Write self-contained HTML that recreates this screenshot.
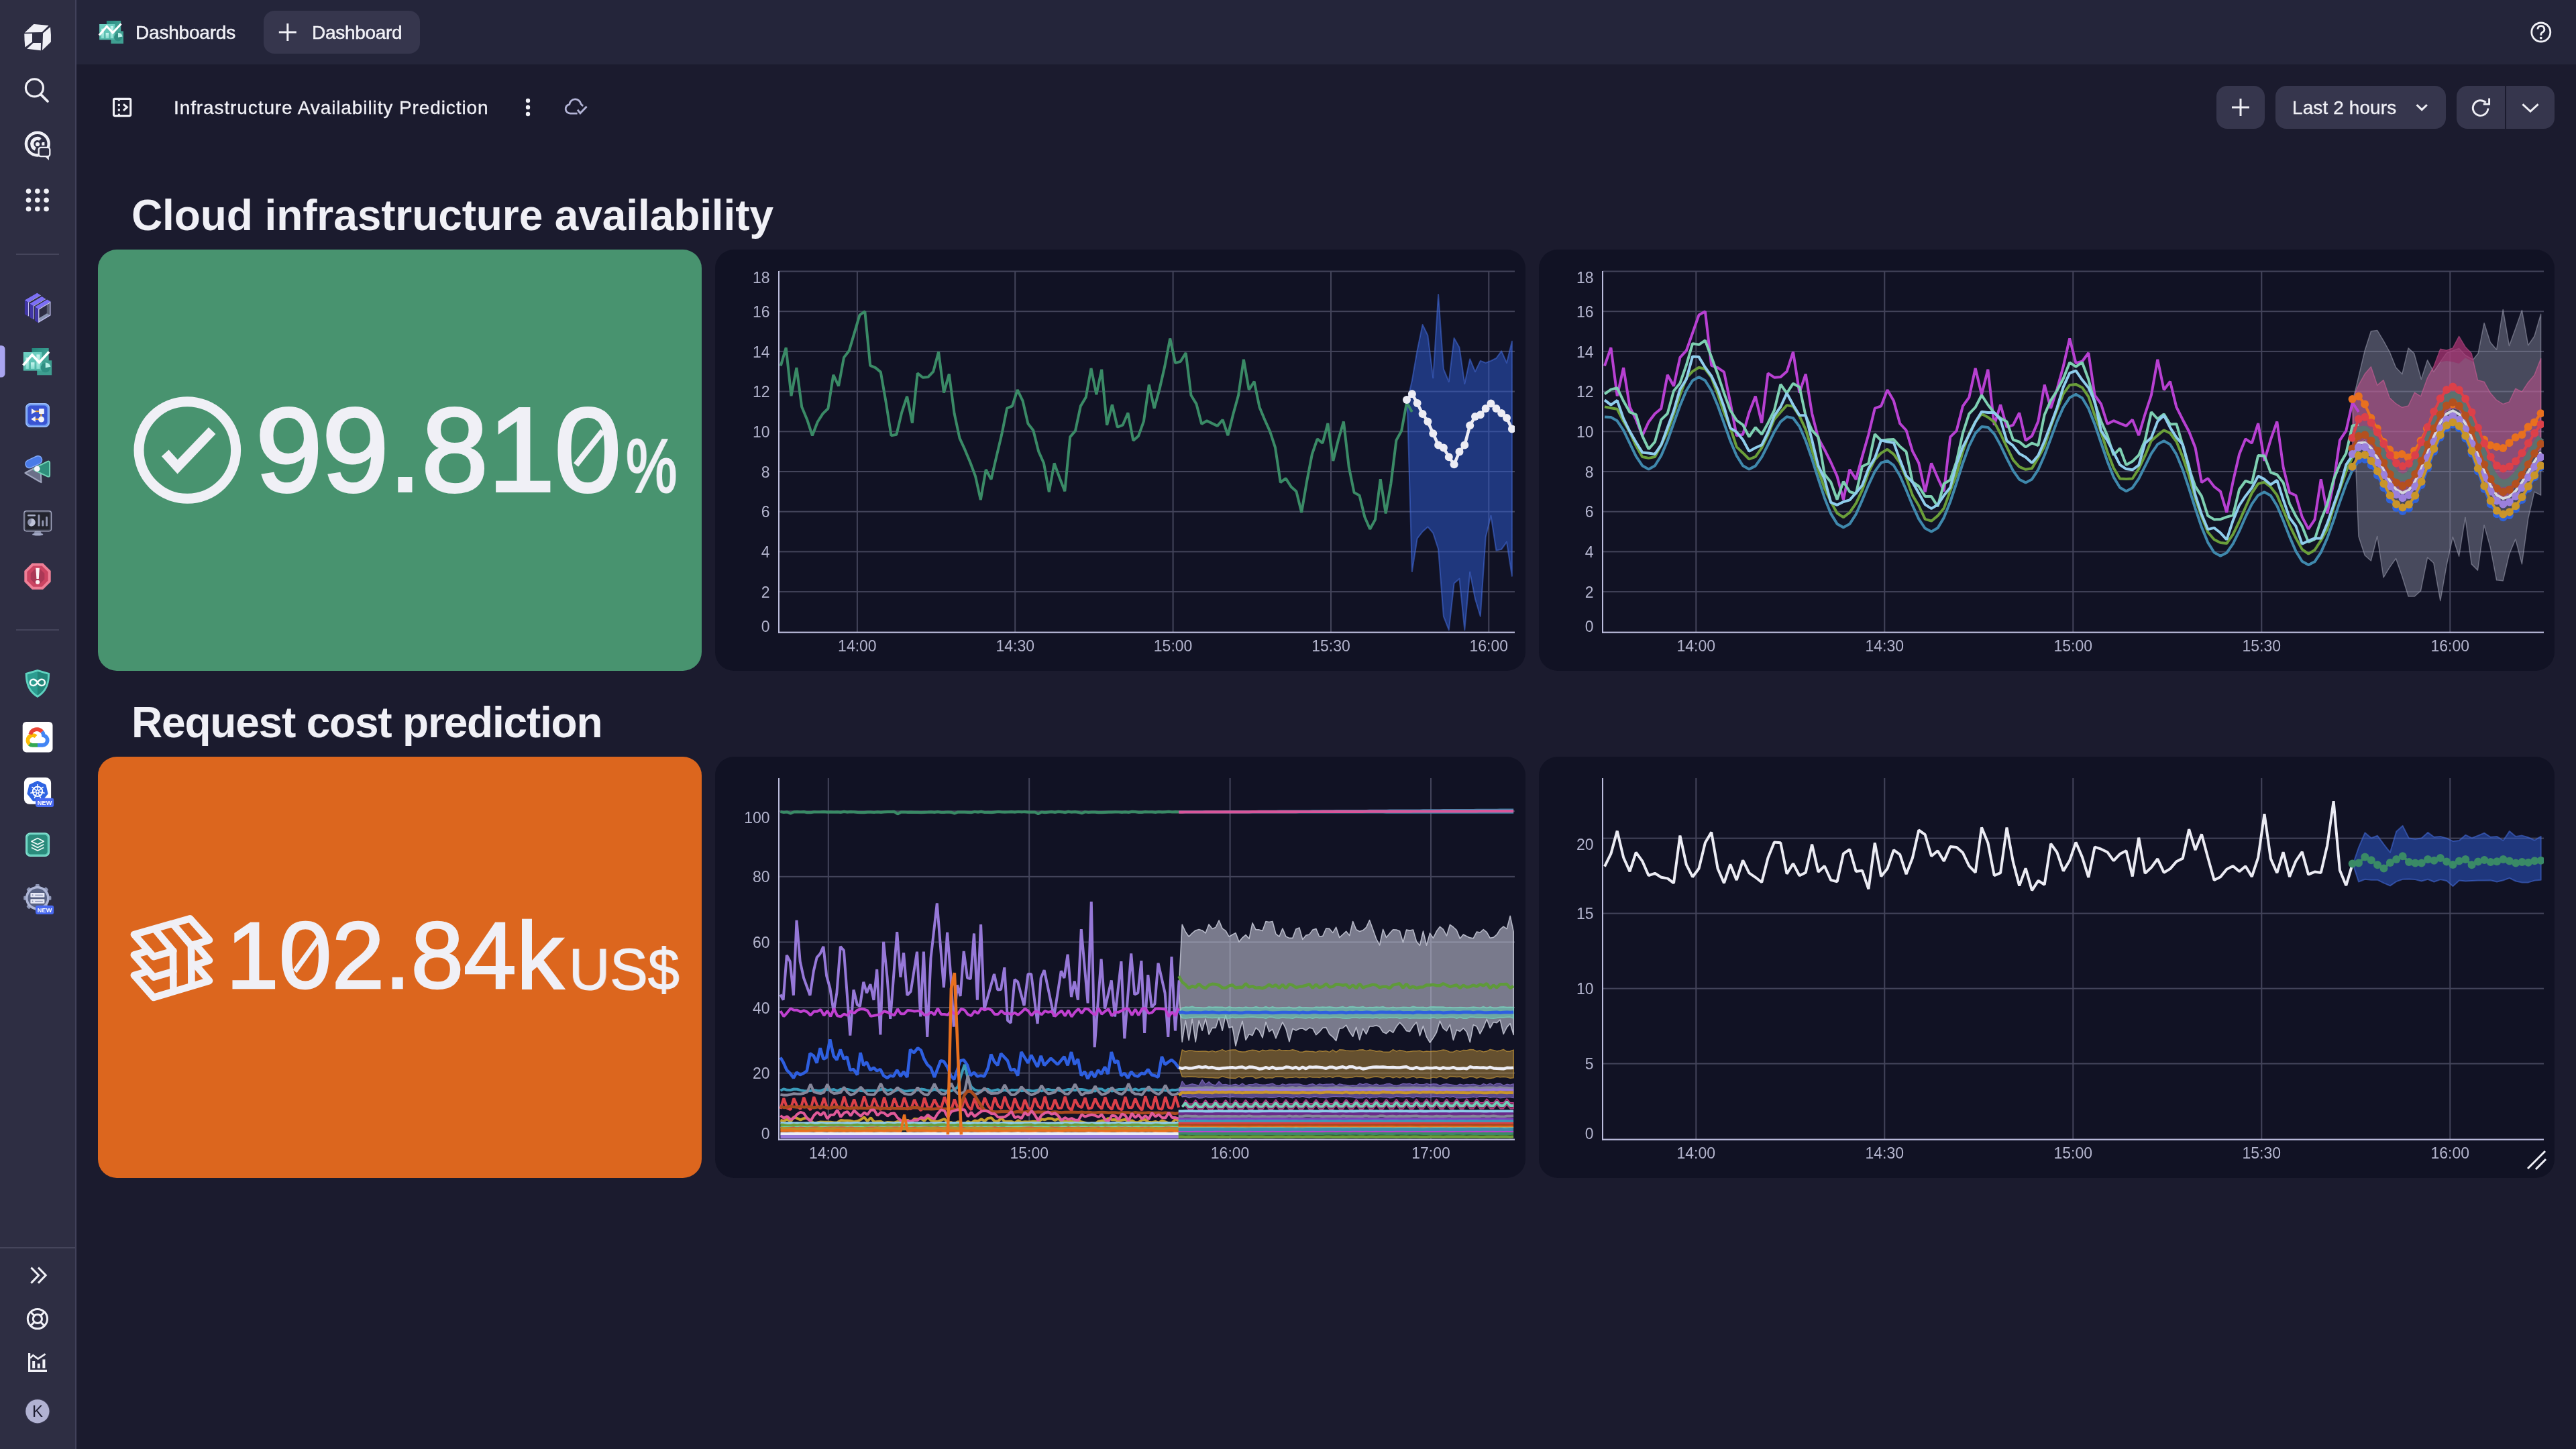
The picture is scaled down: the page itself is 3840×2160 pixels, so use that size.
<!DOCTYPE html><html><head><meta charset="utf-8"><title>Infrastructure Availability Prediction</title><style>
*{box-sizing:border-box;margin:0;padding:0}
html,body{width:3840px;height:2160px;overflow:hidden;background:#1b1b2e;font-family:"Liberation Sans",sans-serif;color:#f0f0f6}
.abs{position:absolute}
#sidebar{position:absolute;left:0;top:0;width:114px;height:2160px;background:#2e2e43;border-right:2px solid #41415a}
#topbar{position:absolute;left:114px;top:0;width:3726px;height:96px;background:#24253a}
#main{position:absolute;left:114px;top:96px;width:3726px;height:2064px;background:#1b1b2e}
.btn{position:absolute;background:#36364d;border-radius:16px}
.t{position:absolute;white-space:nowrap;line-height:1;transform-origin:0 0;will-change:transform}
svg{position:absolute;left:0;top:0;overflow:visible}
</style></head><body>
<div id="main"></div>
<div id="topbar"></div>
<div id="sidebar"></div>
<div class="btn" style="left:393px;top:16px;width:233px;height:64px"></div>
<div class="t" style="left:202px;top:34.70px;font-size:28px;font-weight:normal;color:#f0f0f6;letter-spacing:-0.2px;-webkit-text-stroke:0.5px #f0f0f6;">Dashboards</div>
<div class="t" style="left:465px;top:34.70px;font-size:28px;font-weight:normal;color:#f0f0f6;letter-spacing:-0.3px;-webkit-text-stroke:0.5px #f0f0f6;">Dashboard</div>
<div class="t" style="left:258.5px;top:146.60px;font-size:28px;font-weight:normal;color:#f0f0f6;letter-spacing:0.9px;-webkit-text-stroke:0.35px #f0f0f6;">Infrastructure Availability Prediction</div>
<div class="btn" style="left:3304px;top:128px;width:72px;height:64px"></div>
<div class="btn" style="left:3392px;top:128px;width:254px;height:64px"></div>
<div class="btn" style="left:3662px;top:128px;width:72px;height:64px;border-radius:16px 0 0 16px"></div>
<div class="btn" style="left:3736px;top:128px;width:72px;height:64px;border-radius:0 16px 16px 0"></div>
<div class="t" style="left:3416.5px;top:146.60px;font-size:28px;font-weight:normal;color:#f0f0f6;letter-spacing:0.1px;-webkit-text-stroke:0.35px #f0f0f6;">Last 2 hours</div>
<div class="t" style="left:196px;top:288.62px;font-size:64px;font-weight:bold;color:#f0f0f6;letter-spacing:-0.1px;">Cloud infrastructure availability</div>
<div class="t" style="left:196px;top:1044.62px;font-size:64px;font-weight:bold;color:#f0f0f6;letter-spacing:-1.2px;">Request cost prediction</div>
<div class="abs" style="left:146px;top:372px;width:900px;height:628px;border-radius:28px;background:#48936f"></div>
<div class="abs" style="left:146px;top:1128px;width:900px;height:628px;border-radius:28px;background:#dc661e"></div>
<div class="t" style="left:381px;top:581.28px;font-size:179px;font-weight:normal;color:#f0f0f6;-webkit-text-stroke:4px #f0f0f6;letter-spacing:-0.5px;">99.810</div>
<div class="t" style="left:932.5px;top:637.85px;font-size:113px;font-weight:normal;color:#f0f0f6;-webkit-text-stroke:3px #f0f0f6;transform:scaleX(0.76);">%</div>
<div class="t" style="left:337px;top:1354.22px;font-size:141.5px;font-weight:normal;color:#f0f0f6;-webkit-text-stroke:2.5px #f0f0f6;">102.84k</div>
<div class="t" style="left:848px;top:1401.35px;font-size:87px;font-weight:normal;color:#f0f0f6;-webkit-text-stroke:1.2px #f0f0f6;transform:scaleX(0.975);">US$</div>
<svg width="3840" height="2160" viewBox="0 0 3840 2160">
<rect x="1066" y="372" width="1208" height="628" rx="28" fill="#111224"/><rect x="1161" y="881.1" width="1097" height="2" fill="#43445a"/><rect x="1161" y="821.4" width="1097" height="2" fill="#43445a"/><rect x="1161" y="761.7" width="1097" height="2" fill="#43445a"/><rect x="1161" y="702.0" width="1097" height="2" fill="#43445a"/><rect x="1161" y="642.3" width="1097" height="2" fill="#43445a"/><rect x="1161" y="582.6" width="1097" height="2" fill="#43445a"/><rect x="1161" y="522.9" width="1097" height="2" fill="#43445a"/><rect x="1161" y="463.2" width="1097" height="2" fill="#43445a"/><rect x="1161" y="403.5" width="1097" height="2" fill="#43445a"/><rect x="1276.9" y="404" width="2" height="538" fill="#43445a"/><rect x="1512.2" y="404" width="2" height="538" fill="#43445a"/><rect x="1747.6" y="404" width="2" height="538" fill="#43445a"/><rect x="1983.0" y="404" width="2" height="538" fill="#43445a"/><rect x="2218.3" y="404" width="2" height="538" fill="#43445a"/><clipPath id="c1"><rect x="1161" y="400" width="1097" height="542"/></clipPath><g clip-path="url(#c1)"><path d="M2097.8,598.5 L2104.9,567.2 L2112.7,522.1 L2120.6,483.9 L2128.4,500.0 L2136.3,563.3 L2144.1,439.1 L2151.9,550.2 L2159.8,569.0 L2167.6,503.9 L2175.5,517.9 L2183.3,572.0 L2191.2,535.2 L2199.0,554.0 L2206.8,537.9 L2214.7,540.9 L2222.5,537.9 L2230.4,534.0 L2238.2,523.3 L2246.0,540.9 L2253.9,508.7 L2253.9,858.8 L2246.0,807.8 L2238.2,818.8 L2230.4,820.6 L2222.5,768.7 L2214.7,800.6 L2206.8,918.8 L2199.0,892.8 L2191.2,852.8 L2183.3,939.1 L2175.5,862.7 L2167.6,869.6 L2159.8,939.1 L2151.9,918.8 L2144.1,818.8 L2136.3,794.6 L2128.4,785.4 L2120.6,792.5 L2112.7,802.7 L2104.9,852.0 L2097.8,598.5 Z" fill="rgba(46,92,214,0.50)" stroke="rgba(70,110,220,0.55)" stroke-width="2" stroke-linejoin="round"/><path d="M1163.8,545.4 L1171.7,518.2 L1179.5,590.2 L1187.4,548.1 L1195.2,606.6 L1203.1,625.4 L1210.9,649.3 L1218.7,629.0 L1226.6,616.7 L1234.4,609.0 L1242.3,558.8 L1250.1,575.5 L1258.0,532.9 L1265.8,522.7 L1273.6,496.4 L1281.5,469.6 L1289.3,464.2 L1297.2,544.8 L1305.0,548.1 L1312.8,554.6 L1320.7,599.7 L1328.5,649.3 L1336.4,647.8 L1344.2,614.9 L1352.1,590.8 L1359.9,630.5 L1367.7,556.4 L1375.6,562.7 L1383.4,562.1 L1391.3,553.8 L1399.1,524.5 L1407.0,585.4 L1414.8,557.6 L1422.6,616.4 L1430.5,653.2 L1438.3,670.2 L1446.2,689.0 L1454.0,709.9 L1461.8,745.1 L1469.7,700.0 L1477.5,714.6 L1485.4,680.6 L1493.2,647.8 L1501.1,608.7 L1508.9,605.4 L1516.7,581.2 L1524.6,597.6 L1532.4,631.4 L1540.3,641.5 L1548.1,672.6 L1555.9,690.2 L1563.8,733.4 L1571.6,690.5 L1579.5,712.3 L1587.3,732.3 L1595.2,651.4 L1603.0,642.1 L1610.8,605.4 L1618.7,592.3 L1626.5,549.0 L1634.4,588.1 L1642.2,550.8 L1650.1,633.7 L1657.9,603.3 L1665.7,636.7 L1673.6,633.7 L1681.4,615.5 L1689.3,656.7 L1697.1,649.9 L1704.9,628.1 L1712.8,573.5 L1720.6,608.7 L1728.5,580.0 L1736.3,546.0 L1744.2,504.5 L1752.0,541.2 L1759.8,538.8 L1767.7,526.0 L1775.5,589.3 L1783.4,602.1 L1791.2,632.0 L1799.1,627.2 L1806.9,631.1 L1814.7,634.9 L1822.6,625.7 L1830.4,649.0 L1838.3,617.3 L1846.1,589.0 L1853.9,535.8 L1861.8,581.2 L1869.6,568.7 L1877.5,606.9 L1885.3,625.7 L1893.2,643.3 L1901.0,667.2 L1908.8,719.1 L1916.7,713.1 L1924.5,725.4 L1932.4,732.6 L1940.2,763.9 L1948.0,717.9 L1955.9,677.0 L1963.7,654.3 L1971.6,660.6 L1979.4,631.1 L1987.3,686.9 L1995.1,655.2 L2002.9,628.4 L2010.8,696.4 L2018.6,734.3 L2026.5,738.5 L2034.3,770.5 L2042.2,788.7 L2050.0,774.6 L2057.8,714.3 L2065.7,765.4 L2073.5,720.3 L2081.4,656.4 L2089.2,642.1 L2097.0,600.0 L2104.9,614.0" fill="none" stroke="#3a8a66" stroke-width="4" stroke-linejoin="bevel" stroke-linecap="butt" /><path d="M2097.0,596.1 L2104.9,587.2 L2112.7,600.9 L2120.6,617.0 L2128.4,628.4 L2136.3,646.3 L2144.1,663.6 L2151.9,667.5 L2159.8,681.2 L2167.6,692.3 L2175.5,673.4 L2183.3,663.6 L2191.2,634.3 L2199.0,620.9 L2206.8,618.2 L2214.7,609.0 L2222.5,601.5 L2230.4,609.0 L2238.2,616.1 L2246.0,623.0 L2253.9,639.4" fill="none" stroke="#ececf4" stroke-width="4.6" stroke-linejoin="bevel" stroke-linecap="butt" /><circle cx="2097.0" cy="596.1" r="6.0" fill="#ececf4"/><circle cx="2104.9" cy="587.2" r="6.0" fill="#ececf4"/><circle cx="2112.7" cy="600.9" r="6.0" fill="#ececf4"/><circle cx="2120.6" cy="617.0" r="6.0" fill="#ececf4"/><circle cx="2128.4" cy="628.4" r="6.0" fill="#ececf4"/><circle cx="2136.3" cy="646.3" r="6.0" fill="#ececf4"/><circle cx="2144.1" cy="663.6" r="6.0" fill="#ececf4"/><circle cx="2151.9" cy="667.5" r="6.0" fill="#ececf4"/><circle cx="2159.8" cy="681.2" r="6.0" fill="#ececf4"/><circle cx="2167.6" cy="692.3" r="6.0" fill="#ececf4"/><circle cx="2175.5" cy="673.4" r="6.0" fill="#ececf4"/><circle cx="2183.3" cy="663.6" r="6.0" fill="#ececf4"/><circle cx="2191.2" cy="634.3" r="6.0" fill="#ececf4"/><circle cx="2199.0" cy="620.9" r="6.0" fill="#ececf4"/><circle cx="2206.8" cy="618.2" r="6.0" fill="#ececf4"/><circle cx="2214.7" cy="609.0" r="6.0" fill="#ececf4"/><circle cx="2222.5" cy="601.5" r="6.0" fill="#ececf4"/><circle cx="2230.4" cy="609.0" r="6.0" fill="#ececf4"/><circle cx="2238.2" cy="616.1" r="6.0" fill="#ececf4"/><circle cx="2246.0" cy="623.0" r="6.0" fill="#ececf4"/><circle cx="2253.9" cy="639.4" r="6.0" fill="#ececf4"/></g><rect x="1160" y="404" width="2" height="539.8" fill="#bbbcdc"/><rect x="1160" y="941.6" width="1098" height="2.2" fill="#bbbcdc"/><text x="1147.5" y="890.7" font-size="23" fill="#b4b5ce" text-anchor="end" font-family="Liberation Sans, sans-serif">2</text><text x="1147.5" y="831.0" font-size="23" fill="#b4b5ce" text-anchor="end" font-family="Liberation Sans, sans-serif">4</text><text x="1147.5" y="771.3" font-size="23" fill="#b4b5ce" text-anchor="end" font-family="Liberation Sans, sans-serif">6</text><text x="1147.5" y="711.6" font-size="23" fill="#b4b5ce" text-anchor="end" font-family="Liberation Sans, sans-serif">8</text><text x="1147.5" y="651.9" font-size="23" fill="#b4b5ce" text-anchor="end" font-family="Liberation Sans, sans-serif">10</text><text x="1147.5" y="592.2" font-size="23" fill="#b4b5ce" text-anchor="end" font-family="Liberation Sans, sans-serif">12</text><text x="1147.5" y="532.5" font-size="23" fill="#b4b5ce" text-anchor="end" font-family="Liberation Sans, sans-serif">14</text><text x="1147.5" y="472.8" font-size="23" fill="#b4b5ce" text-anchor="end" font-family="Liberation Sans, sans-serif">16</text><text x="1147.5" y="421.5" font-size="23" fill="#b4b5ce" text-anchor="end" font-family="Liberation Sans, sans-serif">18</text><text x="1147.5" y="942.1" font-size="23" fill="#b4b5ce" text-anchor="end" font-family="Liberation Sans, sans-serif">0</text><text x="1277.9" y="971.2" font-size="23" fill="#b4b5ce" text-anchor="middle" font-family="Liberation Sans, sans-serif">14:00</text><text x="1513.2" y="971.2" font-size="23" fill="#b4b5ce" text-anchor="middle" font-family="Liberation Sans, sans-serif">14:30</text><text x="1748.6" y="971.2" font-size="23" fill="#b4b5ce" text-anchor="middle" font-family="Liberation Sans, sans-serif">15:00</text><text x="1984.0" y="971.2" font-size="23" fill="#b4b5ce" text-anchor="middle" font-family="Liberation Sans, sans-serif">15:30</text><text x="2219.3" y="971.2" font-size="23" fill="#b4b5ce" text-anchor="middle" font-family="Liberation Sans, sans-serif">16:00</text><rect x="2294" y="372" width="1514" height="628" rx="28" fill="#111224"/><rect x="2389" y="881.1" width="1403" height="2" fill="#43445a"/><rect x="2389" y="821.4" width="1403" height="2" fill="#43445a"/><rect x="2389" y="761.7" width="1403" height="2" fill="#43445a"/><rect x="2389" y="702.0" width="1403" height="2" fill="#43445a"/><rect x="2389" y="642.3" width="1403" height="2" fill="#43445a"/><rect x="2389" y="582.6" width="1403" height="2" fill="#43445a"/><rect x="2389" y="522.9" width="1403" height="2" fill="#43445a"/><rect x="2389" y="463.2" width="1403" height="2" fill="#43445a"/><rect x="2389" y="403.5" width="1403" height="2" fill="#43445a"/><rect x="2527.3" y="404" width="2" height="538" fill="#43445a"/><rect x="2808.3" y="404" width="2" height="538" fill="#43445a"/><rect x="3089.3" y="404" width="2" height="538" fill="#43445a"/><rect x="3370.3" y="404" width="2" height="538" fill="#43445a"/><rect x="3651.3" y="404" width="2" height="538" fill="#43445a"/><clipPath id="c2"><rect x="2389" y="400" width="1403" height="542"/></clipPath><g clip-path="url(#c2)"><path d="M3506.6,599.0 L3510.9,582.5 L3525.1,522.8 L3534.4,493.7 L3543.7,492.4 L3553.0,507.9 L3562.2,524.5 L3571.5,547.7 L3580.8,557.6 L3590.1,518.9 L3598.7,526.8 L3609.3,565.2 L3618.6,536.8 L3627.8,554.3 L3637.8,539.4 L3647.1,526.1 L3656.3,522.8 L3665.6,519.5 L3674.9,529.5 L3686.5,536.1 L3694.1,526.8 L3703.1,481.4 L3712.3,510.2 L3721.6,521.2 L3731.2,461.5 L3740.5,515.5 L3749.8,489.7 L3759.4,462.5 L3768.7,514.6 L3777.9,501.3 L3787.6,468.2 L3787.6,738.2 L3777.9,733.2 L3768.7,773.0 L3759.4,840.9 L3749.8,803.8 L3740.5,826.0 L3731.2,865.8 L3721.6,864.8 L3712.3,816.1 L3703.1,782.9 L3693.5,850.2 L3684.2,840.9 L3674.9,771.3 L3665.6,829.3 L3656.3,800.5 L3647.1,842.6 L3637.8,895.6 L3627.8,839.3 L3618.6,831.0 L3608.6,880.7 L3599.4,889.0 L3590.1,889.0 L3580.8,859.2 L3571.5,832.6 L3562.2,845.9 L3553.0,860.8 L3543.7,799.5 L3534.4,836.0 L3525.1,827.7 L3515.9,799.5 L3511.9,698.4 L3506.6,599.0 Z" fill="rgba(150,152,175,0.42)" stroke="rgba(170,172,190,0.5)" stroke-width="1.5" stroke-linejoin="round"/><path d="M3507.2,605.7 L3510.9,585.8 L3515.9,574.2 L3525.1,557.6 L3534.4,546.7 L3543.7,574.2 L3553.0,566.6 L3562.2,593.1 L3571.5,601.7 L3580.8,607.3 L3590.1,605.0 L3599.4,585.1 L3608.6,590.8 L3618.6,563.3 L3627.8,546.7 L3637.8,520.2 L3647.1,522.2 L3656.3,518.9 L3665.6,501.3 L3674.9,516.9 L3684.2,526.8 L3693.5,566.6 L3703.1,569.2 L3712.3,585.8 L3721.6,596.4 L3731.2,602.4 L3740.5,599.0 L3749.8,579.2 L3759.4,584.1 L3768.7,569.9 L3777.9,559.3 L3787.6,534.4 L3787.6,669.6 L3777.9,676.9 L3768.7,689.5 L3759.4,706.7 L3749.8,723.3 L3740.5,736.6 L3731.2,741.5 L3721.6,735.9 L3712.3,721.6 L3703.1,700.1 L3693.5,673.6 L3684.2,647.1 L3674.9,625.6 L3665.6,610.6 L3656.3,608.0 L3646.1,613.3 L3636.8,627.2 L3627.2,647.1 L3617.9,670.3 L3608.6,695.1 L3599.0,716.7 L3589.7,729.9 L3580.5,732.6 L3571.5,726.6 L3562.2,715.0 L3553.0,698.4 L3543.7,680.2 L3534.4,665.3 L3525.1,655.4 L3515.9,660.3 L3506.6,676.9 Z" fill="rgba(215,80,150,0.46)" stroke="rgba(225,100,160,0.5)" stroke-width="1.5" stroke-linejoin="round"/><path d="M3627.8,546.7 L3637.8,520.2 L3647.1,522.2 L3656.3,518.9 L3665.6,501.3 L3674.9,516.9 L3684.2,526.8 L3688.2,539.4 L3688.2,539.4 L3684.2,538.1 L3674.9,533.4 L3665.6,542.1 L3656.3,539.4 L3647.1,538.1 L3637.8,539.4 L3627.8,549.3 Z" fill="rgba(150,40,100,0.55)"/><path d="M2392.0,545.4 L2401.4,518.2 L2410.7,590.2 L2420.1,548.1 L2429.5,606.6 L2438.8,625.4 L2448.2,649.3 L2457.6,629.0 L2466.9,616.7 L2476.3,609.0 L2485.7,558.8 L2495.0,575.5 L2504.4,532.9 L2513.8,522.7 L2523.1,496.4 L2532.5,469.6 L2541.9,464.2 L2551.2,544.8 L2560.6,548.1 L2570.0,554.6 L2579.3,599.7 L2588.7,649.3 L2598.1,647.8 L2607.4,614.9 L2616.8,590.8 L2626.2,630.5 L2635.5,556.4 L2644.9,562.7 L2654.3,562.1 L2663.6,553.8 L2673.0,524.5 L2682.4,585.4 L2691.7,557.6 L2701.1,616.4 L2710.5,653.2 L2719.8,670.2 L2729.2,689.0 L2738.6,709.9 L2747.9,745.1 L2757.3,700.0 L2766.7,714.6 L2776.0,680.6 L2785.4,647.8 L2794.8,608.7 L2804.1,605.4 L2813.5,581.2 L2822.9,597.6 L2832.2,631.4 L2841.6,641.5 L2851.0,672.6 L2860.3,690.2 L2869.7,733.4 L2879.1,690.5 L2888.5,712.3 L2897.8,732.3 L2907.2,651.4 L2916.6,642.1 L2925.9,605.4 L2935.3,592.3 L2944.7,549.0 L2954.0,588.1 L2963.4,550.8 L2972.8,633.7 L2982.1,603.3 L2991.5,636.7 L3000.9,633.7 L3010.2,615.5 L3019.6,656.7 L3029.0,649.9 L3038.3,628.1 L3047.7,573.5 L3057.1,608.7 L3066.4,580.0 L3075.8,546.0 L3085.2,504.5 L3094.5,541.2 L3103.9,538.8 L3113.3,526.0 L3122.6,589.3 L3132.0,602.1 L3141.4,632.0 L3150.7,627.2 L3160.1,631.1 L3169.5,634.9 L3178.8,625.7 L3188.2,649.0 L3197.6,617.3 L3206.9,589.0 L3216.3,535.8 L3225.7,581.2 L3235.0,568.7 L3244.4,606.9 L3253.8,625.7 L3263.1,643.3 L3272.5,667.2 L3281.9,719.1 L3291.2,713.1 L3300.6,725.4 L3310.0,732.6 L3319.3,763.9 L3328.7,717.9 L3338.1,677.0 L3347.4,654.3 L3356.8,660.6 L3366.2,631.1 L3375.5,686.9 L3384.9,655.2 L3394.3,628.4 L3403.6,696.4 L3413.0,734.3 L3422.4,738.5 L3431.7,770.5 L3441.1,788.7 L3450.5,774.6 L3459.8,714.3 L3469.2,765.4 L3478.6,720.3 L3487.9,656.4 L3497.3,642.1 L3506.7,600.0 L3516.0,614.0" fill="none" stroke="#b840d2" stroke-width="4" stroke-linejoin="bevel" stroke-linecap="butt" /><path d="M2392.0,621.5 L2401.4,622.1 L2410.7,627.3 L2420.1,641.4 L2429.5,660.8 L2438.8,680.1 L2448.2,694.2 L2457.6,699.4 L2466.9,694.2 L2476.3,679.3 L2485.7,657.0 L2495.0,630.8 L2504.4,604.5 L2513.8,582.2 L2523.1,567.3 L2532.5,562.1 L2541.9,567.3 L2551.2,582.2 L2560.6,604.5 L2570.0,630.8 L2579.3,657.0 L2588.7,679.3 L2598.1,694.2 L2607.4,699.4 L2616.8,694.6 L2626.2,681.4 L2635.5,663.0 L2644.9,643.8 L2654.3,628.6 L2663.6,621.1 L2673.0,623.2 L2682.4,635.7 L2691.7,657.0 L2701.1,684.2 L2710.5,713.9 L2719.8,742.2 L2729.2,765.6 L2738.6,780.9 L2747.9,786.3 L2757.3,781.1 L2766.7,766.5 L2776.0,745.6 L2785.4,722.8 L2794.8,702.8 L2804.1,689.9 L2813.5,686.8 L2822.9,693.7 L2832.2,709.2 L2841.6,730.4 L2851.0,753.3 L2860.3,773.6 L2869.7,787.6 L2879.1,792.5 L2888.5,787.1 L2897.8,771.6 L2907.2,748.0 L2916.6,719.8 L2925.9,690.7 L2935.3,664.9 L2944.7,645.8 L2954.0,636.1 L2963.4,636.9 L2972.8,646.9 L2982.1,663.6 L2991.5,683.3 L3000.9,701.7 L3010.2,714.7 L3019.6,719.4 L3029.0,714.4 L3038.3,700.1 L3047.7,678.8 L3057.1,653.6 L3066.4,628.4 L3075.8,607.1 L3085.2,592.8 L3094.5,587.8 L3103.9,593.3 L3113.3,608.9 L3122.6,632.4 L3132.0,660.0 L3141.4,687.7 L3150.7,711.1 L3160.1,726.8 L3169.5,732.3 L3178.8,727.2 L3188.2,713.5 L3197.6,694.8 L3206.9,676.1 L3216.3,662.3 L3225.7,657.3 L3235.0,662.5 L3244.4,677.4 L3253.8,700.2 L3263.1,728.1 L3272.5,757.9 L3281.9,785.8 L3291.2,808.6 L3300.6,823.5 L3310.0,828.7 L3319.3,824.0 L3328.7,810.7 L3338.1,791.7 L3347.4,770.5 L3356.8,751.4 L3366.2,738.2 L3375.5,733.4 L3384.9,738.8 L3394.3,753.9 L3403.6,775.7 L3413.0,799.9 L3422.4,821.6 L3431.7,836.7 L3441.1,842.1 L3450.5,837.3 L3459.8,823.4 L3469.2,802.1 L3478.6,776.0 L3487.9,748.2 L3497.3,722.1 L3506.7,700.8 L3516.0,686.9" fill="none" stroke="#3f88ac" stroke-width="4" stroke-linejoin="bevel" stroke-linecap="butt" /><path d="M2392.0,606.4 L2401.4,608.2 L2410.7,609.8 L2420.1,628.1 L2429.5,644.1 L2438.8,664.6 L2448.2,681.0 L2457.6,682.9 L2466.9,681.1 L2476.3,663.4 L2485.7,643.7 L2495.0,617.3 L2504.4,588.6 L2513.8,563.5 L2523.1,553.6 L2532.5,547.7 L2541.9,550.0 L2551.2,562.6 L2560.6,587.5 L2570.0,615.1 L2579.3,637.2 L2588.7,666.1 L2598.1,675.2 L2607.4,684.5 L2616.8,680.8 L2626.2,667.7 L2635.5,647.9 L2644.9,625.1 L2654.3,614.5 L2663.6,604.1 L2673.0,605.8 L2682.4,620.2 L2691.7,640.2 L2701.1,670.9 L2710.5,700.6 L2719.8,727.9 L2729.2,747.9 L2738.6,765.0 L2747.9,771.2 L2757.3,764.0 L2766.7,750.4 L2776.0,730.6 L2785.4,704.3 L2794.8,685.0 L2804.1,675.4 L2813.5,669.8 L2822.9,677.1 L2832.2,690.1 L2841.6,712.3 L2851.0,738.4 L2860.3,753.8 L2869.7,773.9 L2879.1,776.7 L2888.5,768.9 L2897.8,757.6 L2907.2,731.7 L2916.6,706.7 L2925.9,673.1 L2935.3,646.5 L2944.7,628.8 L2954.0,617.0 L2963.4,621.9 L2972.8,629.1 L2982.1,646.5 L2991.5,666.3 L3000.9,685.6 L3010.2,695.9 L3019.6,699.8 L3029.0,698.2 L3038.3,682.5 L3047.7,665.5 L3057.1,635.7 L3066.4,610.9 L3075.8,587.1 L3085.2,574.1 L3094.5,572.9 L3103.9,577.7 L3113.3,591.3 L3122.6,619.4 L3132.0,643.9 L3141.4,673.6 L3150.7,697.4 L3160.1,713.5 L3169.5,713.9 L3178.8,713.5 L3188.2,698.9 L3197.6,679.2 L3206.9,657.0 L3216.3,648.9 L3225.7,641.3 L3235.0,645.7 L3244.4,658.2 L3253.8,681.5 L3263.1,709.1 L3272.5,743.0 L3281.9,770.0 L3291.2,793.2 L3300.6,804.3 L3310.0,809.0 L3319.3,810.0 L3328.7,796.6 L3338.1,777.2 L3347.4,756.0 L3356.8,735.1 L3366.2,721.1 L3375.5,718.7 L3384.9,726.0 L3394.3,738.1 L3403.6,760.2 L3413.0,783.0 L3422.4,802.0 L3431.7,818.9 L3441.1,825.6 L3450.5,820.0 L3459.8,805.7 L3469.2,788.9 L3478.6,756.7 L3487.9,729.8 L3497.3,703.0 L3506.7,682.3 L3516.0,671.3" fill="none" stroke="#6a9e3a" stroke-width="4" stroke-linejoin="bevel" stroke-linecap="butt" /><path d="M2392.0,587.4 L2401.4,580.6 L2410.7,578.3 L2420.1,597.8 L2429.5,614.4 L2438.8,618.1 L2448.2,649.9 L2457.6,669.4 L2466.9,658.7 L2476.3,625.6 L2485.7,616.5 L2495.0,582.7 L2504.4,571.2 L2513.8,544.2 L2523.1,512.1 L2532.5,513.8 L2541.9,507.5 L2551.2,532.3 L2560.6,557.8 L2570.0,586.1 L2579.3,611.5 L2588.7,626.5 L2598.1,633.4 L2607.4,651.2 L2616.8,637.2 L2626.2,647.5 L2635.5,630.7 L2644.9,611.6 L2654.3,573.0 L2663.6,586.1 L2673.0,571.7 L2682.4,576.9 L2691.7,619.9 L2701.1,641.3 L2710.5,651.5 L2719.8,707.1 L2729.2,718.8 L2738.6,744.7 L2747.9,717.8 L2757.3,733.0 L2766.7,736.0 L2776.0,695.3 L2785.4,690.8 L2794.8,647.1 L2804.1,656.7 L2813.5,655.6 L2822.9,655.0 L2832.2,665.5 L2841.6,673.6 L2851.0,718.5 L2860.3,725.0 L2869.7,739.9 L2879.1,740.1 L2888.5,754.9 L2897.8,720.9 L2907.2,715.4 L2916.6,687.7 L2925.9,646.0 L2935.3,616.8 L2944.7,607.1 L2954.0,589.0 L2963.4,603.5 L2972.8,615.4 L2982.1,623.5 L2991.5,628.5 L3000.9,655.5 L3010.2,658.6 L3019.6,666.4 L3029.0,660.5 L3038.3,664.1 L3047.7,618.2 L3057.1,596.9 L3066.4,582.3 L3075.8,564.3 L3085.2,540.4 L3094.5,546.7 L3103.9,540.2 L3113.3,565.8 L3122.6,600.7 L3132.0,627.8 L3141.4,649.4 L3150.7,678.5 L3160.1,668.3 L3169.5,693.1 L3178.8,687.8 L3188.2,678.5 L3197.6,656.3 L3206.9,614.3 L3216.3,624.5 L3225.7,617.3 L3235.0,632.6 L3244.4,631.9 L3253.8,663.7 L3263.1,698.1 L3272.5,725.1 L3281.9,739.7 L3291.2,768.8 L3300.6,774.4 L3310.0,774.2 L3319.3,770.6 L3328.7,768.1 L3338.1,729.5 L3347.4,716.8 L3356.8,720.1 L3366.2,679.0 L3375.5,679.5 L3384.9,704.4 L3394.3,707.5 L3403.6,719.4 L3413.0,750.8 L3422.4,769.4 L3431.7,784.4 L3441.1,807.9 L3450.5,804.0 L3459.8,775.2 L3469.2,751.7 L3478.6,715.2 L3487.9,692.2 L3497.3,675.7 L3506.7,634.4 L3516.0,632.9" fill="none" stroke="#7ed0b2" stroke-width="4" stroke-linejoin="bevel" stroke-linecap="butt" /><path d="M2392.0,596.3 L2401.4,603.6 L2410.7,596.8 L2420.1,623.9 L2429.5,643.1 L2438.8,659.2 L2448.2,674.4 L2457.6,675.6 L2466.9,676.9 L2476.3,663.2 L2485.7,637.5 L2495.0,612.3 L2504.4,580.1 L2513.8,565.5 L2523.1,531.4 L2532.5,532.1 L2541.9,547.8 L2551.2,560.4 L2560.6,580.5 L2570.0,606.4 L2579.3,638.1 L2588.7,643.9 L2598.1,655.5 L2607.4,672.7 L2616.8,667.5 L2626.2,663.3 L2635.5,644.5 L2644.9,619.9 L2654.3,606.5 L2663.6,586.1 L2673.0,603.5 L2682.4,619.1 L2691.7,619.3 L2701.1,656.1 L2710.5,694.4 L2719.8,713.8 L2729.2,748.9 L2738.6,752.8 L2747.9,748.0 L2757.3,745.4 L2766.7,734.6 L2776.0,723.5 L2785.4,698.4 L2794.8,682.9 L2804.1,656.3 L2813.5,658.6 L2822.9,659.9 L2832.2,685.6 L2841.6,709.2 L2851.0,718.8 L2860.3,735.2 L2869.7,752.1 L2879.1,758.1 L2888.5,752.4 L2897.8,738.6 L2907.2,726.8 L2916.6,691.9 L2925.9,666.5 L2935.3,648.1 L2944.7,629.0 L2954.0,613.7 L2963.4,614.9 L2972.8,615.0 L2982.1,625.7 L2991.5,657.1 L3000.9,664.4 L3010.2,676.2 L3019.6,681.6 L3029.0,690.0 L3038.3,679.0 L3047.7,657.5 L3057.1,633.0 L3066.4,607.7 L3075.8,576.8 L3085.2,556.2 L3094.5,552.6 L3103.9,566.3 L3113.3,578.0 L3122.6,598.1 L3132.0,642.0 L3141.4,656.6 L3150.7,674.3 L3160.1,692.9 L3169.5,699.1 L3178.8,700.3 L3188.2,693.4 L3197.6,660.8 L3206.9,652.4 L3216.3,628.1 L3225.7,619.2 L3235.0,637.4 L3244.4,652.1 L3253.8,662.6 L3263.1,695.6 L3272.5,737.9 L3281.9,766.8 L3291.2,789.1 L3300.6,786.9 L3310.0,794.3 L3319.3,804.5 L3328.7,775.9 L3338.1,753.3 L3347.4,739.4 L3356.8,727.3 L3366.2,709.6 L3375.5,714.4 L3384.9,722.4 L3394.3,715.8 L3403.6,744.8 L3413.0,771.8 L3422.4,784.3 L3431.7,810.8 L3441.1,806.2 L3450.5,802.4 L3459.8,802.5 L3469.2,780.3 L3478.6,753.2 L3487.9,726.6 L3497.3,692.7 L3506.7,678.8 L3516.0,661.3" fill="none" stroke="#8fcdec" stroke-width="4" stroke-linejoin="bevel" stroke-linecap="butt" /><path d="M3506.6,696.8 L3515.9,685.2 L3525.3,684.7 L3534.7,693.4 L3544.0,708.6 L3553.4,727.0 L3562.8,744.5 L3572.1,757.1 L3581.5,762.0 L3590.9,757.7 L3600.2,744.0 L3609.6,723.0 L3619.0,698.1 L3628.3,673.1 L3637.7,651.9 L3647.1,637.7 L3656.4,632.8 L3665.8,638.2 L3675.2,653.4 L3684.5,675.9 L3693.9,702.5 L3703.3,729.0 L3712.7,751.4 L3722.0,766.2 L3731.4,771.3 L3740.8,768.0 L3750.1,758.8 L3759.5,745.0 L3768.9,728.4 L3778.2,711.3 L3787.6,696.2" fill="none" stroke="#2f62d8" stroke-width="4" stroke-linejoin="bevel" stroke-linecap="butt" /><circle cx="3506.6" cy="696.8" r="6.0" fill="#2f62d8"/><circle cx="3515.9" cy="685.2" r="6.0" fill="#2f62d8"/><circle cx="3525.3" cy="684.7" r="6.0" fill="#2f62d8"/><circle cx="3534.7" cy="693.4" r="6.0" fill="#2f62d8"/><circle cx="3544.0" cy="708.6" r="6.0" fill="#2f62d8"/><circle cx="3553.4" cy="727.0" r="6.0" fill="#2f62d8"/><circle cx="3562.8" cy="744.5" r="6.0" fill="#2f62d8"/><circle cx="3572.1" cy="757.1" r="6.0" fill="#2f62d8"/><circle cx="3581.5" cy="762.0" r="6.0" fill="#2f62d8"/><circle cx="3590.9" cy="757.7" r="6.0" fill="#2f62d8"/><circle cx="3600.2" cy="744.0" r="6.0" fill="#2f62d8"/><circle cx="3609.6" cy="723.0" r="6.0" fill="#2f62d8"/><circle cx="3619.0" cy="698.1" r="6.0" fill="#2f62d8"/><circle cx="3628.3" cy="673.1" r="6.0" fill="#2f62d8"/><circle cx="3637.7" cy="651.9" r="6.0" fill="#2f62d8"/><circle cx="3647.1" cy="637.7" r="6.0" fill="#2f62d8"/><circle cx="3656.4" cy="632.8" r="6.0" fill="#2f62d8"/><circle cx="3665.8" cy="638.2" r="6.0" fill="#2f62d8"/><circle cx="3675.2" cy="653.4" r="6.0" fill="#2f62d8"/><circle cx="3684.5" cy="675.9" r="6.0" fill="#2f62d8"/><circle cx="3693.9" cy="702.5" r="6.0" fill="#2f62d8"/><circle cx="3703.3" cy="729.0" r="6.0" fill="#2f62d8"/><circle cx="3712.7" cy="751.4" r="6.0" fill="#2f62d8"/><circle cx="3722.0" cy="766.2" r="6.0" fill="#2f62d8"/><circle cx="3731.4" cy="771.3" r="6.0" fill="#2f62d8"/><circle cx="3740.8" cy="768.0" r="6.0" fill="#2f62d8"/><circle cx="3750.1" cy="758.8" r="6.0" fill="#2f62d8"/><circle cx="3759.5" cy="745.0" r="6.0" fill="#2f62d8"/><circle cx="3768.9" cy="728.4" r="6.0" fill="#2f62d8"/><circle cx="3778.2" cy="711.3" r="6.0" fill="#2f62d8"/><circle cx="3787.6" cy="696.2" r="6.0" fill="#2f62d8"/><path d="M3506.6,595.1 L3515.9,590.8 L3525.1,602.4 L3534.4,622.9 L3543.7,638.8 L3553.0,658.7 L3562.2,670.3 L3571.5,678.6 L3580.5,676.9 L3589.7,681.9 L3599.0,671.9 L3608.6,657.0 L3617.9,638.8 L3627.2,625.6 L3636.8,612.3 L3646.1,604.0 L3656.3,602.4 L3665.6,600.7 L3674.9,618.9 L3684.2,633.8 L3693.5,645.4 L3703.1,655.4 L3712.3,663.7 L3721.6,666.0 L3731.2,668.0 L3740.5,660.3 L3749.8,652.1 L3759.4,648.1 L3768.7,636.2 L3777.9,629.5 L3787.6,616.3" fill="none" stroke="#e8701e" stroke-width="4" stroke-linejoin="bevel" stroke-linecap="butt" /><circle cx="3506.6" cy="595.1" r="6.0" fill="#e8701e"/><circle cx="3515.9" cy="590.8" r="6.0" fill="#e8701e"/><circle cx="3525.1" cy="602.4" r="6.0" fill="#e8701e"/><circle cx="3534.4" cy="622.9" r="6.0" fill="#e8701e"/><circle cx="3543.7" cy="638.8" r="6.0" fill="#e8701e"/><circle cx="3553.0" cy="658.7" r="6.0" fill="#e8701e"/><circle cx="3562.2" cy="670.3" r="6.0" fill="#e8701e"/><circle cx="3571.5" cy="678.6" r="6.0" fill="#e8701e"/><circle cx="3580.5" cy="676.9" r="6.0" fill="#e8701e"/><circle cx="3589.7" cy="681.9" r="6.0" fill="#e8701e"/><circle cx="3599.0" cy="671.9" r="6.0" fill="#e8701e"/><circle cx="3608.6" cy="657.0" r="6.0" fill="#e8701e"/><circle cx="3617.9" cy="638.8" r="6.0" fill="#e8701e"/><circle cx="3627.2" cy="625.6" r="6.0" fill="#e8701e"/><circle cx="3636.8" cy="612.3" r="6.0" fill="#e8701e"/><circle cx="3646.1" cy="604.0" r="6.0" fill="#e8701e"/><circle cx="3656.3" cy="602.4" r="6.0" fill="#e8701e"/><circle cx="3665.6" cy="600.7" r="6.0" fill="#e8701e"/><circle cx="3674.9" cy="618.9" r="6.0" fill="#e8701e"/><circle cx="3684.2" cy="633.8" r="6.0" fill="#e8701e"/><circle cx="3693.5" cy="645.4" r="6.0" fill="#e8701e"/><circle cx="3703.1" cy="655.4" r="6.0" fill="#e8701e"/><circle cx="3712.3" cy="663.7" r="6.0" fill="#e8701e"/><circle cx="3721.6" cy="666.0" r="6.0" fill="#e8701e"/><circle cx="3731.2" cy="668.0" r="6.0" fill="#e8701e"/><circle cx="3740.5" cy="660.3" r="6.0" fill="#e8701e"/><circle cx="3749.8" cy="652.1" r="6.0" fill="#e8701e"/><circle cx="3759.4" cy="648.1" r="6.0" fill="#e8701e"/><circle cx="3768.7" cy="636.2" r="6.0" fill="#e8701e"/><circle cx="3777.9" cy="629.5" r="6.0" fill="#e8701e"/><circle cx="3787.6" cy="616.3" r="6.0" fill="#e8701e"/><path d="M3506.6,658.7 L3515.9,641.4 L3525.3,639.9 L3534.7,648.0 L3544.0,662.3 L3553.4,679.5 L3562.8,695.9 L3572.1,707.7 L3581.5,712.3 L3590.9,708.2 L3600.2,695.0 L3609.6,674.9 L3619.0,651.1 L3628.3,627.1 L3637.7,606.7 L3647.1,593.1 L3656.4,588.4 L3665.8,593.6 L3675.2,608.1 L3684.5,629.7 L3693.9,655.1 L3703.3,680.4 L3712.7,701.9 L3722.0,716.1 L3731.4,721.0 L3740.8,718.0 L3750.1,709.6 L3759.5,696.9 L3768.9,681.8 L3778.2,666.2 L3787.6,652.4" fill="none" stroke="#5c716f" stroke-width="11" stroke-linejoin="bevel" stroke-linecap="butt" /><path d="M3506.6,652.7 L3515.9,624.7 L3525.3,621.7 L3534.7,629.9 L3544.0,644.4 L3553.4,661.8 L3562.8,678.4 L3572.1,690.4 L3581.5,695.1 L3590.9,691.1 L3600.2,678.5 L3609.6,659.3 L3619.0,636.5 L3628.3,613.5 L3637.7,594.0 L3647.1,581.0 L3656.4,576.5 L3665.8,581.3 L3675.2,594.6 L3684.5,614.4 L3693.9,637.8 L3703.3,661.1 L3712.7,680.9 L3722.0,694.0 L3731.4,698.4 L3740.8,695.6 L3750.1,687.5 L3759.5,675.3 L3768.9,660.8 L3778.2,645.8 L3787.6,632.6" fill="none" stroke="#dc4049" stroke-width="4" stroke-linejoin="bevel" stroke-linecap="butt" /><circle cx="3506.6" cy="652.7" r="6.0" fill="#dc4049"/><circle cx="3515.9" cy="624.7" r="6.0" fill="#dc4049"/><circle cx="3525.3" cy="621.7" r="6.0" fill="#dc4049"/><circle cx="3534.7" cy="629.9" r="6.0" fill="#dc4049"/><circle cx="3544.0" cy="644.4" r="6.0" fill="#dc4049"/><circle cx="3553.4" cy="661.8" r="6.0" fill="#dc4049"/><circle cx="3562.8" cy="678.4" r="6.0" fill="#dc4049"/><circle cx="3572.1" cy="690.4" r="6.0" fill="#dc4049"/><circle cx="3581.5" cy="695.1" r="6.0" fill="#dc4049"/><circle cx="3590.9" cy="691.1" r="6.0" fill="#dc4049"/><circle cx="3600.2" cy="678.5" r="6.0" fill="#dc4049"/><circle cx="3609.6" cy="659.3" r="6.0" fill="#dc4049"/><circle cx="3619.0" cy="636.5" r="6.0" fill="#dc4049"/><circle cx="3628.3" cy="613.5" r="6.0" fill="#dc4049"/><circle cx="3637.7" cy="594.0" r="6.0" fill="#dc4049"/><circle cx="3647.1" cy="581.0" r="6.0" fill="#dc4049"/><circle cx="3656.4" cy="576.5" r="6.0" fill="#dc4049"/><circle cx="3665.8" cy="581.3" r="6.0" fill="#dc4049"/><circle cx="3675.2" cy="594.6" r="6.0" fill="#dc4049"/><circle cx="3684.5" cy="614.4" r="6.0" fill="#dc4049"/><circle cx="3693.9" cy="637.8" r="6.0" fill="#dc4049"/><circle cx="3703.3" cy="661.1" r="6.0" fill="#dc4049"/><circle cx="3712.7" cy="680.9" r="6.0" fill="#dc4049"/><circle cx="3722.0" cy="694.0" r="6.0" fill="#dc4049"/><circle cx="3731.4" cy="698.4" r="6.0" fill="#dc4049"/><circle cx="3740.8" cy="695.6" r="6.0" fill="#dc4049"/><circle cx="3750.1" cy="687.5" r="6.0" fill="#dc4049"/><circle cx="3759.5" cy="675.3" r="6.0" fill="#dc4049"/><circle cx="3768.9" cy="660.8" r="6.0" fill="#dc4049"/><circle cx="3778.2" cy="645.8" r="6.0" fill="#dc4049"/><circle cx="3787.6" cy="632.6" r="6.0" fill="#dc4049"/><path d="M3506.6,671.9 L3515.9,660.4 L3525.3,659.8 L3534.7,668.2 L3544.0,683.0 L3553.4,700.9 L3562.8,717.8 L3572.1,730.1 L3581.5,734.9 L3590.9,730.7 L3600.2,717.7 L3609.6,697.9 L3619.0,674.3 L3628.3,650.5 L3637.7,630.4 L3647.1,616.9 L3656.4,612.3 L3665.8,617.4 L3675.2,631.7 L3684.5,653.0 L3693.9,678.1 L3703.3,703.1 L3712.7,724.3 L3722.0,738.4 L3731.4,743.2 L3740.8,740.1 L3750.1,731.7 L3759.5,718.9 L3768.9,703.6 L3778.2,687.9 L3787.6,674.0" fill="none" stroke="#d5d6de" stroke-width="4" stroke-linejoin="bevel" stroke-linecap="butt" /><path d="M3506.6,668.6 L3515.9,649.9 L3525.3,648.2 L3534.7,656.7 L3544.0,671.7 L3553.4,689.8 L3562.8,707.0 L3572.1,719.4 L3581.5,724.3 L3590.9,720.1 L3600.2,706.8 L3609.6,686.7 L3619.0,662.7 L3628.3,638.6 L3637.7,618.1 L3647.1,604.4 L3656.4,599.7 L3665.8,604.9 L3675.2,619.5 L3684.5,641.3 L3693.9,666.8 L3703.3,692.4 L3712.7,714.0 L3722.0,728.3 L3731.4,733.2 L3740.8,730.1 L3750.1,721.3 L3759.5,708.1 L3768.9,692.3 L3778.2,676.1 L3787.6,661.7" fill="none" stroke="#b4501f" stroke-width="4" stroke-linejoin="bevel" stroke-linecap="butt" /><circle cx="3506.6" cy="668.6" r="6.0" fill="#b4501f"/><circle cx="3515.9" cy="649.9" r="6.0" fill="#b4501f"/><circle cx="3525.3" cy="648.2" r="6.0" fill="#b4501f"/><circle cx="3534.7" cy="656.7" r="6.0" fill="#b4501f"/><circle cx="3544.0" cy="671.7" r="6.0" fill="#b4501f"/><circle cx="3553.4" cy="689.8" r="6.0" fill="#b4501f"/><circle cx="3562.8" cy="707.0" r="6.0" fill="#b4501f"/><circle cx="3572.1" cy="719.4" r="6.0" fill="#b4501f"/><circle cx="3581.5" cy="724.3" r="6.0" fill="#b4501f"/><circle cx="3590.9" cy="720.1" r="6.0" fill="#b4501f"/><circle cx="3600.2" cy="706.8" r="6.0" fill="#b4501f"/><circle cx="3609.6" cy="686.7" r="6.0" fill="#b4501f"/><circle cx="3619.0" cy="662.7" r="6.0" fill="#b4501f"/><circle cx="3628.3" cy="638.6" r="6.0" fill="#b4501f"/><circle cx="3637.7" cy="618.1" r="6.0" fill="#b4501f"/><circle cx="3647.1" cy="604.4" r="6.0" fill="#b4501f"/><circle cx="3656.4" cy="599.7" r="6.0" fill="#b4501f"/><circle cx="3665.8" cy="604.9" r="6.0" fill="#b4501f"/><circle cx="3675.2" cy="619.5" r="6.0" fill="#b4501f"/><circle cx="3684.5" cy="641.3" r="6.0" fill="#b4501f"/><circle cx="3693.9" cy="666.8" r="6.0" fill="#b4501f"/><circle cx="3703.3" cy="692.4" r="6.0" fill="#b4501f"/><circle cx="3712.7" cy="714.0" r="6.0" fill="#b4501f"/><circle cx="3722.0" cy="728.3" r="6.0" fill="#b4501f"/><circle cx="3731.4" cy="733.2" r="6.0" fill="#b4501f"/><circle cx="3740.8" cy="730.1" r="6.0" fill="#b4501f"/><circle cx="3750.1" cy="721.3" r="6.0" fill="#b4501f"/><circle cx="3759.5" cy="708.1" r="6.0" fill="#b4501f"/><circle cx="3768.9" cy="692.3" r="6.0" fill="#b4501f"/><circle cx="3778.2" cy="676.1" r="6.0" fill="#b4501f"/><circle cx="3787.6" cy="661.7" r="6.0" fill="#b4501f"/><path d="M3506.6,676.9 L3515.9,666.8 L3525.3,666.5 L3534.7,674.9 L3544.0,689.8 L3553.4,707.9 L3562.8,725.0 L3572.1,737.3 L3581.5,742.2 L3590.9,738.1 L3600.2,725.2 L3609.6,705.5 L3619.0,682.0 L3628.3,658.5 L3637.7,638.5 L3647.1,625.2 L3656.4,620.6 L3665.8,625.7 L3675.2,640.0 L3684.5,661.3 L3693.9,686.4 L3703.3,711.4 L3712.7,732.6 L3722.0,746.6 L3731.4,751.5 L3740.8,748.4 L3750.1,739.8 L3759.5,726.9 L3768.9,711.5 L3778.2,695.7 L3787.6,681.6" fill="none" stroke="#9b80dc" stroke-width="4" stroke-linejoin="bevel" stroke-linecap="butt" /><circle cx="3506.6" cy="676.9" r="6.0" fill="#9b80dc"/><circle cx="3515.9" cy="666.8" r="6.0" fill="#9b80dc"/><circle cx="3525.3" cy="666.5" r="6.0" fill="#9b80dc"/><circle cx="3534.7" cy="674.9" r="6.0" fill="#9b80dc"/><circle cx="3544.0" cy="689.8" r="6.0" fill="#9b80dc"/><circle cx="3553.4" cy="707.9" r="6.0" fill="#9b80dc"/><circle cx="3562.8" cy="725.0" r="6.0" fill="#9b80dc"/><circle cx="3572.1" cy="737.3" r="6.0" fill="#9b80dc"/><circle cx="3581.5" cy="742.2" r="6.0" fill="#9b80dc"/><circle cx="3590.9" cy="738.1" r="6.0" fill="#9b80dc"/><circle cx="3600.2" cy="725.2" r="6.0" fill="#9b80dc"/><circle cx="3609.6" cy="705.5" r="6.0" fill="#9b80dc"/><circle cx="3619.0" cy="682.0" r="6.0" fill="#9b80dc"/><circle cx="3628.3" cy="658.5" r="6.0" fill="#9b80dc"/><circle cx="3637.7" cy="638.5" r="6.0" fill="#9b80dc"/><circle cx="3647.1" cy="625.2" r="6.0" fill="#9b80dc"/><circle cx="3656.4" cy="620.6" r="6.0" fill="#9b80dc"/><circle cx="3665.8" cy="625.7" r="6.0" fill="#9b80dc"/><circle cx="3675.2" cy="640.0" r="6.0" fill="#9b80dc"/><circle cx="3684.5" cy="661.3" r="6.0" fill="#9b80dc"/><circle cx="3693.9" cy="686.4" r="6.0" fill="#9b80dc"/><circle cx="3703.3" cy="711.4" r="6.0" fill="#9b80dc"/><circle cx="3712.7" cy="732.6" r="6.0" fill="#9b80dc"/><circle cx="3722.0" cy="746.6" r="6.0" fill="#9b80dc"/><circle cx="3731.4" cy="751.5" r="6.0" fill="#9b80dc"/><circle cx="3740.8" cy="748.4" r="6.0" fill="#9b80dc"/><circle cx="3750.1" cy="739.8" r="6.0" fill="#9b80dc"/><circle cx="3759.5" cy="726.9" r="6.0" fill="#9b80dc"/><circle cx="3768.9" cy="711.5" r="6.0" fill="#9b80dc"/><circle cx="3778.2" cy="695.7" r="6.0" fill="#9b80dc"/><circle cx="3787.6" cy="681.6" r="6.0" fill="#9b80dc"/><path d="M3506.6,695.8 L3515.9,679.3 L3525.3,678.1 L3534.7,686.9 L3544.0,702.3 L3553.4,720.9 L3562.8,738.6 L3572.1,751.4 L3581.5,756.4 L3590.9,752.1 L3600.2,738.7 L3609.6,718.1 L3619.0,693.7 L3628.3,669.1 L3637.7,648.3 L3647.1,634.3 L3656.4,629.5 L3665.8,634.9 L3675.2,649.8 L3684.5,672.1 L3693.9,698.3 L3703.3,724.5 L3712.7,746.6 L3722.0,761.3 L3731.4,766.4 L3740.8,763.2 L3750.1,754.3 L3759.5,740.9 L3768.9,724.9 L3778.2,708.5 L3787.6,693.9" fill="none" stroke="#c9952a" stroke-width="4" stroke-linejoin="bevel" stroke-linecap="butt" /><circle cx="3506.6" cy="695.8" r="6.0" fill="#c9952a"/><circle cx="3515.9" cy="679.3" r="6.0" fill="#c9952a"/><circle cx="3525.3" cy="678.1" r="6.0" fill="#c9952a"/><circle cx="3534.7" cy="686.9" r="6.0" fill="#c9952a"/><circle cx="3544.0" cy="702.3" r="6.0" fill="#c9952a"/><circle cx="3553.4" cy="720.9" r="6.0" fill="#c9952a"/><circle cx="3562.8" cy="738.6" r="6.0" fill="#c9952a"/><circle cx="3572.1" cy="751.4" r="6.0" fill="#c9952a"/><circle cx="3581.5" cy="756.4" r="6.0" fill="#c9952a"/><circle cx="3590.9" cy="752.1" r="6.0" fill="#c9952a"/><circle cx="3600.2" cy="738.7" r="6.0" fill="#c9952a"/><circle cx="3609.6" cy="718.1" r="6.0" fill="#c9952a"/><circle cx="3619.0" cy="693.7" r="6.0" fill="#c9952a"/><circle cx="3628.3" cy="669.1" r="6.0" fill="#c9952a"/><circle cx="3637.7" cy="648.3" r="6.0" fill="#c9952a"/><circle cx="3647.1" cy="634.3" r="6.0" fill="#c9952a"/><circle cx="3656.4" cy="629.5" r="6.0" fill="#c9952a"/><circle cx="3665.8" cy="634.9" r="6.0" fill="#c9952a"/><circle cx="3675.2" cy="649.8" r="6.0" fill="#c9952a"/><circle cx="3684.5" cy="672.1" r="6.0" fill="#c9952a"/><circle cx="3693.9" cy="698.3" r="6.0" fill="#c9952a"/><circle cx="3703.3" cy="724.5" r="6.0" fill="#c9952a"/><circle cx="3712.7" cy="746.6" r="6.0" fill="#c9952a"/><circle cx="3722.0" cy="761.3" r="6.0" fill="#c9952a"/><circle cx="3731.4" cy="766.4" r="6.0" fill="#c9952a"/><circle cx="3740.8" cy="763.2" r="6.0" fill="#c9952a"/><circle cx="3750.1" cy="754.3" r="6.0" fill="#c9952a"/><circle cx="3759.5" cy="740.9" r="6.0" fill="#c9952a"/><circle cx="3768.9" cy="724.9" r="6.0" fill="#c9952a"/><circle cx="3778.2" cy="708.5" r="6.0" fill="#c9952a"/><circle cx="3787.6" cy="693.9" r="6.0" fill="#c9952a"/></g><rect x="2388" y="404" width="2" height="539.8" fill="#bbbcdc"/><rect x="2388" y="941.6" width="1404" height="2.2" fill="#bbbcdc"/><text x="2375.5" y="890.7" font-size="23" fill="#b4b5ce" text-anchor="end" font-family="Liberation Sans, sans-serif">2</text><text x="2375.5" y="831.0" font-size="23" fill="#b4b5ce" text-anchor="end" font-family="Liberation Sans, sans-serif">4</text><text x="2375.5" y="771.3" font-size="23" fill="#b4b5ce" text-anchor="end" font-family="Liberation Sans, sans-serif">6</text><text x="2375.5" y="711.6" font-size="23" fill="#b4b5ce" text-anchor="end" font-family="Liberation Sans, sans-serif">8</text><text x="2375.5" y="651.9" font-size="23" fill="#b4b5ce" text-anchor="end" font-family="Liberation Sans, sans-serif">10</text><text x="2375.5" y="592.2" font-size="23" fill="#b4b5ce" text-anchor="end" font-family="Liberation Sans, sans-serif">12</text><text x="2375.5" y="532.5" font-size="23" fill="#b4b5ce" text-anchor="end" font-family="Liberation Sans, sans-serif">14</text><text x="2375.5" y="472.8" font-size="23" fill="#b4b5ce" text-anchor="end" font-family="Liberation Sans, sans-serif">16</text><text x="2375.5" y="421.5" font-size="23" fill="#b4b5ce" text-anchor="end" font-family="Liberation Sans, sans-serif">18</text><text x="2375.5" y="942.1" font-size="23" fill="#b4b5ce" text-anchor="end" font-family="Liberation Sans, sans-serif">0</text><text x="2528.3" y="971.2" font-size="23" fill="#b4b5ce" text-anchor="middle" font-family="Liberation Sans, sans-serif">14:00</text><text x="2809.3" y="971.2" font-size="23" fill="#b4b5ce" text-anchor="middle" font-family="Liberation Sans, sans-serif">14:30</text><text x="3090.3" y="971.2" font-size="23" fill="#b4b5ce" text-anchor="middle" font-family="Liberation Sans, sans-serif">15:00</text><text x="3371.3" y="971.2" font-size="23" fill="#b4b5ce" text-anchor="middle" font-family="Liberation Sans, sans-serif">15:30</text><text x="3652.3" y="971.2" font-size="23" fill="#b4b5ce" text-anchor="middle" font-family="Liberation Sans, sans-serif">16:00</text><rect x="1066" y="1128" width="1208" height="628" rx="28" fill="#111224"/><rect x="1161" y="1598.6" width="1097" height="2" fill="#43445a"/><rect x="1161" y="1501.0" width="1097" height="2" fill="#43445a"/><rect x="1161" y="1403.4" width="1097" height="2" fill="#43445a"/><rect x="1161" y="1305.8" width="1097" height="2" fill="#43445a"/><rect x="1161" y="1208.2" width="1097" height="2" fill="#43445a"/><rect x="1233.8" y="1160" width="2" height="538" fill="#43445a"/><rect x="1533.2" y="1160" width="2" height="538" fill="#43445a"/><rect x="1832.6" y="1160" width="2" height="538" fill="#43445a"/><rect x="2132.0" y="1160" width="2" height="538" fill="#43445a"/><clipPath id="c3"><rect x="1161" y="1156" width="1097" height="541"/></clipPath><g clip-path="url(#c3)"><path d="M1757.2,1472.7 L1762.2,1378.2 L1767.2,1389.0 L1772.2,1396.1 L1777.2,1391.0 L1782.2,1386.9 L1787.2,1385.5 L1792.1,1386.9 L1797.1,1390.9 L1802.1,1377.9 L1807.1,1384.5 L1812.1,1382.5 L1817.1,1372.0 L1822.1,1384.1 L1827.1,1387.4 L1832.1,1396.2 L1837.1,1393.3 L1842.0,1390.8 L1847.0,1404.0 L1852.0,1397.8 L1857.0,1393.6 L1862.0,1399.3 L1867.0,1375.8 L1872.0,1385.8 L1877.0,1385.9 L1882.0,1387.6 L1887.0,1373.5 L1891.9,1374.5 L1896.9,1373.5 L1901.9,1392.1 L1906.9,1396.2 L1911.9,1384.0 L1916.9,1396.0 L1921.9,1398.4 L1926.9,1398.4 L1931.9,1384.9 L1936.9,1382.9 L1941.8,1400.4 L1946.8,1394.2 L1951.8,1392.9 L1956.8,1386.1 L1961.8,1384.4 L1966.8,1396.2 L1971.8,1395.4 L1976.8,1384.0 L1981.8,1384.4 L1986.8,1390.4 L1991.7,1382.2 L1996.7,1397.6 L2001.7,1393.0 L2006.7,1388.3 L2011.7,1394.6 L2016.7,1373.5 L2021.7,1385.8 L2026.7,1388.5 L2031.7,1386.8 L2036.7,1382.3 L2041.6,1371.7 L2046.6,1385.4 L2051.6,1399.5 L2056.6,1409.0 L2061.6,1385.4 L2066.6,1397.5 L2071.6,1391.3 L2076.6,1385.7 L2081.6,1386.0 L2086.6,1388.0 L2091.5,1404.8 L2096.5,1386.1 L2101.5,1387.1 L2106.5,1386.0 L2111.5,1403.4 L2116.5,1409.4 L2121.5,1388.1 L2126.5,1409.1 L2131.5,1391.1 L2136.5,1398.4 L2141.4,1388.3 L2146.4,1381.4 L2151.4,1385.4 L2156.4,1395.0 L2161.4,1378.4 L2166.4,1382.0 L2171.4,1386.7 L2176.4,1399.1 L2181.4,1393.0 L2186.4,1395.7 L2191.3,1397.9 L2196.3,1398.7 L2201.3,1389.1 L2206.3,1390.0 L2211.3,1385.5 L2216.3,1389.6 L2221.3,1398.3 L2226.3,1397.4 L2231.3,1393.2 L2236.2,1385.4 L2241.2,1381.1 L2246.2,1384.6 L2251.2,1365.4 L2256.2,1388.9 L2256.2,1542.5 L2251.2,1525.7 L2246.2,1531.4 L2241.2,1541.5 L2236.2,1520.2 L2231.3,1524.6 L2226.3,1523.7 L2221.3,1532.5 L2216.3,1519.2 L2211.3,1531.7 L2206.3,1541.2 L2201.3,1530.1 L2196.3,1527.8 L2191.3,1553.6 L2186.4,1538.2 L2181.4,1532.7 L2176.4,1537.5 L2171.4,1535.2 L2166.4,1550.4 L2161.4,1527.5 L2156.4,1537.0 L2151.4,1533.0 L2146.4,1522.1 L2141.4,1539.0 L2136.5,1547.4 L2131.5,1554.2 L2126.5,1545.7 L2121.5,1529.4 L2116.5,1544.0 L2111.5,1523.7 L2106.5,1529.6 L2101.5,1537.7 L2096.5,1536.6 L2091.5,1529.3 L2086.6,1524.2 L2081.6,1530.3 L2076.6,1539.3 L2071.6,1535.9 L2066.6,1540.7 L2061.6,1538.6 L2056.6,1530.7 L2051.6,1528.6 L2046.6,1530.0 L2041.6,1530.0 L2036.7,1541.5 L2031.7,1533.5 L2026.7,1550.1 L2021.7,1531.2 L2016.7,1545.3 L2011.7,1537.9 L2006.7,1528.2 L2001.7,1532.5 L1996.7,1533.1 L1991.7,1551.5 L1986.8,1545.8 L1981.8,1541.6 L1976.8,1531.6 L1971.8,1532.2 L1966.8,1538.2 L1961.8,1542.6 L1956.8,1533.2 L1951.8,1532.0 L1946.8,1536.0 L1941.8,1533.0 L1936.9,1533.5 L1931.9,1536.1 L1926.9,1533.5 L1921.9,1552.7 L1916.9,1533.7 L1911.9,1523.8 L1906.9,1535.3 L1901.9,1547.8 L1896.9,1534.4 L1891.9,1537.9 L1887.0,1523.6 L1882.0,1547.0 L1877.0,1536.3 L1872.0,1532.2 L1867.0,1543.5 L1862.0,1541.7 L1857.0,1550.4 L1852.0,1522.2 L1847.0,1539.2 L1842.0,1559.0 L1837.1,1530.4 L1832.1,1531.9 L1827.1,1513.5 L1822.1,1536.3 L1817.1,1516.7 L1812.1,1532.2 L1807.1,1532.4 L1802.1,1542.1 L1797.1,1518.7 L1792.1,1536.2 L1787.2,1521.5 L1782.2,1553.2 L1777.2,1519.1 L1772.2,1550.8 L1767.2,1521.5 L1762.2,1553.2 L1757.2,1472.7 Z" fill="rgba(200,202,220,0.57)" stroke="rgba(200,202,216,0.85)" stroke-width="1.6" stroke-linejoin="round"/><path d="M1757.2,1509.3 L1762.2,1502.5 L1767.2,1501.1 L1772.2,1501.4 L1777.2,1500.3 L1782.2,1501.9 L1787.2,1501.8 L1792.1,1502.3 L1797.1,1502.4 L1802.1,1500.7 L1807.1,1501.6 L1812.1,1501.1 L1817.1,1501.2 L1822.1,1501.3 L1827.1,1502.7 L1832.1,1500.8 L1837.1,1502.1 L1842.0,1502.4 L1847.0,1501.4 L1852.0,1502.6 L1857.0,1500.9 L1862.0,1502.2 L1867.0,1502.2 L1872.0,1500.6 L1877.0,1501.9 L1882.0,1502.4 L1887.0,1500.5 L1891.9,1502.7 L1896.9,1500.6 L1901.9,1502.4 L1906.9,1502.4 L1911.9,1502.1 L1916.9,1502.3 L1921.9,1501.1 L1926.9,1502.7 L1931.9,1502.7 L1936.9,1500.8 L1941.8,1502.2 L1946.8,1501.9 L1951.8,1502.3 L1956.8,1502.6 L1961.8,1500.9 L1966.8,1501.4 L1971.8,1500.9 L1976.8,1501.6 L1981.8,1500.8 L1986.8,1501.5 L1991.7,1502.5 L1996.7,1501.5 L2001.7,1500.4 L2006.7,1502.6 L2011.7,1500.8 L2016.7,1500.6 L2021.7,1501.5 L2026.7,1501.6 L2031.7,1500.4 L2036.7,1502.6 L2041.6,1501.6 L2046.6,1501.8 L2051.6,1501.1 L2056.6,1501.5 L2061.6,1500.5 L2066.6,1502.6 L2071.6,1502.5 L2076.6,1501.2 L2081.6,1502.6 L2086.6,1502.1 L2091.5,1501.2 L2096.5,1501.4 L2101.5,1501.9 L2106.5,1500.3 L2111.5,1501.4 L2116.5,1501.6 L2121.5,1501.3 L2126.5,1502.5 L2131.5,1501.0 L2136.5,1500.7 L2141.4,1501.1 L2146.4,1500.9 L2151.4,1501.0 L2156.4,1502.2 L2161.4,1501.6 L2166.4,1502.2 L2171.4,1501.9 L2176.4,1501.6 L2181.4,1501.7 L2186.4,1502.5 L2191.3,1501.7 L2196.3,1501.1 L2201.3,1501.8 L2206.3,1502.4 L2211.3,1500.5 L2216.3,1502.6 L2221.3,1500.7 L2226.3,1502.5 L2231.3,1502.5 L2236.2,1500.9 L2241.2,1500.8 L2246.2,1501.4 L2251.2,1501.3 L2256.2,1501.4 L2256.2,1518.1 L2251.2,1516.1 L2246.2,1516.3 L2241.2,1516.8 L2236.2,1516.4 L2231.3,1517.6 L2226.3,1518.3 L2221.3,1518.1 L2216.3,1517.3 L2211.3,1516.6 L2206.3,1516.9 L2201.3,1516.9 L2196.3,1516.2 L2191.3,1516.1 L2186.4,1518.3 L2181.4,1518.2 L2176.4,1516.2 L2171.4,1518.2 L2166.4,1516.4 L2161.4,1516.3 L2156.4,1517.1 L2151.4,1516.6 L2146.4,1517.4 L2141.4,1517.9 L2136.5,1516.5 L2131.5,1518.3 L2126.5,1517.5 L2121.5,1517.7 L2116.5,1518.0 L2111.5,1517.8 L2106.5,1517.6 L2101.5,1518.3 L2096.5,1516.9 L2091.5,1517.4 L2086.6,1518.2 L2081.6,1516.7 L2076.6,1517.2 L2071.6,1516.7 L2066.6,1517.7 L2061.6,1517.3 L2056.6,1518.1 L2051.6,1516.5 L2046.6,1517.7 L2041.6,1517.3 L2036.7,1517.2 L2031.7,1516.7 L2026.7,1517.7 L2021.7,1516.7 L2016.7,1516.8 L2011.7,1518.0 L2006.7,1518.2 L2001.7,1518.1 L1996.7,1517.0 L1991.7,1516.5 L1986.8,1516.6 L1981.8,1517.4 L1976.8,1517.5 L1971.8,1517.3 L1966.8,1517.8 L1961.8,1516.5 L1956.8,1518.3 L1951.8,1516.8 L1946.8,1518.0 L1941.8,1517.4 L1936.9,1517.0 L1931.9,1516.2 L1926.9,1518.3 L1921.9,1517.5 L1916.9,1517.6 L1911.9,1516.6 L1906.9,1517.9 L1901.9,1517.7 L1896.9,1516.3 L1891.9,1516.1 L1887.0,1518.3 L1882.0,1516.8 L1877.0,1516.9 L1872.0,1516.4 L1867.0,1516.0 L1862.0,1516.3 L1857.0,1516.4 L1852.0,1516.9 L1847.0,1516.5 L1842.0,1517.5 L1837.1,1516.3 L1832.1,1518.1 L1827.1,1517.8 L1822.1,1516.7 L1817.1,1517.8 L1812.1,1516.9 L1807.1,1517.5 L1802.1,1516.9 L1797.1,1516.0 L1792.1,1516.6 L1787.2,1516.2 L1782.2,1516.5 L1777.2,1516.7 L1772.2,1517.5 L1767.2,1518.0 L1762.2,1517.5 L1757.2,1509.3 Z" fill="rgba(100,205,180,0.55)" stroke="rgba(120,215,190,0.7)" stroke-width="1.5" stroke-linejoin="round"/><path d="M1757.2,1589.8 L1762.2,1564.9 L1767.2,1567.5 L1772.2,1566.0 L1777.2,1566.3 L1782.2,1566.9 L1787.2,1567.2 L1792.1,1567.1 L1797.1,1567.1 L1802.1,1567.9 L1807.1,1566.4 L1812.1,1568.1 L1817.1,1566.4 L1822.1,1564.6 L1827.1,1567.1 L1832.1,1565.4 L1837.1,1565.0 L1842.0,1565.0 L1847.0,1567.6 L1852.0,1568.0 L1857.0,1567.7 L1862.0,1566.0 L1867.0,1565.3 L1872.0,1565.7 L1877.0,1567.8 L1882.0,1565.2 L1887.0,1566.4 L1891.9,1565.3 L1896.9,1565.3 L1901.9,1566.6 L1906.9,1564.6 L1911.9,1566.1 L1916.9,1565.8 L1921.9,1565.9 L1926.9,1564.8 L1931.9,1565.9 L1936.9,1567.9 L1941.8,1568.3 L1946.8,1566.7 L1951.8,1567.3 L1956.8,1567.4 L1961.8,1568.4 L1966.8,1566.4 L1971.8,1567.2 L1976.8,1566.6 L1981.8,1568.4 L1986.8,1565.0 L1991.7,1568.3 L1996.7,1564.8 L2001.7,1564.9 L2006.7,1565.9 L2011.7,1566.4 L2016.7,1566.6 L2021.7,1566.2 L2026.7,1565.1 L2031.7,1564.7 L2036.7,1566.6 L2041.6,1565.1 L2046.6,1565.7 L2051.6,1567.2 L2056.6,1566.5 L2061.6,1567.9 L2066.6,1568.3 L2071.6,1568.2 L2076.6,1564.7 L2081.6,1567.1 L2086.6,1565.5 L2091.5,1566.4 L2096.5,1567.9 L2101.5,1567.5 L2106.5,1566.7 L2111.5,1566.7 L2116.5,1566.3 L2121.5,1567.9 L2126.5,1567.0 L2131.5,1567.4 L2136.5,1566.8 L2141.4,1567.1 L2146.4,1566.0 L2151.4,1565.1 L2156.4,1565.8 L2161.4,1568.3 L2166.4,1568.2 L2171.4,1565.6 L2176.4,1567.4 L2181.4,1565.4 L2186.4,1565.7 L2191.3,1564.6 L2196.3,1564.8 L2201.3,1567.1 L2206.3,1566.1 L2211.3,1568.0 L2216.3,1567.1 L2221.3,1564.4 L2226.3,1565.5 L2231.3,1566.9 L2236.2,1566.0 L2241.2,1564.5 L2246.2,1567.3 L2251.2,1567.0 L2256.2,1565.1 L2256.2,1606.7 L2251.2,1607.3 L2246.2,1605.8 L2241.2,1605.2 L2236.2,1605.8 L2231.3,1604.8 L2226.3,1606.8 L2221.3,1607.4 L2216.3,1607.6 L2211.3,1606.1 L2206.3,1605.2 L2201.3,1607.2 L2196.3,1605.3 L2191.3,1604.8 L2186.4,1606.7 L2181.4,1607.2 L2176.4,1604.9 L2171.4,1605.4 L2166.4,1604.8 L2161.4,1604.5 L2156.4,1607.6 L2151.4,1606.4 L2146.4,1604.3 L2141.4,1606.8 L2136.5,1605.9 L2131.5,1607.5 L2126.5,1607.6 L2121.5,1606.5 L2116.5,1606.1 L2111.5,1606.9 L2106.5,1604.4 L2101.5,1606.2 L2096.5,1607.1 L2091.5,1604.6 L2086.6,1606.7 L2081.6,1605.0 L2076.6,1606.7 L2071.6,1604.7 L2066.6,1604.8 L2061.6,1607.3 L2056.6,1605.8 L2051.6,1604.7 L2046.6,1605.5 L2041.6,1606.8 L2036.7,1607.2 L2031.7,1604.9 L2026.7,1604.9 L2021.7,1604.4 L2016.7,1605.9 L2011.7,1606.3 L2006.7,1606.7 L2001.7,1606.1 L1996.7,1604.3 L1991.7,1604.4 L1986.8,1606.4 L1981.8,1604.8 L1976.8,1606.0 L1971.8,1604.9 L1966.8,1606.6 L1961.8,1605.8 L1956.8,1606.1 L1951.8,1605.1 L1946.8,1606.7 L1941.8,1606.1 L1936.9,1606.8 L1931.9,1605.3 L1926.9,1606.2 L1921.9,1606.2 L1916.9,1607.1 L1911.9,1604.9 L1906.9,1605.0 L1901.9,1604.8 L1896.9,1607.1 L1891.9,1606.4 L1887.0,1607.2 L1882.0,1605.0 L1877.0,1606.5 L1872.0,1607.5 L1867.0,1604.6 L1862.0,1604.8 L1857.0,1605.0 L1852.0,1607.3 L1847.0,1604.8 L1842.0,1607.4 L1837.1,1607.2 L1832.1,1606.9 L1827.1,1606.0 L1822.1,1604.4 L1817.1,1606.9 L1812.1,1607.0 L1807.1,1606.4 L1802.1,1606.4 L1797.1,1606.2 L1792.1,1605.4 L1787.2,1605.9 L1782.2,1605.3 L1777.2,1605.1 L1772.2,1604.8 L1767.2,1605.4 L1762.2,1604.9 L1757.2,1589.8 Z" fill="rgba(205,158,62,0.45)" stroke="rgba(190,145,55,0.75)" stroke-width="1.5" stroke-linejoin="round"/><path d="M1757.2,1626.4 L1762.2,1611.5 L1767.2,1618.2 L1772.2,1617.0 L1777.2,1615.7 L1782.2,1616.8 L1787.2,1618.0 L1792.1,1609.4 L1797.1,1616.3 L1802.1,1612.5 L1807.1,1616.6 L1812.1,1617.6 L1817.1,1612.0 L1822.1,1616.9 L1827.1,1616.3 L1832.1,1617.6 L1837.1,1617.0 L1842.0,1616.1 L1847.0,1618.1 L1852.0,1615.1 L1857.0,1618.2 L1862.0,1616.6 L1867.0,1616.7 L1872.0,1615.0 L1877.0,1616.5 L1882.0,1617.1 L1887.0,1616.8 L1891.9,1616.2 L1896.9,1615.0 L1901.9,1617.5 L1906.9,1618.3 L1911.9,1615.7 L1916.9,1617.2 L1921.9,1615.9 L1926.9,1616.2 L1931.9,1615.8 L1936.9,1615.9 L1941.8,1617.3 L1946.8,1618.2 L1951.8,1616.5 L1956.8,1615.6 L1961.8,1617.8 L1966.8,1615.7 L1971.8,1616.8 L1976.8,1616.0 L1981.8,1616.2 L1986.8,1615.6 L1991.7,1618.2 L1996.7,1615.7 L2001.7,1616.8 L2006.7,1617.4 L2011.7,1618.2 L2016.7,1617.7 L2021.7,1618.2 L2026.7,1615.2 L2031.7,1616.6 L2036.7,1615.0 L2041.6,1616.5 L2046.6,1617.5 L2051.6,1615.8 L2056.6,1617.7 L2061.6,1617.2 L2066.6,1615.7 L2071.6,1615.4 L2076.6,1617.3 L2081.6,1618.0 L2086.6,1617.1 L2091.5,1615.3 L2096.5,1615.8 L2101.5,1615.3 L2106.5,1617.1 L2111.5,1615.1 L2116.5,1616.7 L2121.5,1616.7 L2126.5,1615.2 L2131.5,1616.6 L2136.5,1615.7 L2141.4,1615.9 L2146.4,1618.1 L2151.4,1616.3 L2156.4,1615.6 L2161.4,1616.5 L2166.4,1617.3 L2171.4,1618.1 L2176.4,1616.1 L2181.4,1617.3 L2186.4,1616.3 L2191.3,1616.9 L2196.3,1616.0 L2201.3,1617.2 L2206.3,1618.2 L2211.3,1615.4 L2216.3,1617.2 L2221.3,1615.0 L2226.3,1617.5 L2231.3,1615.0 L2236.2,1615.1 L2241.2,1618.1 L2246.2,1616.2 L2251.2,1617.1 L2256.2,1615.7 L2256.2,1636.7 L2251.2,1635.7 L2246.2,1635.6 L2241.2,1636.3 L2236.2,1636.8 L2231.3,1635.6 L2226.3,1635.3 L2221.3,1636.4 L2216.3,1634.7 L2211.3,1634.6 L2206.3,1634.4 L2201.3,1636.2 L2196.3,1635.1 L2191.3,1636.2 L2186.4,1636.7 L2181.4,1636.7 L2176.4,1636.8 L2171.4,1637.0 L2166.4,1634.5 L2161.4,1635.9 L2156.4,1634.3 L2151.4,1636.6 L2146.4,1635.3 L2141.4,1634.9 L2136.5,1634.6 L2131.5,1636.2 L2126.5,1635.2 L2121.5,1635.9 L2116.5,1635.3 L2111.5,1634.3 L2106.5,1637.0 L2101.5,1634.8 L2096.5,1634.9 L2091.5,1635.6 L2086.6,1635.1 L2081.6,1634.2 L2076.6,1636.3 L2071.6,1636.9 L2066.6,1635.4 L2061.6,1635.6 L2056.6,1634.8 L2051.6,1636.1 L2046.6,1635.6 L2041.6,1637.1 L2036.7,1634.9 L2031.7,1636.8 L2026.7,1636.6 L2021.7,1636.8 L2016.7,1635.7 L2011.7,1634.9 L2006.7,1635.3 L2001.7,1634.5 L1996.7,1635.1 L1991.7,1634.7 L1986.8,1634.6 L1981.8,1635.6 L1976.8,1637.0 L1971.8,1636.2 L1966.8,1636.2 L1961.8,1634.7 L1956.8,1635.2 L1951.8,1636.9 L1946.8,1635.9 L1941.8,1634.5 L1936.9,1635.9 L1931.9,1634.7 L1926.9,1636.8 L1921.9,1635.7 L1916.9,1634.5 L1911.9,1636.3 L1906.9,1634.3 L1901.9,1635.9 L1896.9,1636.4 L1891.9,1636.4 L1887.0,1635.5 L1882.0,1636.0 L1877.0,1635.7 L1872.0,1635.0 L1867.0,1636.8 L1862.0,1636.4 L1857.0,1635.3 L1852.0,1636.0 L1847.0,1635.6 L1842.0,1635.5 L1837.1,1634.9 L1832.1,1636.1 L1827.1,1634.4 L1822.1,1635.2 L1817.1,1635.4 L1812.1,1635.5 L1807.1,1636.1 L1802.1,1636.1 L1797.1,1634.9 L1792.1,1637.0 L1787.2,1637.1 L1782.2,1634.9 L1777.2,1635.4 L1772.2,1636.8 L1767.2,1634.4 L1762.2,1635.2 L1757.2,1626.4 Z" fill="rgba(135,110,205,0.6)" stroke="rgba(140,115,210,0.7)" stroke-width="1.2" stroke-linejoin="round"/><path d="M1762.2,1648.4 L1767.2,1639.6 L1772.2,1645.4 L1777.2,1645.4 L1782.2,1639.5 L1787.2,1645.4 L1792.1,1645.3 L1797.1,1639.5 L1802.1,1645.3 L1807.1,1645.3 L1812.1,1639.4 L1817.1,1645.2 L1822.1,1645.2 L1827.1,1639.3 L1832.1,1645.2 L1837.1,1645.2 L1842.0,1639.3 L1847.0,1645.1 L1852.0,1645.1 L1857.0,1639.2 L1862.0,1645.1 L1867.0,1645.0 L1872.0,1639.2 L1877.0,1645.0 L1882.0,1645.0 L1887.0,1639.1 L1891.9,1644.9 L1896.9,1644.9 L1901.9,1639.0 L1906.9,1644.9 L1911.9,1644.9 L1916.9,1639.0 L1921.9,1644.8 L1926.9,1644.8 L1931.9,1638.9 L1936.9,1644.8 L1941.8,1644.7 L1946.8,1638.9 L1951.8,1644.7 L1956.8,1644.7 L1961.8,1638.8 L1966.8,1644.7 L1971.8,1644.6 L1976.8,1638.8 L1981.8,1644.6 L1986.8,1644.6 L1991.7,1638.7 L1996.7,1644.5 L2001.7,1644.5 L2006.7,1638.6 L2011.7,1644.5 L2016.7,1644.5 L2021.7,1638.6 L2026.7,1644.4 L2031.7,1644.4 L2036.7,1638.5 L2041.6,1644.4 L2046.6,1644.3 L2051.6,1638.5 L2056.6,1644.3 L2061.6,1644.3 L2066.6,1638.4 L2071.6,1644.2 L2076.6,1644.2 L2081.6,1638.3 L2086.6,1644.2 L2091.5,1644.2 L2096.5,1638.3 L2101.5,1644.1 L2106.5,1644.1 L2111.5,1638.2 L2116.5,1644.1 L2121.5,1644.0 L2126.5,1638.2 L2131.5,1644.0 L2136.5,1644.0 L2141.4,1638.1 L2146.4,1643.9 L2151.4,1643.9 L2156.4,1638.1 L2161.4,1643.9 L2166.4,1643.9 L2171.4,1638.0 L2176.4,1643.8 L2181.4,1643.8 L2186.4,1637.9 L2191.3,1643.8 L2196.3,1643.8 L2201.3,1637.9 L2206.3,1643.7 L2211.3,1643.7 L2216.3,1637.8 L2221.3,1643.7 L2226.3,1643.6 L2231.3,1637.8 L2236.2,1643.6 L2241.2,1643.6 L2246.2,1637.7 L2251.2,1643.5 L2256.2,1643.5 L2256.2,1652.8 L2251.2,1652.8 L2246.2,1647.0 L2241.2,1652.9 L2236.2,1652.9 L2231.3,1647.0 L2226.3,1652.9 L2221.3,1652.9 L2216.3,1647.1 L2211.3,1653.0 L2206.3,1653.0 L2201.3,1647.2 L2196.3,1653.0 L2191.3,1653.0 L2186.4,1647.2 L2181.4,1653.1 L2176.4,1653.1 L2171.4,1647.3 L2166.4,1653.1 L2161.4,1653.2 L2156.4,1647.3 L2151.4,1653.2 L2146.4,1653.2 L2141.4,1647.4 L2136.5,1653.3 L2131.5,1653.3 L2126.5,1647.4 L2121.5,1653.3 L2116.5,1653.3 L2111.5,1647.5 L2106.5,1653.4 L2101.5,1653.4 L2096.5,1647.6 L2091.5,1653.4 L2086.6,1653.5 L2081.6,1647.6 L2076.6,1653.5 L2071.6,1653.5 L2066.6,1647.7 L2061.6,1653.6 L2056.6,1653.6 L2051.6,1647.7 L2046.6,1653.6 L2041.6,1653.6 L2036.7,1647.8 L2031.7,1653.7 L2026.7,1653.7 L2021.7,1647.9 L2016.7,1653.7 L2011.7,1653.7 L2006.7,1647.9 L2001.7,1653.8 L1996.7,1653.8 L1991.7,1648.0 L1986.8,1653.8 L1981.8,1653.9 L1976.8,1648.0 L1971.8,1653.9 L1966.8,1653.9 L1961.8,1648.1 L1956.8,1654.0 L1951.8,1654.0 L1946.8,1648.1 L1941.8,1654.0 L1936.9,1654.0 L1931.9,1648.2 L1926.9,1654.1 L1921.9,1654.1 L1916.9,1648.3 L1911.9,1654.1 L1906.9,1654.2 L1901.9,1648.3 L1896.9,1654.2 L1891.9,1654.2 L1887.0,1648.4 L1882.0,1654.3 L1877.0,1654.3 L1872.0,1648.4 L1867.0,1654.3 L1862.0,1654.3 L1857.0,1648.5 L1852.0,1654.4 L1847.0,1654.4 L1842.0,1648.6 L1837.1,1654.4 L1832.1,1654.5 L1827.1,1648.6 L1822.1,1654.5 L1817.1,1654.5 L1812.1,1648.7 L1807.1,1654.5 L1802.1,1654.6 L1797.1,1648.7 L1792.1,1654.6 L1787.2,1654.6 L1782.2,1648.8 L1777.2,1654.7 L1772.2,1654.7 L1767.2,1648.8 L1762.2,1648.4 Z" fill="rgba(205,60,140,0.6)" stroke="rgba(215,70,150,0.8)" stroke-width="1.2" stroke-linejoin="round"/><path d="M1163.4,1210.0 L1168.4,1211.0 L1173.4,1210.3 L1178.4,1212.5 L1183.4,1210.4 L1188.4,1210.1 L1193.3,1210.5 L1198.3,1210.1 L1203.3,1211.2 L1208.3,1211.2 L1213.3,1210.4 L1218.3,1210.5 L1223.3,1210.4 L1228.3,1210.2 L1233.3,1210.7 L1238.2,1210.4 L1243.2,1210.6 L1248.2,1210.4 L1253.2,1210.9 L1258.2,1209.9 L1263.2,1210.6 L1268.2,1210.2 L1273.2,1210.3 L1278.2,1210.8 L1283.2,1211.1 L1288.2,1211.2 L1293.1,1210.6 L1298.1,1210.6 L1303.1,1211.0 L1308.1,1210.4 L1313.1,1210.8 L1318.1,1210.3 L1323.1,1210.2 L1328.1,1210.1 L1333.1,1209.9 L1338.1,1213.3 L1343.0,1210.7 L1348.0,1210.5 L1353.0,1210.8 L1358.0,1210.6 L1363.0,1210.9 L1368.0,1210.9 L1373.0,1211.1 L1378.0,1210.9 L1383.0,1210.7 L1388.0,1210.4 L1392.9,1210.9 L1397.9,1210.1 L1402.9,1211.0 L1407.9,1210.8 L1412.9,1210.5 L1417.9,1210.8 L1422.9,1212.4 L1427.9,1210.6 L1432.9,1210.5 L1437.9,1210.6 L1442.8,1210.8 L1447.8,1211.2 L1452.8,1210.0 L1457.8,1210.6 L1462.8,1209.9 L1467.8,1211.0 L1472.8,1210.8 L1477.8,1211.2 L1482.8,1210.6 L1487.8,1210.0 L1492.7,1210.4 L1497.7,1210.6 L1502.7,1210.5 L1507.7,1210.1 L1512.7,1210.7 L1517.7,1210.0 L1522.7,1210.3 L1527.7,1210.2 L1532.7,1210.7 L1537.7,1210.7 L1542.6,1210.5 L1547.6,1213.2 L1552.6,1210.5 L1557.6,1211.1 L1562.6,1210.6 L1567.6,1210.2 L1572.6,1210.9 L1577.6,1209.9 L1582.6,1210.3 L1587.6,1211.1 L1592.5,1209.9 L1597.5,1210.7 L1602.5,1210.2 L1607.5,1210.8 L1612.5,1212.2 L1617.5,1210.2 L1622.5,1211.0 L1627.5,1210.6 L1632.5,1210.6 L1637.5,1211.2 L1642.4,1211.1 L1647.4,1210.8 L1652.4,1210.6 L1657.4,1210.6 L1662.4,1210.4 L1667.4,1210.5 L1672.4,1210.8 L1677.4,1210.4 L1682.4,1211.0 L1687.4,1209.9 L1692.3,1210.2 L1697.3,1210.8 L1702.3,1210.8 L1707.3,1210.1 L1712.3,1210.5 L1717.3,1210.3 L1722.3,1210.8 L1727.3,1210.1 L1732.3,1210.7 L1737.2,1210.3 L1742.2,1209.9 L1747.2,1210.5 L1752.2,1210.2 L1757.2,1210.3" fill="none" stroke="#3a8a66" stroke-width="4.2" stroke-linejoin="bevel" stroke-linecap="butt" /><path d="M1163.4,1482.5 L1167.6,1490.7 L1172.8,1423.9 L1177.7,1433.2 L1182.9,1483.7 L1187.5,1371.8 L1192.7,1433.2 L1198.1,1457.9 L1207.5,1483.7 L1212.9,1447.3 L1217.6,1427.4 L1222.7,1421.5 L1227.4,1411.0 L1232.1,1454.4 L1237.3,1473.1 L1242.7,1508.3 L1247.4,1480.2 L1252.8,1411.0 L1257.9,1416.8 L1262.6,1480.2 L1267.3,1543.5 L1272.5,1475.5 L1277.9,1497.8 L1281.9,1500.1 L1287.3,1463.7 L1292.0,1480.2 L1297.4,1467.3 L1302.5,1490.7 L1307.2,1445.0 L1312.4,1542.4 L1317.1,1403.9 L1322.5,1456.7 L1327.2,1518.9 L1337.2,1389.1 L1342.4,1456.7 L1347.1,1420.3 L1352.3,1483.7 L1357.7,1477.8 L1367.0,1418.7 L1372.2,1515.4 L1376.9,1418.7 L1382.3,1545.9 L1387.5,1428.6 L1396.8,1346.4 L1406.9,1472.0 L1412.1,1389.8 L1417.5,1456.7 L1421.7,1530.6 L1426.9,1468.4 L1431.6,1484.9 L1436.7,1418.0 L1442.1,1457.9 L1446.8,1459.1 L1452.0,1391.5 L1456.9,1490.7 L1462.1,1378.1 L1467.2,1504.8 L1482.0,1452.0 L1487.2,1475.5 L1492.1,1475.0 L1497.3,1442.2 L1502.0,1521.2 L1506.7,1524.8 L1512.5,1460.2 L1517.2,1463.7 L1526.6,1498.9 L1532.5,1452.0 L1537.2,1452.0 L1546.6,1525.9 L1551.7,1457.9 L1556.6,1446.2 L1571.2,1515.4 L1581.8,1447.3 L1586.4,1457.9 L1591.6,1422.7 L1597.0,1486.0 L1601.7,1462.6 L1606.9,1490.7 L1611.8,1385.1 L1621.6,1495.4 L1626.8,1344.1 L1631.7,1561.1 L1641.6,1429.7 L1647.0,1503.6 L1656.8,1461.4 L1662.0,1515.4 L1671.4,1433.2 L1676.3,1548.2 L1686.2,1421.5 L1691.3,1482.5 L1696.3,1480.2 L1701.4,1432.1 L1706.1,1540.0 L1711.3,1453.2 L1716.7,1501.3 L1721.4,1496.6 L1726.5,1435.6 L1736.6,1480.2 L1741.3,1545.9 L1746.5,1426.2 L1751.9,1536.5 L1757.7,1461.4" fill="none" stroke="#9678d8" stroke-width="4" stroke-linejoin="bevel" stroke-linecap="butt" /><path d="M1163.4,1506.9 L1168.4,1515.3 L1173.4,1509.6 L1178.4,1503.4 L1183.4,1505.7 L1188.4,1505.8 L1193.3,1508.3 L1198.3,1506.5 L1203.3,1508.3 L1208.3,1513.5 L1213.3,1507.7 L1218.3,1507.8 L1223.3,1505.0 L1228.3,1513.8 L1233.3,1507.0 L1238.2,1515.3 L1243.2,1503.6 L1248.2,1514.3 L1253.2,1515.4 L1258.2,1511.7 L1263.2,1513.7 L1268.2,1506.9 L1273.2,1510.5 L1278.2,1505.8 L1283.2,1504.0 L1288.2,1504.6 L1293.1,1506.3 L1298.1,1514.9 L1303.1,1513.9 L1308.1,1513.0 L1313.1,1511.5 L1318.1,1507.3 L1323.1,1509.0 L1328.1,1511.7 L1333.1,1513.5 L1338.1,1504.1 L1343.0,1511.3 L1348.0,1511.2 L1353.0,1505.9 L1358.0,1506.5 L1363.0,1507.5 L1368.0,1506.9 L1373.0,1507.9 L1378.0,1513.2 L1383.0,1512.5 L1388.0,1508.6 L1392.9,1512.8 L1397.9,1503.3 L1402.9,1511.9 L1407.9,1512.0 L1412.9,1513.0 L1417.9,1506.7 L1422.9,1511.6 L1427.9,1511.2 L1432.9,1503.8 L1437.9,1505.6 L1442.8,1512.2 L1447.8,1514.1 L1452.8,1507.1 L1457.8,1510.8 L1462.8,1503.2 L1467.8,1505.3 L1472.8,1503.6 L1477.8,1505.5 L1482.8,1512.0 L1487.8,1512.0 L1492.7,1506.6 L1497.7,1511.3 L1502.7,1510.1 L1507.7,1512.4 L1512.7,1509.6 L1517.7,1513.1 L1522.7,1508.8 L1527.7,1503.8 L1532.7,1506.8 L1537.7,1513.9 L1542.6,1507.9 L1547.6,1508.2 L1552.6,1512.6 L1557.6,1507.2 L1562.6,1508.9 L1567.6,1507.6 L1572.6,1515.0 L1577.6,1510.4 L1582.6,1506.6 L1587.6,1514.4 L1592.5,1505.9 L1597.5,1515.6 L1602.5,1508.7 L1607.5,1503.9 L1612.5,1510.5 L1617.5,1503.8 L1622.5,1504.5 L1627.5,1509.6 L1632.5,1513.1 L1637.5,1503.4 L1642.4,1511.6 L1647.4,1507.5 L1652.4,1504.1 L1657.4,1514.5 L1662.4,1508.4 L1667.4,1508.9 L1672.4,1506.5 L1677.4,1503.8 L1682.4,1504.1 L1687.4,1513.4 L1692.3,1504.5 L1697.3,1513.4 L1702.3,1504.0 L1707.3,1503.0 L1712.3,1510.6 L1717.3,1509.4 L1722.3,1503.8 L1727.3,1503.5 L1732.3,1503.9 L1737.2,1504.5 L1742.2,1515.5 L1747.2,1508.5 L1752.2,1514.3 L1757.2,1503.2" fill="none" stroke="#c040d0" stroke-width="4" stroke-linejoin="bevel" stroke-linecap="butt" /><path d="M1163.4,1576.4 L1167.6,1583.4 L1172.8,1595.2 L1177.7,1599.8 L1182.9,1606.9 L1187.5,1598.7 L1192.7,1602.2 L1198.1,1599.8 L1202.8,1596.3 L1207.5,1570.5 L1212.9,1574.0 L1217.6,1584.6 L1222.7,1562.3 L1227.4,1578.7 L1232.1,1576.4 L1237.3,1549.4 L1242.7,1574.0 L1247.4,1579.9 L1252.8,1564.6 L1257.9,1578.7 L1262.6,1575.2 L1267.3,1595.2 L1272.5,1594.0 L1277.9,1602.2 L1282.6,1569.3 L1287.3,1588.1 L1292.0,1583.4 L1297.4,1595.2 L1302.5,1591.6 L1307.2,1596.3 L1312.4,1594.0 L1317.1,1603.4 L1322.5,1606.9 L1327.2,1603.4 L1331.9,1604.5 L1337.2,1595.2 L1342.4,1604.5 L1347.1,1597.5 L1352.3,1605.7 L1357.0,1564.6 L1362.4,1569.3 L1368.2,1562.3 L1372.9,1565.8 L1377.6,1578.7 L1382.3,1586.9 L1387.5,1591.6 L1392.9,1605.7 L1402.2,1581.1 L1406.9,1582.2 L1412.1,1590.5 L1417.5,1603.4 L1422.2,1609.2 L1426.9,1595.2 L1431.6,1581.1 L1436.7,1579.9 L1442.1,1588.1 L1446.8,1603.4 L1452.0,1598.7 L1456.9,1604.5 L1462.1,1603.4 L1467.2,1604.5 L1472.6,1592.8 L1477.3,1571.7 L1482.0,1582.2 L1487.2,1588.1 L1492.1,1570.5 L1502.0,1581.1 L1506.7,1595.2 L1512.5,1594.0 L1517.2,1603.4 L1522.4,1568.2 L1532.5,1584.6 L1537.2,1572.9 L1546.6,1590.5 L1551.7,1574.0 L1556.6,1588.1 L1566.5,1577.6 L1576.6,1586.9 L1586.4,1575.2 L1591.6,1588.1 L1597.0,1568.2 L1601.7,1586.9 L1606.9,1578.7 L1611.8,1603.4 L1616.9,1597.5 L1621.6,1608.1 L1626.8,1597.5 L1631.7,1605.7 L1636.9,1595.2 L1641.6,1601.0 L1647.0,1590.5 L1651.7,1601.0 L1656.8,1568.2 L1662.0,1584.6 L1666.2,1581.1 L1671.4,1603.4 L1676.3,1599.8 L1681.5,1606.9 L1686.2,1597.5 L1691.3,1603.4 L1696.3,1604.5 L1701.4,1599.8 L1706.1,1601.0 L1711.3,1594.0 L1716.7,1602.2 L1721.4,1603.4 L1726.5,1605.7 L1731.9,1575.2 L1736.6,1586.9 L1741.3,1583.4 L1746.5,1579.9 L1751.9,1584.6 L1757.7,1592.8" fill="none" stroke="#2e5fe0" stroke-width="4.5" stroke-linejoin="bevel" stroke-linecap="butt" /><path d="M1163.4,1625.7 L1168.4,1623.3 L1173.4,1624.8 L1178.4,1625.0 L1183.4,1623.5 L1188.4,1623.8 L1193.3,1625.1 L1198.3,1626.0 L1203.3,1626.3 L1208.3,1626.1 L1213.3,1625.1 L1218.3,1625.8 L1223.3,1626.0 L1228.3,1624.2 L1233.3,1624.0 L1238.2,1624.7 L1243.2,1624.1 L1248.2,1626.1 L1253.2,1623.8 L1258.2,1623.6 L1263.2,1623.9 L1268.2,1624.9 L1273.2,1626.4 L1278.2,1624.4 L1283.2,1626.1 L1288.2,1626.2 L1293.1,1625.6 L1298.1,1625.8 L1303.1,1625.8 L1308.1,1625.9 L1313.1,1624.1 L1318.1,1623.4 L1323.1,1625.7 L1328.1,1624.2 L1333.1,1626.6 L1338.1,1624.5 L1343.0,1624.3 L1348.0,1626.5 L1353.0,1626.3 L1358.0,1625.6 L1363.0,1625.3 L1368.0,1625.0 L1373.0,1623.6 L1378.0,1624.3 L1383.0,1625.6 L1388.0,1626.3 L1392.9,1623.6 L1397.9,1625.7 L1402.9,1624.6 L1407.9,1625.9 L1412.9,1626.2 L1417.9,1626.2 L1422.9,1624.1 L1427.9,1620.1 L1432.9,1602.0 L1437.9,1586.9 L1442.8,1606.9 L1447.8,1620.1 L1452.8,1624.4 L1457.8,1625.9 L1462.8,1625.8 L1467.8,1624.1 L1472.8,1623.7 L1477.8,1626.4 L1482.8,1625.2 L1487.8,1624.3 L1492.7,1626.4 L1497.7,1624.8 L1502.7,1626.5 L1507.7,1624.8 L1512.7,1625.0 L1517.7,1624.7 L1522.7,1626.2 L1527.7,1625.6 L1532.7,1624.9 L1537.7,1626.3 L1542.6,1626.0 L1547.6,1624.7 L1552.6,1626.4 L1557.6,1624.9 L1562.6,1623.9 L1567.6,1625.1 L1572.6,1624.9 L1577.6,1625.1 L1582.6,1626.5 L1587.6,1625.1 L1592.5,1623.9 L1597.5,1624.2 L1602.5,1625.3 L1607.5,1623.9 L1612.5,1624.1 L1617.5,1624.7 L1622.5,1626.5 L1627.5,1625.5 L1632.5,1626.5 L1637.5,1623.3 L1642.4,1623.5 L1647.4,1626.4 L1652.4,1623.5 L1657.4,1626.6 L1662.4,1625.3 L1667.4,1624.1 L1672.4,1624.1 L1677.4,1623.3 L1682.4,1624.5 L1687.4,1625.2 L1692.3,1623.3 L1697.3,1625.4 L1702.3,1623.7 L1707.3,1623.6 L1712.3,1625.4 L1717.3,1624.4 L1722.3,1624.4 L1727.3,1624.8 L1732.3,1624.5 L1737.2,1625.5 L1742.2,1626.1 L1747.2,1624.8 L1752.2,1624.9 L1757.2,1624.2" fill="none" stroke="#3a9ab8" stroke-width="4" stroke-linejoin="bevel" stroke-linecap="butt" /><path d="M1163.4,1631.8 L1168.4,1632.5 L1173.4,1632.5 L1178.4,1631.5 L1183.4,1630.2 L1188.4,1630.7 L1193.3,1630.7 L1198.3,1629.7 L1203.3,1627.8 L1208.3,1616.2 L1213.3,1627.7 L1218.3,1629.3 L1223.3,1630.1 L1228.3,1628.3 L1233.3,1616.2 L1238.2,1627.2 L1243.2,1629.9 L1248.2,1629.5 L1253.2,1628.6 L1258.2,1620.6 L1263.2,1628.3 L1268.2,1632.4 L1273.2,1630.5 L1278.2,1626.2 L1283.2,1620.6 L1288.2,1626.1 L1293.1,1631.2 L1298.1,1631.7 L1303.1,1631.8 L1308.1,1625.7 L1313.1,1615.2 L1318.1,1626.9 L1323.1,1631.6 L1328.1,1629.8 L1333.1,1626.1 L1338.1,1621.1 L1343.0,1626.6 L1348.0,1630.2 L1353.0,1631.4 L1358.0,1631.5 L1363.0,1628.1 L1368.0,1621.1 L1373.0,1627.9 L1378.0,1631.5 L1383.0,1632.3 L1388.0,1625.4 L1392.9,1615.7 L1397.9,1625.5 L1402.9,1630.4 L1407.9,1631.1 L1412.9,1626.9 L1417.9,1614.7 L1422.9,1625.4 L1427.9,1630.2 L1432.9,1629.9 L1437.9,1627.5 L1442.8,1603.5 L1447.8,1628.1 L1452.8,1631.3 L1457.8,1630.0 L1462.8,1627.0 L1467.8,1622.0 L1472.8,1627.6 L1477.8,1630.1 L1482.8,1629.8 L1487.8,1629.4 L1492.7,1626.7 L1497.7,1617.2 L1502.7,1626.7 L1507.7,1632.1 L1512.7,1631.7 L1517.7,1627.9 L1522.7,1620.1 L1527.7,1625.5 L1532.7,1629.6 L1537.7,1632.2 L1542.6,1630.1 L1547.6,1628.0 L1552.6,1618.1 L1557.6,1626.3 L1562.6,1630.5 L1567.6,1629.6 L1572.6,1628.0 L1577.6,1621.1 L1582.6,1626.2 L1587.6,1630.6 L1592.5,1630.9 L1597.5,1625.7 L1602.5,1616.2 L1607.5,1625.4 L1612.5,1632.5 L1617.5,1629.3 L1622.5,1629.3 L1627.5,1628.2 L1632.5,1619.1 L1637.5,1627.0 L1642.4,1631.7 L1647.4,1630.5 L1652.4,1627.9 L1657.4,1621.1 L1662.4,1626.8 L1667.4,1629.9 L1672.4,1631.2 L1677.4,1626.8 L1682.4,1615.2 L1687.4,1627.7 L1692.3,1630.8 L1697.3,1630.8 L1702.3,1632.2 L1707.3,1625.3 L1712.3,1620.1 L1717.3,1625.8 L1722.3,1629.4 L1727.3,1631.3 L1732.3,1627.2 L1737.2,1617.7 L1742.2,1627.9 L1747.2,1632.0 L1752.2,1631.6 L1757.2,1629.3" fill="none" stroke="#85869a" stroke-width="4" stroke-linejoin="bevel" stroke-linecap="butt" /><path d="M1163.4,1652.9 L1168.4,1637.1 L1173.4,1652.0 L1178.4,1654.1 L1183.4,1637.3 L1188.4,1648.7 L1193.3,1653.3 L1198.3,1635.9 L1203.3,1649.4 L1208.3,1654.5 L1213.3,1635.1 L1218.3,1648.1 L1223.3,1652.6 L1228.3,1636.7 L1233.3,1652.0 L1238.2,1651.8 L1243.2,1638.3 L1248.2,1649.3 L1253.2,1653.3 L1258.2,1634.7 L1263.2,1650.1 L1268.2,1652.6 L1273.2,1638.8 L1278.2,1652.6 L1283.2,1651.6 L1288.2,1634.5 L1293.1,1649.5 L1298.1,1652.0 L1303.1,1637.1 L1308.1,1648.7 L1313.1,1654.6 L1318.1,1635.7 L1323.1,1652.7 L1328.1,1653.3 L1333.1,1637.3 L1338.1,1649.8 L1343.0,1652.5 L1348.0,1636.1 L1353.0,1650.4 L1358.0,1653.3 L1363.0,1639.1 L1368.0,1650.1 L1373.0,1655.7 L1378.0,1636.5 L1383.0,1651.5 L1388.0,1650.9 L1392.9,1639.0 L1397.9,1648.8 L1402.9,1652.4 L1407.9,1635.2 L1412.9,1648.4 L1417.9,1655.2 L1422.9,1638.7 L1427.9,1652.1 L1432.9,1654.8 L1437.9,1636.6 L1442.8,1648.8 L1447.8,1654.4 L1452.8,1637.2 L1457.8,1651.0 L1462.8,1653.7 L1467.8,1636.4 L1472.8,1648.0 L1477.8,1654.6 L1482.8,1635.8 L1487.8,1648.7 L1492.7,1652.5 L1497.7,1634.9 L1502.7,1649.1 L1507.7,1655.3 L1512.7,1637.3 L1517.7,1650.1 L1522.7,1655.4 L1527.7,1639.1 L1532.7,1652.0 L1537.7,1653.3 L1542.6,1637.0 L1547.6,1649.0 L1552.6,1653.0 L1557.6,1634.9 L1562.6,1652.3 L1567.6,1653.1 L1572.6,1638.9 L1577.6,1651.8 L1582.6,1651.5 L1587.6,1634.8 L1592.5,1650.5 L1597.5,1655.5 L1602.5,1638.8 L1607.5,1648.3 L1612.5,1651.3 L1617.5,1636.4 L1622.5,1652.6 L1627.5,1651.2 L1632.5,1637.6 L1637.5,1648.1 L1642.4,1652.9 L1647.4,1635.5 L1652.4,1649.3 L1657.4,1653.8 L1662.4,1638.8 L1667.4,1652.0 L1672.4,1654.5 L1677.4,1635.1 L1682.4,1650.9 L1687.4,1651.3 L1692.3,1637.5 L1697.3,1649.1 L1702.3,1655.0 L1707.3,1634.3 L1712.3,1649.3 L1717.3,1653.3 L1722.3,1634.4 L1727.3,1652.5 L1732.3,1653.6 L1737.2,1635.0 L1742.2,1651.1 L1747.2,1652.0 L1752.2,1634.5 L1757.2,1650.9" fill="none" stroke="#dc4049" stroke-width="4" stroke-linejoin="bevel" stroke-linecap="butt" /><path d="M1163.4,1649.3 L1168.4,1650.9 L1173.4,1650.5 L1178.4,1649.0 L1183.4,1650.1 L1188.4,1650.5 L1193.3,1649.3 L1198.3,1650.4 L1203.3,1649.9 L1208.3,1650.0 L1213.3,1651.3 L1218.3,1650.3 L1223.3,1649.9 L1228.3,1650.2 L1233.3,1651.6 L1238.2,1651.5 L1243.2,1650.3 L1248.2,1650.6 L1253.2,1650.4 L1258.2,1651.4 L1263.2,1651.9 L1268.2,1652.2 L1273.2,1651.6 L1278.2,1651.5 L1283.2,1651.8 L1288.2,1652.1 L1293.1,1652.1 L1298.1,1651.6 L1303.1,1651.4 L1308.1,1651.8 L1313.1,1652.6 L1318.1,1652.0 L1323.1,1652.6 L1328.1,1651.6 L1333.1,1652.2 L1338.1,1652.2 L1343.0,1652.4 L1348.0,1652.3 L1353.0,1653.0 L1358.0,1651.3 L1363.0,1651.3 L1368.0,1651.2 L1373.0,1652.2 L1378.0,1653.1 L1383.0,1652.7 L1388.0,1653.3 L1392.9,1653.0 L1397.9,1652.6 L1402.9,1653.6 L1407.9,1652.9 L1412.9,1653.0 L1417.9,1652.9 L1422.9,1653.8 L1427.9,1653.5 L1432.9,1646.0 L1437.9,1631.8 L1442.8,1626.0 L1447.8,1627.4 L1452.8,1632.8 L1457.8,1640.6 L1462.8,1648.9 L1467.8,1654.7 L1472.8,1656.7 L1477.8,1656.9 L1482.8,1657.5 L1487.8,1657.5 L1492.7,1657.0 L1497.7,1657.0 L1502.7,1656.9 L1507.7,1657.9 L1512.7,1657.7 L1517.7,1657.0 L1522.7,1657.9 L1527.7,1657.8 L1532.7,1657.1 L1537.7,1657.1 L1542.6,1658.0 L1547.6,1657.5 L1552.6,1657.8 L1557.6,1657.8 L1562.6,1658.2 L1567.6,1658.1 L1572.6,1657.6 L1577.6,1658.1 L1582.6,1658.5 L1587.6,1658.0 L1592.5,1658.0 L1597.5,1658.1 L1602.5,1658.0 L1607.5,1658.2 L1612.5,1657.7 L1617.5,1658.4 L1622.5,1658.1 L1627.5,1658.5 L1632.5,1658.7 L1637.5,1658.2 L1642.4,1658.1 L1647.4,1658.2 L1652.4,1658.7 L1657.4,1658.6 L1662.4,1658.5 L1667.4,1659.0 L1672.4,1658.6 L1677.4,1658.5 L1682.4,1658.5 L1687.4,1659.4 L1692.3,1658.3 L1697.3,1659.0 L1702.3,1659.1 L1707.3,1659.0 L1712.3,1658.6 L1717.3,1658.9 L1722.3,1659.1 L1727.3,1658.8 L1732.3,1659.4 L1737.2,1658.8 L1742.2,1659.2 L1747.2,1659.2 L1752.2,1659.9 L1757.2,1659.1" fill="none" stroke="#a84a1e" stroke-width="4.5" stroke-linejoin="bevel" stroke-linecap="butt" /><path d="M1163.4,1669.8 L1168.4,1671.1 L1173.4,1668.4 L1178.4,1672.0 L1183.4,1665.2 L1188.4,1667.2 L1193.3,1669.3 L1198.3,1667.2 L1203.3,1666.4 L1208.3,1670.7 L1213.3,1674.4 L1218.3,1673.5 L1223.3,1672.4 L1228.3,1672.8 L1233.3,1672.7 L1238.2,1672.8 L1243.2,1673.4 L1248.2,1673.3 L1253.2,1670.1 L1258.2,1670.6 L1263.2,1670.4 L1268.2,1670.8 L1273.2,1672.3 L1278.2,1671.3 L1283.2,1669.0 L1288.2,1665.3 L1293.1,1671.4 L1298.1,1666.2 L1303.1,1672.4 L1308.1,1672.0 L1313.1,1671.8 L1318.1,1674.2 L1323.1,1672.9 L1328.1,1673.3 L1333.1,1673.7 L1338.1,1671.8 L1343.0,1674.1 L1348.0,1673.7 L1353.0,1669.5 L1358.0,1673.4 L1363.0,1667.7 L1368.0,1668.3 L1373.0,1667.6 L1378.0,1670.8 L1383.0,1665.1 L1388.0,1670.3 L1392.9,1671.2 L1397.9,1671.9 L1402.9,1669.9 L1407.9,1668.0 L1412.9,1673.7 L1417.9,1673.1 L1422.9,1675.1 L1427.9,1672.3 L1432.9,1673.7 L1437.9,1676.2 L1442.8,1671.8 L1447.8,1674.0 L1452.8,1670.6 L1457.8,1671.2 L1462.8,1668.3 L1467.8,1671.1 L1472.8,1666.9 L1477.8,1666.3 L1482.8,1671.5 L1487.8,1671.5 L1492.7,1666.7 L1497.7,1672.1 L1502.7,1671.9 L1507.7,1671.8 L1512.7,1673.8 L1517.7,1670.3 L1522.7,1673.0 L1527.7,1672.3 L1532.7,1672.5 L1537.7,1672.1 L1542.6,1671.7 L1547.6,1672.6 L1552.6,1668.4 L1557.6,1669.2 L1562.6,1667.2 L1567.6,1667.4 L1572.6,1669.9 L1577.6,1667.6 L1582.6,1671.4 L1587.6,1671.5 L1592.5,1672.2 L1597.5,1671.7 L1602.5,1673.3 L1607.5,1670.6 L1612.5,1672.5 L1617.5,1673.6 L1622.5,1675.7 L1627.5,1674.1 L1632.5,1675.2 L1637.5,1671.6 L1642.4,1670.6 L1647.4,1670.2 L1652.4,1667.0 L1657.4,1669.3 L1662.4,1669.1 L1667.4,1671.1 L1672.4,1669.7 L1677.4,1668.8 L1682.4,1671.8 L1687.4,1670.3 L1692.3,1673.3 L1697.3,1673.2 L1702.3,1669.4 L1707.3,1669.1 L1712.3,1672.8 L1717.3,1673.2 L1722.3,1672.0 L1727.3,1673.7 L1732.3,1670.5 L1737.2,1672.3 L1742.2,1674.4 L1747.2,1673.9 L1752.2,1668.2 L1757.2,1670.7" fill="none" stroke="#c8a02a" stroke-width="4" stroke-linejoin="bevel" stroke-linecap="butt" /><path d="M1163.4,1663.0 L1168.4,1666.6 L1173.4,1664.2 L1178.4,1668.8 L1183.4,1666.6 L1188.4,1661.0 L1193.3,1657.9 L1198.3,1659.7 L1203.3,1667.4 L1208.3,1671.2 L1213.3,1662.8 L1218.3,1657.9 L1223.3,1662.5 L1228.3,1657.8 L1233.3,1667.6 L1238.2,1661.9 L1243.2,1661.7 L1248.2,1654.7 L1253.2,1665.1 L1258.2,1658.9 L1263.2,1657.1 L1268.2,1663.2 L1273.2,1655.3 L1278.2,1660.0 L1283.2,1663.9 L1288.2,1658.5 L1293.1,1661.7 L1298.1,1654.7 L1303.1,1654.6 L1308.1,1662.9 L1313.1,1658.1 L1318.1,1659.2 L1323.1,1663.5 L1328.1,1660.0 L1333.1,1659.4 L1338.1,1666.4 L1343.0,1670.4 L1348.0,1671.3 L1353.0,1671.3 L1358.0,1671.3 L1363.0,1669.5 L1368.0,1669.7 L1373.0,1665.8 L1378.0,1667.2 L1383.0,1661.9 L1388.0,1665.8 L1392.9,1668.0 L1397.9,1659.9 L1402.9,1654.3 L1407.9,1655.8 L1412.9,1665.8 L1417.9,1657.2 L1422.9,1655.6 L1427.9,1654.3 L1432.9,1654.3 L1437.9,1654.3 L1442.8,1664.5 L1447.8,1658.0 L1452.8,1664.4 L1457.8,1660.4 L1462.8,1656.6 L1467.8,1655.7 L1472.8,1656.6 L1477.8,1660.0 L1482.8,1660.3 L1487.8,1665.3 L1492.7,1665.5 L1497.7,1665.0 L1502.7,1661.9 L1507.7,1656.6 L1512.7,1666.2 L1517.7,1664.4 L1522.7,1667.2 L1527.7,1658.3 L1532.7,1662.7 L1537.7,1655.8 L1542.6,1662.1 L1547.6,1670.4 L1552.6,1662.4 L1557.6,1659.1 L1562.6,1657.5 L1567.6,1660.9 L1572.6,1659.4 L1577.6,1663.4 L1582.6,1670.1 L1587.6,1666.0 L1592.5,1668.9 L1597.5,1667.1 L1602.5,1669.6 L1607.5,1669.9 L1612.5,1661.4 L1617.5,1664.7 L1622.5,1662.7 L1627.5,1661.8 L1632.5,1662.7 L1637.5,1665.3 L1642.4,1661.3 L1647.4,1669.2 L1652.4,1671.3 L1657.4,1662.8 L1662.4,1663.5 L1667.4,1669.2 L1672.4,1660.5 L1677.4,1662.7 L1682.4,1670.7 L1687.4,1659.7 L1692.3,1666.0 L1697.3,1661.6 L1702.3,1668.1 L1707.3,1663.2 L1712.3,1668.4 L1717.3,1659.0 L1722.3,1664.5 L1727.3,1661.4 L1732.3,1666.1 L1737.2,1666.6 L1742.2,1658.5 L1747.2,1666.0 L1752.2,1666.1 L1757.2,1667.6" fill="none" stroke="#e05a9a" stroke-width="4" stroke-linejoin="bevel" stroke-linecap="butt" /><path d="M1163.4,1674.1 L1168.4,1674.4 L1173.4,1674.2 L1178.4,1674.1 L1183.4,1674.6 L1188.4,1674.3 L1193.3,1674.5 L1198.3,1674.4 L1203.3,1674.2 L1208.3,1674.6 L1213.3,1674.1 L1218.3,1674.1 L1223.3,1674.0 L1228.3,1674.3 L1233.3,1674.5 L1238.2,1674.5 L1243.2,1674.3 L1248.2,1674.1 L1253.2,1674.5 L1258.2,1674.4 L1263.2,1674.0 L1268.2,1674.5 L1273.2,1674.1 L1278.2,1674.1 L1283.2,1674.5 L1288.2,1674.0 L1293.1,1674.5 L1298.1,1674.2 L1303.1,1674.6 L1308.1,1674.2 L1313.1,1674.3 L1318.1,1674.1 L1323.1,1674.2 L1328.1,1674.5 L1333.1,1674.3 L1338.1,1674.2 L1343.0,1674.1 L1348.0,1674.5 L1353.0,1674.5 L1358.0,1674.1 L1363.0,1674.2 L1368.0,1674.3 L1373.0,1674.0 L1378.0,1674.4 L1383.0,1674.5 L1388.0,1674.4 L1392.9,1674.5 L1397.9,1674.2 L1402.9,1674.2 L1407.9,1674.2 L1412.9,1674.1 L1417.9,1674.2 L1422.9,1674.1 L1427.9,1674.2 L1432.9,1674.4 L1437.9,1674.3 L1442.8,1674.3 L1447.8,1674.1 L1452.8,1674.4 L1457.8,1674.5 L1462.8,1674.0 L1467.8,1674.0 L1472.8,1674.3 L1477.8,1674.5 L1482.8,1674.3 L1487.8,1674.2 L1492.7,1674.2 L1497.7,1674.0 L1502.7,1674.0 L1507.7,1674.0 L1512.7,1674.5 L1517.7,1674.1 L1522.7,1674.2 L1527.7,1674.3 L1532.7,1674.2 L1537.7,1674.1 L1542.6,1674.0 L1547.6,1674.1 L1552.6,1674.5 L1557.6,1674.5 L1562.6,1674.4 L1567.6,1674.5 L1572.6,1674.5 L1577.6,1674.1 L1582.6,1674.3 L1587.6,1674.2 L1592.5,1674.3 L1597.5,1674.3 L1602.5,1674.1 L1607.5,1674.5 L1612.5,1674.2 L1617.5,1674.2 L1622.5,1674.4 L1627.5,1674.4 L1632.5,1674.3 L1637.5,1674.4 L1642.4,1674.1 L1647.4,1674.2 L1652.4,1674.3 L1657.4,1674.2 L1662.4,1674.1 L1667.4,1674.2 L1672.4,1674.5 L1677.4,1674.1 L1682.4,1674.1 L1687.4,1674.1 L1692.3,1674.5 L1697.3,1674.5 L1702.3,1674.3 L1707.3,1674.3 L1712.3,1674.2 L1717.3,1674.4 L1722.3,1674.1 L1727.3,1674.1 L1732.3,1674.5 L1737.2,1674.1 L1742.2,1674.1 L1747.2,1674.5 L1752.2,1674.0 L1757.2,1674.3" fill="none" stroke="#8ecbea" stroke-width="4" stroke-linejoin="bevel" stroke-linecap="butt" /><path d="M1163.4,1677.0 L1168.4,1677.1 L1173.4,1677.9 L1178.4,1678.0 L1183.4,1677.0 L1188.4,1677.8 L1193.3,1676.9 L1198.3,1677.0 L1203.3,1678.1 L1208.3,1677.0 L1213.3,1677.8 L1218.3,1678.1 L1223.3,1677.1 L1228.3,1677.3 L1233.3,1678.1 L1238.2,1677.5 L1243.2,1677.6 L1248.2,1677.4 L1253.2,1677.3 L1258.2,1677.6 L1263.2,1677.8 L1268.2,1678.0 L1273.2,1677.3 L1278.2,1677.1 L1283.2,1677.8 L1288.2,1677.4 L1293.1,1678.1 L1298.1,1676.9 L1303.1,1677.8 L1308.1,1677.5 L1313.1,1677.6 L1318.1,1677.9 L1323.1,1676.8 L1328.1,1676.9 L1333.1,1677.4 L1338.1,1676.8 L1343.0,1677.1 L1348.0,1677.6 L1353.0,1677.7 L1358.0,1677.6 L1363.0,1677.1 L1368.0,1677.8 L1373.0,1678.1 L1378.0,1677.6 L1383.0,1677.4 L1388.0,1676.8 L1392.9,1677.9 L1397.9,1677.0 L1402.9,1676.7 L1407.9,1676.8 L1412.9,1678.1 L1417.9,1677.5 L1422.9,1677.8 L1427.9,1676.9 L1432.9,1677.7 L1437.9,1677.4 L1442.8,1678.2 L1447.8,1677.9 L1452.8,1677.3 L1457.8,1677.7 L1462.8,1677.3 L1467.8,1677.5 L1472.8,1677.3 L1477.8,1677.4 L1482.8,1677.0 L1487.8,1677.9 L1492.7,1676.8 L1497.7,1677.1 L1502.7,1677.8 L1507.7,1678.2 L1512.7,1677.6 L1517.7,1677.8 L1522.7,1677.7 L1527.7,1676.9 L1532.7,1676.9 L1537.7,1676.8 L1542.6,1678.2 L1547.6,1677.2 L1552.6,1676.9 L1557.6,1677.1 L1562.6,1678.0 L1567.6,1677.4 L1572.6,1677.8 L1577.6,1677.4 L1582.6,1678.1 L1587.6,1676.7 L1592.5,1677.1 L1597.5,1678.0 L1602.5,1676.8 L1607.5,1676.9 L1612.5,1677.4 L1617.5,1677.1 L1622.5,1677.6 L1627.5,1676.7 L1632.5,1678.0 L1637.5,1678.0 L1642.4,1678.0 L1647.4,1677.0 L1652.4,1678.1 L1657.4,1677.3 L1662.4,1677.5 L1667.4,1676.8 L1672.4,1677.8 L1677.4,1677.8 L1682.4,1677.7 L1687.4,1677.0 L1692.3,1677.1 L1697.3,1677.1 L1702.3,1677.7 L1707.3,1677.8 L1712.3,1678.1 L1717.3,1677.9 L1722.3,1677.0 L1727.3,1677.3 L1732.3,1677.9 L1737.2,1677.9 L1742.2,1677.5 L1747.2,1677.6 L1752.2,1677.4 L1757.2,1676.8" fill="none" stroke="#6a9e3a" stroke-width="4.5" stroke-linejoin="bevel" stroke-linecap="butt" /><path d="M1163.4,1680.2 L1168.4,1680.1 L1173.4,1680.1 L1178.4,1680.2 L1183.4,1680.2 L1188.4,1679.7 L1193.3,1679.6 L1198.3,1679.7 L1203.3,1680.3 L1208.3,1679.5 L1213.3,1680.0 L1218.3,1680.3 L1223.3,1680.1 L1228.3,1680.0 L1233.3,1679.9 L1238.2,1679.7 L1243.2,1680.1 L1248.2,1679.4 L1253.2,1680.3 L1258.2,1680.0 L1263.2,1679.9 L1268.2,1679.6 L1273.2,1680.1 L1278.2,1679.9 L1283.2,1679.6 L1288.2,1680.2 L1293.1,1680.4 L1298.1,1679.6 L1303.1,1679.4 L1308.1,1680.2 L1313.1,1679.6 L1318.1,1680.0 L1323.1,1679.7 L1328.1,1679.7 L1333.1,1679.8 L1338.1,1680.1 L1343.0,1679.6 L1348.0,1680.3 L1353.0,1680.3 L1358.0,1679.5 L1363.0,1679.9 L1368.0,1680.2 L1373.0,1679.5 L1378.0,1679.6 L1383.0,1680.0 L1388.0,1680.3 L1392.9,1679.9 L1397.9,1680.2 L1402.9,1679.8 L1407.9,1679.6 L1412.9,1680.0 L1417.9,1680.3 L1422.9,1679.7 L1427.9,1680.2 L1432.9,1680.2 L1437.9,1680.2 L1442.8,1680.1 L1447.8,1679.5 L1452.8,1680.3 L1457.8,1679.8 L1462.8,1680.1 L1467.8,1680.1 L1472.8,1680.0 L1477.8,1679.8 L1482.8,1680.3 L1487.8,1680.1 L1492.7,1680.2 L1497.7,1680.2 L1502.7,1679.5 L1507.7,1679.9 L1512.7,1679.7 L1517.7,1679.6 L1522.7,1679.6 L1527.7,1679.4 L1532.7,1679.6 L1537.7,1680.0 L1542.6,1679.8 L1547.6,1679.9 L1552.6,1679.5 L1557.6,1679.9 L1562.6,1680.0 L1567.6,1680.2 L1572.6,1680.1 L1577.6,1680.2 L1582.6,1679.5 L1587.6,1679.6 L1592.5,1680.3 L1597.5,1679.4 L1602.5,1679.8 L1607.5,1679.6 L1612.5,1679.4 L1617.5,1679.4 L1622.5,1680.3 L1627.5,1679.7 L1632.5,1680.1 L1637.5,1679.6 L1642.4,1679.5 L1647.4,1680.3 L1652.4,1679.4 L1657.4,1680.1 L1662.4,1679.5 L1667.4,1679.6 L1672.4,1680.0 L1677.4,1679.5 L1682.4,1679.5 L1687.4,1680.2 L1692.3,1679.8 L1697.3,1679.6 L1702.3,1679.7 L1707.3,1679.5 L1712.3,1680.3 L1717.3,1679.7 L1722.3,1679.4 L1727.3,1679.8 L1732.3,1679.8 L1737.2,1680.2 L1742.2,1679.4 L1747.2,1679.5 L1752.2,1679.9 L1757.2,1680.1" fill="none" stroke="#6fd0b8" stroke-width="2" stroke-linejoin="bevel" stroke-linecap="butt" /><path d="M1163.4,1680.9 L1168.4,1681.2 L1173.4,1681.1 L1178.4,1681.1 L1183.4,1680.8 L1188.4,1681.2 L1193.3,1680.5 L1198.3,1681.1 L1203.3,1681.1 L1208.3,1680.7 L1213.3,1680.5 L1218.3,1680.6 L1223.3,1681.0 L1228.3,1681.2 L1233.3,1680.8 L1238.2,1680.5 L1243.2,1680.6 L1248.2,1680.6 L1253.2,1680.6 L1258.2,1680.5 L1263.2,1681.0 L1268.2,1680.5 L1273.2,1680.9 L1278.2,1681.2 L1283.2,1681.0 L1288.2,1681.1 L1293.1,1681.1 L1298.1,1680.5 L1303.1,1680.6 L1308.1,1680.5 L1313.1,1680.7 L1318.1,1681.1 L1323.1,1680.5 L1328.1,1680.7 L1333.1,1680.5 L1338.1,1680.6 L1343.0,1681.1 L1348.0,1680.8 L1353.0,1681.1 L1358.0,1681.0 L1363.0,1680.7 L1368.0,1681.1 L1373.0,1680.7 L1378.0,1680.5 L1383.0,1680.5 L1388.0,1680.9 L1392.9,1680.5 L1397.9,1680.5 L1402.9,1681.2 L1407.9,1680.8 L1412.9,1680.5 L1417.9,1680.5 L1422.9,1681.1 L1427.9,1680.8 L1432.9,1680.5 L1437.9,1681.1 L1442.8,1680.7 L1447.8,1681.1 L1452.8,1680.5 L1457.8,1681.1 L1462.8,1680.6 L1467.8,1681.2 L1472.8,1680.7 L1477.8,1680.7 L1482.8,1680.6 L1487.8,1680.9 L1492.7,1681.0 L1497.7,1681.0 L1502.7,1681.2 L1507.7,1681.0 L1512.7,1681.2 L1517.7,1681.2 L1522.7,1680.9 L1527.7,1680.7 L1532.7,1680.5 L1537.7,1680.6 L1542.6,1680.9 L1547.6,1680.9 L1552.6,1680.8 L1557.6,1681.2 L1562.6,1680.9 L1567.6,1680.6 L1572.6,1680.7 L1577.6,1680.7 L1582.6,1681.1 L1587.6,1681.2 L1592.5,1680.6 L1597.5,1681.0 L1602.5,1681.0 L1607.5,1680.5 L1612.5,1681.2 L1617.5,1681.1 L1622.5,1680.9 L1627.5,1680.7 L1632.5,1680.8 L1637.5,1680.5 L1642.4,1681.2 L1647.4,1680.8 L1652.4,1680.8 L1657.4,1680.9 L1662.4,1681.2 L1667.4,1680.5 L1672.4,1681.1 L1677.4,1680.5 L1682.4,1681.1 L1687.4,1681.2 L1692.3,1681.1 L1697.3,1681.1 L1702.3,1680.7 L1707.3,1680.7 L1712.3,1680.7 L1717.3,1681.0 L1722.3,1681.0 L1727.3,1681.1 L1732.3,1681.2 L1737.2,1680.8 L1742.2,1680.6 L1747.2,1681.1 L1752.2,1681.0 L1757.2,1680.9" fill="none" stroke="#dc4049" stroke-width="2" stroke-linejoin="bevel" stroke-linecap="butt" /><path d="M1163.4,1683.0 L1168.4,1682.6 L1173.4,1682.7 L1178.4,1683.1 L1183.4,1683.3 L1188.4,1683.1 L1193.3,1683.0 L1198.3,1683.2 L1203.3,1682.5 L1208.3,1683.0 L1213.3,1682.9 L1218.3,1682.8 L1223.3,1682.6 L1228.3,1683.2 L1233.3,1682.8 L1238.2,1683.1 L1243.2,1682.4 L1248.2,1682.9 L1253.2,1682.9 L1258.2,1683.0 L1263.2,1682.8 L1268.2,1683.1 L1273.2,1683.0 L1278.2,1683.2 L1283.2,1682.6 L1288.2,1682.6 L1293.1,1683.2 L1298.1,1683.0 L1303.1,1682.8 L1308.1,1682.3 L1313.1,1682.7 L1318.1,1682.8 L1323.1,1682.5 L1328.1,1682.5 L1333.1,1682.9 L1338.1,1682.8 L1343.0,1682.4 L1348.0,1682.8 L1353.0,1682.4 L1358.0,1682.8 L1363.0,1683.2 L1368.0,1682.4 L1373.0,1682.6 L1378.0,1682.8 L1383.0,1682.4 L1388.0,1682.5 L1392.9,1682.6 L1397.9,1682.7 L1402.9,1683.2 L1407.9,1682.6 L1412.9,1683.1 L1417.9,1682.3 L1422.9,1682.3 L1427.9,1682.5 L1432.9,1683.2 L1437.9,1682.9 L1442.8,1682.3 L1447.8,1682.9 L1452.8,1682.3 L1457.8,1682.7 L1462.8,1682.5 L1467.8,1683.0 L1472.8,1682.4 L1477.8,1682.4 L1482.8,1683.2 L1487.8,1682.9 L1492.7,1682.9 L1497.7,1683.0 L1502.7,1683.0 L1507.7,1682.8 L1512.7,1682.4 L1517.7,1682.5 L1522.7,1682.7 L1527.7,1682.8 L1532.7,1682.9 L1537.7,1682.9 L1542.6,1683.1 L1547.6,1682.7 L1552.6,1682.6 L1557.6,1682.4 L1562.6,1682.4 L1567.6,1682.7 L1572.6,1683.2 L1577.6,1683.0 L1582.6,1682.8 L1587.6,1683.0 L1592.5,1682.9 L1597.5,1682.9 L1602.5,1682.8 L1607.5,1682.7 L1612.5,1683.3 L1617.5,1683.0 L1622.5,1683.2 L1627.5,1682.7 L1632.5,1682.6 L1637.5,1683.3 L1642.4,1682.4 L1647.4,1683.0 L1652.4,1683.1 L1657.4,1682.6 L1662.4,1682.4 L1667.4,1682.4 L1672.4,1683.3 L1677.4,1682.5 L1682.4,1683.0 L1687.4,1683.0 L1692.3,1682.8 L1697.3,1682.6 L1702.3,1683.2 L1707.3,1682.4 L1712.3,1683.2 L1717.3,1682.3 L1722.3,1682.9 L1727.3,1682.5 L1732.3,1683.0 L1737.2,1682.9 L1742.2,1682.7 L1747.2,1683.1 L1752.2,1683.1 L1757.2,1682.5" fill="none" stroke="#b8902a" stroke-width="5" stroke-linejoin="bevel" stroke-linecap="butt" /><path d="M1163.4,1685.4 L1168.4,1685.4 L1173.4,1685.2 L1178.4,1685.3 L1183.4,1685.7 L1188.4,1686.2 L1193.3,1686.0 L1198.3,1685.7 L1203.3,1686.3 L1208.3,1685.2 L1213.3,1685.2 L1218.3,1686.4 L1223.3,1686.2 L1228.3,1685.2 L1233.3,1685.2 L1238.2,1686.1 L1243.2,1685.8 L1248.2,1685.1 L1253.2,1685.4 L1258.2,1686.1 L1263.2,1685.3 L1268.2,1685.7 L1273.2,1685.5 L1278.2,1686.3 L1283.2,1686.4 L1288.2,1685.9 L1293.1,1685.6 L1298.1,1686.2 L1303.1,1685.2 L1308.1,1685.6 L1313.1,1686.0 L1318.1,1686.2 L1323.1,1685.2 L1328.1,1685.4 L1333.1,1685.5 L1338.1,1686.0 L1343.0,1685.9 L1348.0,1661.6 L1353.0,1686.2 L1358.0,1685.6 L1363.0,1685.1 L1368.0,1685.2 L1373.0,1685.5 L1378.0,1685.5 L1383.0,1686.1 L1388.0,1685.9 L1392.9,1686.4 L1397.9,1685.3 L1402.9,1685.3 L1407.9,1686.5 L1412.9,1685.1 L1417.9,1685.5 L1422.9,1685.6 L1427.9,1686.5 L1432.9,1686.1 L1437.9,1685.3 L1442.8,1686.0 L1447.8,1685.0 L1452.8,1685.5 L1457.8,1685.8 L1462.8,1685.9 L1467.8,1686.0 L1472.8,1686.1 L1477.8,1685.8 L1482.8,1685.5 L1487.8,1685.3 L1492.7,1685.9 L1497.7,1686.3 L1502.7,1685.7 L1507.7,1685.5 L1512.7,1685.2 L1517.7,1685.9 L1522.7,1685.5 L1527.7,1685.6 L1532.7,1686.0 L1537.7,1686.3 L1542.6,1686.4 L1547.6,1685.0 L1552.6,1685.5 L1557.6,1685.2 L1562.6,1686.1 L1567.6,1685.4 L1572.6,1685.2 L1577.6,1686.0 L1582.6,1686.2 L1587.6,1685.3 L1592.5,1685.1 L1597.5,1685.3 L1602.5,1685.3 L1607.5,1685.6 L1612.5,1685.5 L1617.5,1685.5 L1622.5,1685.4 L1627.5,1685.5 L1632.5,1685.0 L1637.5,1686.1 L1642.4,1685.9 L1647.4,1685.9 L1652.4,1686.4 L1657.4,1685.4 L1662.4,1685.6 L1667.4,1686.2 L1672.4,1685.4 L1677.4,1686.1 L1682.4,1685.7 L1687.4,1685.3 L1692.3,1685.1 L1697.3,1685.5 L1702.3,1685.7 L1707.3,1685.2 L1712.3,1685.2 L1717.3,1685.2 L1722.3,1686.2 L1727.3,1686.3 L1732.3,1686.3 L1737.2,1686.1 L1742.2,1685.3 L1747.2,1685.3 L1752.2,1686.2 L1757.2,1685.5" fill="none" stroke="#e8701e" stroke-width="4" stroke-linejoin="bevel" stroke-linecap="butt" /><path d="M1163.4,1690.0 L1168.4,1690.1 L1173.4,1690.0 L1178.4,1689.8 L1183.4,1690.0 L1188.4,1689.7 L1193.3,1690.0 L1198.3,1690.0 L1203.3,1690.0 L1208.3,1689.7 L1213.3,1689.9 L1218.3,1689.7 L1223.3,1689.8 L1228.3,1689.7 L1233.3,1690.1 L1238.2,1689.7 L1243.2,1689.9 L1248.2,1689.7 L1253.2,1689.9 L1258.2,1690.0 L1263.2,1690.1 L1268.2,1689.7 L1273.2,1690.1 L1278.2,1690.0 L1283.2,1689.9 L1288.2,1689.8 L1293.1,1689.7 L1298.1,1689.9 L1303.1,1690.0 L1308.1,1689.8 L1313.1,1689.7 L1318.1,1689.9 L1323.1,1689.8 L1328.1,1690.0 L1333.1,1689.8 L1338.1,1690.1 L1343.0,1690.0 L1348.0,1689.8 L1353.0,1690.0 L1358.0,1689.8 L1363.0,1689.9 L1368.0,1689.8 L1373.0,1690.1 L1378.0,1689.8 L1383.0,1689.8 L1388.0,1689.9 L1392.9,1689.7 L1397.9,1689.9 L1402.9,1690.1 L1407.9,1690.0 L1412.9,1689.9 L1417.9,1690.1 L1422.9,1690.0 L1427.9,1689.7 L1432.9,1690.0 L1437.9,1689.8 L1442.8,1689.8 L1447.8,1690.0 L1452.8,1689.8 L1457.8,1690.0 L1462.8,1690.1 L1467.8,1689.9 L1472.8,1689.8 L1477.8,1690.0 L1482.8,1689.7 L1487.8,1690.0 L1492.7,1690.0 L1497.7,1689.8 L1502.7,1689.8 L1507.7,1690.0 L1512.7,1689.7 L1517.7,1689.6 L1522.7,1690.0 L1527.7,1689.7 L1532.7,1689.9 L1537.7,1690.0 L1542.6,1689.7 L1547.6,1689.7 L1552.6,1689.9 L1557.6,1690.0 L1562.6,1689.8 L1567.6,1690.1 L1572.6,1689.8 L1577.6,1689.8 L1582.6,1690.0 L1587.6,1689.9 L1592.5,1689.8 L1597.5,1690.1 L1602.5,1689.7 L1607.5,1690.0 L1612.5,1689.9 L1617.5,1690.1 L1622.5,1689.6 L1627.5,1689.8 L1632.5,1689.8 L1637.5,1690.1 L1642.4,1689.8 L1647.4,1689.9 L1652.4,1689.9 L1657.4,1689.9 L1662.4,1689.9 L1667.4,1690.0 L1672.4,1689.8 L1677.4,1689.8 L1682.4,1690.0 L1687.4,1689.8 L1692.3,1689.8 L1697.3,1690.0 L1702.3,1689.8 L1707.3,1690.1 L1712.3,1689.7 L1717.3,1690.1 L1722.3,1689.8 L1727.3,1690.1 L1732.3,1690.1 L1737.2,1690.1 L1742.2,1690.0 L1747.2,1690.0 L1752.2,1690.0 L1757.2,1689.9" fill="none" stroke="#ececf4" stroke-width="4.5" stroke-linejoin="bevel" stroke-linecap="butt" /><path d="M1163.4,1694.5 L1168.4,1694.5 L1173.4,1694.5 L1178.4,1694.5 L1183.4,1694.5 L1188.4,1694.5 L1193.3,1694.5 L1198.3,1694.5 L1203.3,1694.5 L1208.3,1694.5 L1213.3,1694.5 L1218.3,1694.5 L1223.3,1694.5 L1228.3,1694.5 L1233.3,1694.5 L1238.2,1694.5 L1243.2,1694.5 L1248.2,1694.5 L1253.2,1694.5 L1258.2,1694.5 L1263.2,1694.5 L1268.2,1694.5 L1273.2,1694.5 L1278.2,1694.5 L1283.2,1694.5 L1288.2,1694.5 L1293.1,1694.5 L1298.1,1694.5 L1303.1,1694.5 L1308.1,1694.5 L1313.1,1694.5 L1318.1,1694.5 L1323.1,1694.5 L1328.1,1694.5 L1333.1,1694.5 L1338.1,1694.5 L1343.0,1694.5 L1348.0,1694.5 L1353.0,1694.5 L1358.0,1694.5 L1363.0,1694.5 L1368.0,1694.5 L1373.0,1694.5 L1378.0,1694.5 L1383.0,1694.5 L1388.0,1694.5 L1392.9,1694.5 L1397.9,1694.5 L1402.9,1694.5 L1407.9,1694.5 L1412.9,1694.5 L1417.9,1694.5 L1422.9,1694.5 L1427.9,1694.5 L1432.9,1694.5 L1437.9,1694.5 L1442.8,1694.5 L1447.8,1694.5 L1452.8,1694.5 L1457.8,1694.5 L1462.8,1694.5 L1467.8,1694.5 L1472.8,1694.5 L1477.8,1694.5 L1482.8,1694.5 L1487.8,1694.5 L1492.7,1694.5 L1497.7,1694.5 L1502.7,1694.5 L1507.7,1694.5 L1512.7,1694.5 L1517.7,1694.5 L1522.7,1694.5 L1527.7,1694.5 L1532.7,1694.5 L1537.7,1694.5 L1542.6,1694.5 L1547.6,1694.5 L1552.6,1694.5 L1557.6,1694.5 L1562.6,1694.5 L1567.6,1694.5 L1572.6,1694.5 L1577.6,1694.5 L1582.6,1694.5 L1587.6,1694.5 L1592.5,1694.5 L1597.5,1694.5 L1602.5,1694.5 L1607.5,1694.5 L1612.5,1694.5 L1617.5,1694.5 L1622.5,1694.5 L1627.5,1694.5 L1632.5,1694.5 L1637.5,1694.5 L1642.4,1694.5 L1647.4,1694.5 L1652.4,1694.5 L1657.4,1694.5 L1662.4,1694.5 L1667.4,1694.5 L1672.4,1694.5 L1677.4,1694.5 L1682.4,1694.5 L1687.4,1694.5 L1692.3,1694.5 L1697.3,1694.5 L1702.3,1694.5 L1707.3,1694.5 L1712.3,1694.5 L1717.3,1694.5 L1722.3,1694.5 L1727.3,1694.5 L1732.3,1694.5 L1737.2,1694.5 L1742.2,1694.5 L1747.2,1694.5 L1752.2,1694.5 L1757.2,1694.5" fill="none" stroke="#9678d8" stroke-width="5" stroke-linejoin="bevel" stroke-linecap="butt" /><path d="M1412.9,1691.3 L1417.9,1473.7 L1422.9,1450.3 L1427.9,1570.3 L1432.9,1691.3" fill="none" stroke="#e8701e" stroke-width="4.5" stroke-linejoin="bevel" stroke-linecap="butt" /><path d="M1757.2,1208.6 L1762.2,1208.5 L1767.2,1208.5 L1772.2,1208.5 L1777.2,1208.4 L1782.2,1208.4 L1787.2,1208.4 L1792.1,1208.4 L1797.1,1208.3 L1802.1,1208.3 L1807.1,1208.3 L1812.1,1208.2 L1817.1,1208.2 L1822.1,1208.2 L1827.1,1208.1 L1832.1,1208.1 L1837.1,1208.1 L1842.0,1208.0 L1847.0,1208.0 L1852.0,1208.0 L1857.0,1208.0 L1862.0,1207.9 L1867.0,1207.9 L1872.0,1207.9 L1877.0,1207.8 L1882.0,1207.8 L1887.0,1207.8 L1891.9,1207.7 L1896.9,1207.7 L1901.9,1207.7 L1906.9,1207.6 L1911.9,1207.6 L1916.9,1207.6 L1921.9,1207.6 L1926.9,1207.5 L1931.9,1207.5 L1936.9,1207.5 L1941.8,1207.4 L1946.8,1207.4 L1951.8,1207.4 L1956.8,1207.3 L1961.8,1207.3 L1966.8,1207.3 L1971.8,1207.2 L1976.8,1207.2 L1981.8,1207.2 L1986.8,1207.2 L1991.7,1207.1 L1996.7,1207.1 L2001.7,1207.1 L2006.7,1207.0 L2011.7,1207.0 L2016.7,1207.0 L2021.7,1206.9 L2026.7,1206.9 L2031.7,1206.9 L2036.7,1206.9 L2041.6,1206.8 L2046.6,1206.8 L2051.6,1206.8 L2056.6,1206.7 L2061.6,1206.7 L2066.6,1206.7 L2071.6,1206.6 L2076.6,1206.6 L2081.6,1206.6 L2086.6,1206.5 L2091.5,1206.5 L2096.5,1206.5 L2101.5,1206.5 L2106.5,1206.4 L2111.5,1206.4 L2116.5,1206.4 L2121.5,1206.3 L2126.5,1206.3 L2131.5,1206.3 L2136.5,1206.2 L2141.4,1206.2 L2146.4,1206.2 L2151.4,1206.1 L2156.4,1206.1 L2161.4,1206.1 L2166.4,1206.1 L2171.4,1206.0 L2176.4,1206.0 L2181.4,1206.0 L2186.4,1205.9 L2191.3,1205.9 L2196.3,1205.9 L2201.3,1205.8 L2206.3,1205.8 L2211.3,1205.8 L2216.3,1205.7 L2221.3,1205.7 L2226.3,1205.7 L2231.3,1205.7 L2236.2,1205.6 L2241.2,1205.6 L2246.2,1205.6 L2251.2,1205.5 L2256.2,1205.5 L2256.2,1212.7 L2251.2,1212.7 L2246.2,1212.7 L2241.2,1212.7 L2236.2,1212.7 L2231.3,1212.7 L2226.3,1212.7 L2221.3,1212.7 L2216.3,1212.7 L2211.3,1212.7 L2206.3,1212.7 L2201.3,1212.7 L2196.3,1212.7 L2191.3,1212.7 L2186.4,1212.7 L2181.4,1212.7 L2176.4,1212.7 L2171.4,1212.7 L2166.4,1212.7 L2161.4,1212.7 L2156.4,1212.7 L2151.4,1212.7 L2146.4,1212.7 L2141.4,1212.7 L2136.5,1212.7 L2131.5,1212.7 L2126.5,1212.7 L2121.5,1212.7 L2116.5,1212.7 L2111.5,1212.7 L2106.5,1212.7 L2101.5,1212.7 L2096.5,1212.7 L2091.5,1212.7 L2086.6,1212.7 L2081.6,1212.7 L2076.6,1212.7 L2071.6,1212.7 L2066.6,1212.7 L2061.6,1212.6 L2056.6,1212.6 L2051.6,1212.6 L2046.6,1212.6 L2041.6,1212.6 L2036.7,1212.6 L2031.7,1212.6 L2026.7,1212.6 L2021.7,1212.6 L2016.7,1212.6 L2011.7,1212.6 L2006.7,1212.6 L2001.7,1212.6 L1996.7,1212.6 L1991.7,1212.6 L1986.8,1212.6 L1981.8,1212.6 L1976.8,1212.6 L1971.8,1212.6 L1966.8,1212.6 L1961.8,1212.6 L1956.8,1212.6 L1951.8,1212.6 L1946.8,1212.6 L1941.8,1212.6 L1936.9,1212.6 L1931.9,1212.6 L1926.9,1212.6 L1921.9,1212.6 L1916.9,1212.6 L1911.9,1212.6 L1906.9,1212.6 L1901.9,1212.6 L1896.9,1212.6 L1891.9,1212.6 L1887.0,1212.6 L1882.0,1212.6 L1877.0,1212.6 L1872.0,1212.6 L1867.0,1212.6 L1862.0,1212.6 L1857.0,1212.6 L1852.0,1212.6 L1847.0,1212.6 L1842.0,1212.6 L1837.1,1212.6 L1832.1,1212.6 L1827.1,1212.6 L1822.1,1212.6 L1817.1,1212.6 L1812.1,1212.6 L1807.1,1212.6 L1802.1,1212.6 L1797.1,1212.6 L1792.1,1212.6 L1787.2,1212.6 L1782.2,1212.6 L1777.2,1212.6 L1772.2,1212.6 L1767.2,1212.6 L1762.2,1212.6 L1757.2,1212.6 Z" fill="#3f88aa"/><path d="M1757.2,1210.6 L1762.2,1210.6 L1767.2,1210.5 L1772.2,1210.5 L1777.2,1210.5 L1782.2,1210.5 L1787.2,1210.5 L1792.1,1210.5 L1797.1,1210.4 L1802.1,1210.4 L1807.1,1210.4 L1812.1,1210.4 L1817.1,1210.4 L1822.1,1210.4 L1827.1,1210.4 L1832.1,1210.3 L1837.1,1210.3 L1842.0,1210.3 L1847.0,1210.3 L1852.0,1210.3 L1857.0,1210.3 L1862.0,1210.3 L1867.0,1210.2 L1872.0,1210.2 L1877.0,1210.2 L1882.0,1210.2 L1887.0,1210.2 L1891.9,1210.2 L1896.9,1210.2 L1901.9,1210.1 L1906.9,1210.1 L1911.9,1210.1 L1916.9,1210.1 L1921.9,1210.1 L1926.9,1210.1 L1931.9,1210.1 L1936.9,1210.0 L1941.8,1210.0 L1946.8,1210.0 L1951.8,1210.0 L1956.8,1210.0 L1961.8,1210.0 L1966.8,1210.0 L1971.8,1209.9 L1976.8,1209.9 L1981.8,1209.9 L1986.8,1209.9 L1991.7,1209.9 L1996.7,1209.9 L2001.7,1209.8 L2006.7,1209.8 L2011.7,1209.8 L2016.7,1209.8 L2021.7,1209.8 L2026.7,1209.8 L2031.7,1209.8 L2036.7,1209.7 L2041.6,1209.7 L2046.6,1209.7 L2051.6,1209.7 L2056.6,1209.7 L2061.6,1209.7 L2066.6,1209.7 L2071.6,1209.6 L2076.6,1209.6 L2081.6,1209.6 L2086.6,1209.6 L2091.5,1209.6 L2096.5,1209.6 L2101.5,1209.6 L2106.5,1209.5 L2111.5,1209.5 L2116.5,1209.5 L2121.5,1209.5 L2126.5,1209.5 L2131.5,1209.5 L2136.5,1209.5 L2141.4,1209.4 L2146.4,1209.4 L2151.4,1209.4 L2156.4,1209.4 L2161.4,1209.4 L2166.4,1209.4 L2171.4,1209.4 L2176.4,1209.3 L2181.4,1209.3 L2186.4,1209.3 L2191.3,1209.3 L2196.3,1209.3 L2201.3,1209.3 L2206.3,1209.2 L2211.3,1209.2 L2216.3,1209.2 L2221.3,1209.2 L2226.3,1209.2 L2231.3,1209.2 L2236.2,1209.2 L2241.2,1209.1 L2246.2,1209.1 L2251.2,1209.1 L2256.2,1209.1" fill="none" stroke="#d9569b" stroke-width="4.2" stroke-linejoin="bevel" stroke-linecap="butt" /><path d="M1757.2,1455.2 L1762.2,1463.9 L1767.2,1467.8 L1772.2,1473.2 L1777.2,1469.8 L1782.2,1471.9 L1787.2,1466.6 L1792.1,1471.0 L1797.1,1473.4 L1802.1,1468.5 L1807.1,1466.8 L1812.1,1467.3 L1817.1,1468.6 L1822.1,1472.4 L1827.1,1472.8 L1832.1,1469.7 L1837.1,1468.2 L1842.0,1472.7 L1847.0,1471.6 L1852.0,1471.8 L1857.0,1466.2 L1862.0,1471.3 L1867.0,1470.1 L1872.0,1472.7 L1877.0,1472.2 L1882.0,1473.2 L1887.0,1471.3 L1891.9,1467.6 L1896.9,1471.2 L1901.9,1468.0 L1906.9,1472.8 L1911.9,1467.9 L1916.9,1473.1 L1921.9,1467.2 L1926.9,1468.6 L1931.9,1472.2 L1936.9,1470.8 L1941.8,1470.2 L1946.8,1468.9 L1951.8,1467.0 L1956.8,1472.8 L1961.8,1467.5 L1966.8,1472.1 L1971.8,1470.5 L1976.8,1466.4 L1981.8,1471.5 L1986.8,1470.6 L1991.7,1467.2 L1996.7,1467.6 L2001.7,1468.7 L2006.7,1467.6 L2011.7,1472.6 L2016.7,1468.4 L2021.7,1473.0 L2026.7,1466.6 L2031.7,1472.3 L2036.7,1470.4 L2041.6,1469.1 L2046.6,1467.6 L2051.6,1468.5 L2056.6,1472.1 L2061.6,1470.7 L2066.6,1470.8 L2071.6,1473.2 L2076.6,1468.4 L2081.6,1467.3 L2086.6,1466.3 L2091.5,1472.5 L2096.5,1466.7 L2101.5,1472.6 L2106.5,1470.4 L2111.5,1473.1 L2116.5,1471.5 L2121.5,1471.2 L2126.5,1468.3 L2131.5,1468.5 L2136.5,1467.8 L2141.4,1469.2 L2146.4,1469.3 L2151.4,1466.3 L2156.4,1468.5 L2161.4,1471.0 L2166.4,1469.6 L2171.4,1468.3 L2176.4,1472.8 L2181.4,1468.6 L2186.4,1471.6 L2191.3,1470.9 L2196.3,1468.5 L2201.3,1470.6 L2206.3,1467.3 L2211.3,1469.4 L2216.3,1466.2 L2221.3,1473.1 L2226.3,1468.7 L2231.3,1472.3 L2236.2,1467.2 L2241.2,1467.2 L2246.2,1467.1 L2251.2,1472.9 L2256.2,1469.9" fill="none" stroke="#5f9a3a" stroke-width="4.5" stroke-linejoin="bevel" stroke-linecap="butt" /><path d="M1757.2,1509.6 L1762.2,1508.8 L1767.2,1509.8 L1772.2,1509.6 L1777.2,1509.2 L1782.2,1509.4 L1787.2,1509.6 L1792.1,1509.4 L1797.1,1509.0 L1802.1,1509.4 L1807.1,1508.9 L1812.1,1509.4 L1817.1,1509.8 L1822.1,1509.3 L1827.1,1509.1 L1832.1,1509.8 L1837.1,1509.4 L1842.0,1509.3 L1847.0,1509.9 L1852.0,1509.8 L1857.0,1509.2 L1862.0,1509.2 L1867.0,1509.5 L1872.0,1509.3 L1877.0,1509.7 L1882.0,1509.1 L1887.0,1508.8 L1891.9,1509.5 L1896.9,1509.8 L1901.9,1509.6 L1906.9,1509.4 L1911.9,1509.2 L1916.9,1509.2 L1921.9,1509.4 L1926.9,1509.1 L1931.9,1509.1 L1936.9,1509.8 L1941.8,1509.0 L1946.8,1509.6 L1951.8,1509.5 L1956.8,1508.9 L1961.8,1508.8 L1966.8,1509.6 L1971.8,1509.3 L1976.8,1509.1 L1981.8,1509.9 L1986.8,1509.7 L1991.7,1509.7 L1996.7,1509.1 L2001.7,1509.1 L2006.7,1509.8 L2011.7,1509.2 L2016.7,1509.7 L2021.7,1508.8 L2026.7,1509.4 L2031.7,1509.4 L2036.7,1509.0 L2041.6,1509.1 L2046.6,1509.8 L2051.6,1509.4 L2056.6,1508.8 L2061.6,1508.9 L2066.6,1509.2 L2071.6,1509.0 L2076.6,1509.4 L2081.6,1509.1 L2086.6,1508.8 L2091.5,1509.7 L2096.5,1509.3 L2101.5,1509.3 L2106.5,1509.8 L2111.5,1508.8 L2116.5,1508.9 L2121.5,1509.3 L2126.5,1509.3 L2131.5,1508.8 L2136.5,1509.7 L2141.4,1509.2 L2146.4,1509.1 L2151.4,1509.8 L2156.4,1509.5 L2161.4,1509.2 L2166.4,1508.9 L2171.4,1509.3 L2176.4,1509.5 L2181.4,1508.8 L2186.4,1508.8 L2191.3,1509.0 L2196.3,1509.6 L2201.3,1508.8 L2206.3,1508.8 L2211.3,1509.4 L2216.3,1509.7 L2221.3,1509.4 L2226.3,1509.1 L2231.3,1509.0 L2236.2,1509.6 L2241.2,1509.1 L2246.2,1508.9 L2251.2,1509.1 L2256.2,1508.8" fill="none" stroke="#2e5fe0" stroke-width="4.8" stroke-linejoin="bevel" stroke-linecap="butt" /><path d="M1757.2,1591.3 L1762.2,1592.8 L1767.2,1591.4 L1772.2,1592.5 L1777.2,1592.3 L1782.2,1591.2 L1787.2,1590.1 L1792.1,1591.3 L1797.1,1590.2 L1802.1,1591.8 L1807.1,1591.1 L1812.1,1592.4 L1817.1,1593.1 L1822.1,1592.3 L1827.1,1591.9 L1832.1,1591.6 L1837.1,1591.2 L1842.0,1592.1 L1847.0,1590.9 L1852.0,1590.6 L1857.0,1592.5 L1862.0,1590.6 L1867.0,1590.7 L1872.0,1591.7 L1877.0,1593.4 L1882.0,1593.0 L1887.0,1591.2 L1891.9,1592.8 L1896.9,1590.9 L1901.9,1593.0 L1906.9,1592.5 L1911.9,1592.6 L1916.9,1590.6 L1921.9,1591.1 L1926.9,1592.5 L1931.9,1590.9 L1936.9,1593.4 L1941.8,1590.7 L1946.8,1593.1 L1951.8,1590.5 L1956.8,1591.0 L1961.8,1590.5 L1966.8,1591.0 L1971.8,1591.6 L1976.8,1592.7 L1981.8,1590.8 L1986.8,1590.8 L1991.7,1592.5 L1996.7,1591.2 L2001.7,1590.3 L2006.7,1592.2 L2011.7,1590.2 L2016.7,1590.2 L2021.7,1592.4 L2026.7,1591.6 L2031.7,1593.5 L2036.7,1592.6 L2041.6,1591.4 L2046.6,1590.8 L2051.6,1590.5 L2056.6,1590.7 L2061.6,1590.4 L2066.6,1591.1 L2071.6,1591.3 L2076.6,1590.9 L2081.6,1591.6 L2086.6,1591.4 L2091.5,1590.8 L2096.5,1590.2 L2101.5,1592.5 L2106.5,1592.9 L2111.5,1591.2 L2116.5,1592.9 L2121.5,1592.9 L2126.5,1591.7 L2131.5,1592.2 L2136.5,1592.0 L2141.4,1591.6 L2146.4,1593.1 L2151.4,1591.5 L2156.4,1592.6 L2161.4,1592.4 L2166.4,1591.1 L2171.4,1593.0 L2176.4,1593.0 L2181.4,1592.4 L2186.4,1593.3 L2191.3,1590.3 L2196.3,1591.4 L2201.3,1591.2 L2206.3,1591.8 L2211.3,1591.5 L2216.3,1592.3 L2221.3,1590.8 L2226.3,1592.4 L2231.3,1592.7 L2236.2,1592.9 L2241.2,1593.3 L2246.2,1591.8 L2251.2,1592.1 L2256.2,1591.7" fill="none" stroke="#ececf4" stroke-width="4.5" stroke-linejoin="bevel" stroke-linecap="butt" /><path d="M1757.2,1622.0 L1762.2,1621.8 L1767.2,1621.8 L1772.2,1621.7 L1777.2,1621.7 L1782.2,1621.8 L1787.2,1621.3 L1792.1,1621.5 L1797.1,1621.1 L1802.1,1621.2 L1807.1,1621.1 L1812.1,1622.0 L1817.1,1621.4 L1822.1,1621.6 L1827.1,1621.2 L1832.1,1621.4 L1837.1,1621.4 L1842.0,1621.1 L1847.0,1621.4 L1852.0,1621.7 L1857.0,1621.2 L1862.0,1621.1 L1867.0,1621.7 L1872.0,1621.5 L1877.0,1621.8 L1882.0,1621.2 L1887.0,1621.2 L1891.9,1621.7 L1896.9,1621.3 L1901.9,1621.6 L1906.9,1622.0 L1911.9,1621.2 L1916.9,1621.9 L1921.9,1621.5 L1926.9,1621.1 L1931.9,1621.9 L1936.9,1621.1 L1941.8,1621.5 L1946.8,1622.0 L1951.8,1622.0 L1956.8,1621.4 L1961.8,1621.3 L1966.8,1621.2 L1971.8,1621.6 L1976.8,1621.9 L1981.8,1621.5 L1986.8,1621.4 L1991.7,1621.1 L1996.7,1621.3 L2001.7,1621.4 L2006.7,1621.1 L2011.7,1621.3 L2016.7,1621.9 L2021.7,1621.6 L2026.7,1621.7 L2031.7,1622.0 L2036.7,1622.0 L2041.6,1621.3 L2046.6,1621.5 L2051.6,1621.5 L2056.6,1621.8 L2061.6,1621.8 L2066.6,1621.7 L2071.6,1621.4 L2076.6,1621.6 L2081.6,1622.0 L2086.6,1621.4 L2091.5,1621.5 L2096.5,1621.4 L2101.5,1621.4 L2106.5,1621.3 L2111.5,1621.5 L2116.5,1621.4 L2121.5,1622.0 L2126.5,1621.1 L2131.5,1621.9 L2136.5,1621.3 L2141.4,1621.8 L2146.4,1622.0 L2151.4,1621.3 L2156.4,1621.6 L2161.4,1621.7 L2166.4,1621.4 L2171.4,1621.6 L2176.4,1621.5 L2181.4,1621.9 L2186.4,1621.7 L2191.3,1621.3 L2196.3,1621.5 L2201.3,1621.1 L2206.3,1621.9 L2211.3,1621.4 L2216.3,1621.2 L2221.3,1621.3 L2226.3,1621.3 L2231.3,1621.7 L2236.2,1621.1 L2241.2,1621.5 L2246.2,1621.5 L2251.2,1621.9 L2256.2,1622.0" fill="none" stroke="#85869a" stroke-width="3.5" stroke-linejoin="bevel" stroke-linecap="butt" /><path d="M1757.2,1624.4 L1762.2,1624.5 L1767.2,1624.1 L1772.2,1624.6 L1777.2,1624.3 L1782.2,1624.2 L1787.2,1624.6 L1792.1,1624.6 L1797.1,1624.4 L1802.1,1624.5 L1807.1,1624.8 L1812.1,1624.7 L1817.1,1624.2 L1822.1,1624.7 L1827.1,1624.7 L1832.1,1624.3 L1837.1,1624.2 L1842.0,1624.2 L1847.0,1624.2 L1852.0,1624.1 L1857.0,1624.5 L1862.0,1624.4 L1867.0,1624.7 L1872.0,1624.8 L1877.0,1624.8 L1882.0,1624.3 L1887.0,1624.5 L1891.9,1624.6 L1896.9,1624.8 L1901.9,1624.4 L1906.9,1624.8 L1911.9,1624.4 L1916.9,1624.2 L1921.9,1624.6 L1926.9,1624.5 L1931.9,1624.4 L1936.9,1624.6 L1941.8,1624.4 L1946.8,1624.4 L1951.8,1624.6 L1956.8,1624.6 L1961.8,1624.5 L1966.8,1624.9 L1971.8,1624.7 L1976.8,1624.7 L1981.8,1624.3 L1986.8,1624.5 L1991.7,1624.2 L1996.7,1624.8 L2001.7,1624.3 L2006.7,1624.2 L2011.7,1624.5 L2016.7,1624.6 L2021.7,1624.6 L2026.7,1624.4 L2031.7,1624.7 L2036.7,1624.4 L2041.6,1624.2 L2046.6,1624.2 L2051.6,1624.8 L2056.6,1624.5 L2061.6,1624.7 L2066.6,1624.2 L2071.6,1624.8 L2076.6,1624.8 L2081.6,1624.9 L2086.6,1624.5 L2091.5,1624.9 L2096.5,1624.4 L2101.5,1624.6 L2106.5,1624.4 L2111.5,1624.2 L2116.5,1624.4 L2121.5,1624.5 L2126.5,1624.1 L2131.5,1624.5 L2136.5,1624.3 L2141.4,1624.6 L2146.4,1624.7 L2151.4,1624.3 L2156.4,1624.3 L2161.4,1624.7 L2166.4,1624.5 L2171.4,1624.5 L2176.4,1624.6 L2181.4,1624.5 L2186.4,1624.4 L2191.3,1624.2 L2196.3,1624.2 L2201.3,1624.4 L2206.3,1624.7 L2211.3,1624.5 L2216.3,1624.5 L2221.3,1624.7 L2226.3,1624.1 L2231.3,1624.4 L2236.2,1624.1 L2241.2,1624.3 L2246.2,1624.5 L2251.2,1624.6 L2256.2,1624.7" fill="none" stroke="#9678d8" stroke-width="3.5" stroke-linejoin="bevel" stroke-linecap="butt" /><path d="M1757.2,1632.8 L1762.2,1628.4 L1767.2,1629.0 L1772.2,1628.6 L1777.2,1629.1 L1782.2,1628.8 L1787.2,1627.8 L1792.1,1628.6 L1797.1,1628.4 L1802.1,1628.5 L1807.1,1629.1 L1812.1,1627.7 L1817.1,1628.6 L1822.1,1628.1 L1827.1,1628.4 L1832.1,1627.9 L1837.1,1627.9 L1842.0,1628.7 L1847.0,1628.3 L1852.0,1628.9 L1857.0,1628.2 L1862.0,1628.6 L1867.0,1628.2 L1872.0,1627.9 L1877.0,1628.4 L1882.0,1628.6 L1887.0,1627.8 L1891.9,1628.4 L1896.9,1628.6 L1901.9,1627.9 L1906.9,1628.4 L1911.9,1628.4 L1916.9,1628.2 L1921.9,1628.4 L1926.9,1628.9 L1931.9,1628.9 L1936.9,1629.0 L1941.8,1628.2 L1946.8,1628.8 L1951.8,1628.9 L1956.8,1628.6 L1961.8,1628.1 L1966.8,1629.0 L1971.8,1628.8 L1976.8,1627.9 L1981.8,1628.1 L1986.8,1628.4 L1991.7,1628.4 L1996.7,1628.8 L2001.7,1628.9 L2006.7,1627.9 L2011.7,1629.1 L2016.7,1629.1 L2021.7,1628.3 L2026.7,1628.9 L2031.7,1628.2 L2036.7,1629.1 L2041.6,1628.3 L2046.6,1629.0 L2051.6,1628.7 L2056.6,1628.9 L2061.6,1627.7 L2066.6,1628.2 L2071.6,1628.3 L2076.6,1629.1 L2081.6,1628.1 L2086.6,1628.2 L2091.5,1628.7 L2096.5,1629.0 L2101.5,1628.5 L2106.5,1627.7 L2111.5,1627.9 L2116.5,1628.9 L2121.5,1627.9 L2126.5,1628.2 L2131.5,1628.0 L2136.5,1627.9 L2141.4,1628.9 L2146.4,1628.2 L2151.4,1628.7 L2156.4,1628.1 L2161.4,1628.6 L2166.4,1628.5 L2171.4,1628.3 L2176.4,1628.8 L2181.4,1628.6 L2186.4,1629.0 L2191.3,1628.8 L2196.3,1627.9 L2201.3,1628.4 L2206.3,1628.5 L2211.3,1628.9 L2216.3,1629.0 L2221.3,1628.4 L2226.3,1628.2 L2231.3,1629.1 L2236.2,1628.0 L2241.2,1628.4 L2246.2,1629.0 L2251.2,1628.4 L2256.2,1628.9" fill="none" stroke="#c9962a" stroke-width="4.5" stroke-linejoin="bevel" stroke-linecap="butt" /><path d="M1762.2,1650.1 L1767.2,1644.2 L1772.2,1650.0 L1777.2,1650.0 L1782.2,1644.2 L1787.2,1650.0 L1792.1,1650.0 L1797.1,1644.1 L1802.1,1649.9 L1807.1,1649.9 L1812.1,1644.0 L1817.1,1649.9 L1822.1,1649.9 L1827.1,1644.0 L1832.1,1649.8 L1837.1,1649.8 L1842.0,1643.9 L1847.0,1649.8 L1852.0,1649.7 L1857.0,1643.9 L1862.0,1649.7 L1867.0,1649.7 L1872.0,1643.8 L1877.0,1649.6 L1882.0,1649.6 L1887.0,1643.7 L1891.9,1649.6 L1896.9,1649.6 L1901.9,1643.7 L1906.9,1649.5 L1911.9,1649.5 L1916.9,1643.6 L1921.9,1649.5 L1926.9,1649.4 L1931.9,1643.6 L1936.9,1649.4 L1941.8,1649.4 L1946.8,1643.5 L1951.8,1649.3 L1956.8,1649.3 L1961.8,1643.5 L1966.8,1649.3 L1971.8,1649.3 L1976.8,1643.4 L1981.8,1649.2 L1986.8,1649.2 L1991.7,1643.3 L1996.7,1649.2 L2001.7,1649.2 L2006.7,1643.3 L2011.7,1649.1 L2016.7,1649.1 L2021.7,1643.2 L2026.7,1649.1 L2031.7,1649.0 L2036.7,1643.2 L2041.6,1649.0 L2046.6,1649.0 L2051.6,1643.1 L2056.6,1648.9 L2061.6,1648.9 L2066.6,1643.0 L2071.6,1648.9 L2076.6,1648.9 L2081.6,1643.0 L2086.6,1648.8 L2091.5,1648.8 L2096.5,1642.9 L2101.5,1648.8 L2106.5,1648.7 L2111.5,1642.9 L2116.5,1648.7 L2121.5,1648.7 L2126.5,1642.8 L2131.5,1648.6 L2136.5,1648.6 L2141.4,1642.7 L2146.4,1648.6 L2151.4,1648.6 L2156.4,1642.7 L2161.4,1648.5 L2166.4,1648.5 L2171.4,1642.6 L2176.4,1648.5 L2181.4,1648.4 L2186.4,1642.6 L2191.3,1648.4 L2196.3,1648.4 L2201.3,1642.5 L2206.3,1648.4 L2211.3,1648.3 L2216.3,1642.5 L2221.3,1648.3 L2226.3,1648.3 L2231.3,1642.4 L2236.2,1648.2 L2241.2,1648.2 L2246.2,1642.3 L2251.2,1648.2 L2256.2,1648.2" fill="none" stroke="#6fd0b8" stroke-width="3.8" stroke-linejoin="bevel" stroke-linecap="butt" /><path d="M1756.7,1656.7 L1762.2,1656.7 L1767.2,1656.6 L1772.2,1656.6 L1777.2,1656.6 L1782.2,1656.7 L1787.2,1656.7 L1792.1,1656.7 L1797.1,1656.8 L1802.1,1656.7 L1807.1,1656.8 L1812.1,1656.6 L1817.1,1656.6 L1822.1,1656.7 L1827.1,1656.7 L1832.1,1656.6 L1837.1,1656.6 L1842.0,1656.6 L1847.0,1656.8 L1852.0,1656.8 L1857.0,1656.7 L1862.0,1656.8 L1867.0,1656.6 L1872.0,1656.8 L1877.0,1656.6 L1882.0,1656.7 L1887.0,1656.8 L1891.9,1656.6 L1896.9,1656.6 L1901.9,1656.7 L1906.9,1656.8 L1911.9,1656.8 L1916.9,1656.7 L1921.9,1656.6 L1926.9,1656.7 L1931.9,1656.7 L1936.9,1656.8 L1941.8,1656.7 L1946.8,1656.8 L1951.8,1656.6 L1956.8,1656.7 L1961.8,1656.7 L1966.8,1656.8 L1971.8,1656.6 L1976.8,1656.6 L1981.8,1656.7 L1986.8,1656.6 L1991.7,1656.7 L1996.7,1656.7 L2001.7,1656.7 L2006.7,1656.8 L2011.7,1656.8 L2016.7,1656.7 L2021.7,1656.6 L2026.7,1656.6 L2031.7,1656.6 L2036.7,1656.6 L2041.6,1656.6 L2046.6,1656.7 L2051.6,1656.6 L2056.6,1656.8 L2061.6,1656.8 L2066.6,1656.7 L2071.6,1656.7 L2076.6,1656.7 L2081.6,1656.6 L2086.6,1656.6 L2091.5,1656.8 L2096.5,1656.6 L2101.5,1656.8 L2106.5,1656.8 L2111.5,1656.8 L2116.5,1656.6 L2121.5,1656.7 L2126.5,1656.8 L2131.5,1656.8 L2136.5,1656.8 L2141.4,1656.8 L2146.4,1656.7 L2151.4,1656.6 L2156.4,1656.7 L2161.4,1656.7 L2166.4,1656.6 L2171.4,1656.7 L2176.4,1656.6 L2181.4,1656.6 L2186.4,1656.7 L2191.3,1656.7 L2196.3,1656.8 L2201.3,1656.7 L2206.3,1656.6 L2211.3,1656.8 L2216.3,1656.8 L2221.3,1656.7 L2226.3,1656.7 L2231.3,1656.8 L2236.2,1656.8 L2241.2,1656.8 L2246.2,1656.8 L2251.2,1656.8 L2256.2,1656.8" fill="none" stroke="#8ecbea" stroke-width="4.5" stroke-linejoin="bevel" stroke-linecap="butt" /><path d="M1756.7,1660.6 L1762.2,1660.5 L1767.2,1660.5 L1772.2,1660.6 L1777.2,1660.6 L1782.2,1660.6 L1787.2,1660.6 L1792.1,1660.5 L1797.1,1660.7 L1802.1,1660.7 L1807.1,1660.7 L1812.1,1660.5 L1817.1,1660.5 L1822.1,1660.6 L1827.1,1660.5 L1832.1,1660.7 L1837.1,1660.6 L1842.0,1660.7 L1847.0,1660.5 L1852.0,1660.6 L1857.0,1660.7 L1862.0,1660.6 L1867.0,1660.7 L1872.0,1660.7 L1877.0,1660.7 L1882.0,1660.5 L1887.0,1660.5 L1891.9,1660.5 L1896.9,1660.5 L1901.9,1660.5 L1906.9,1660.6 L1911.9,1660.5 L1916.9,1660.5 L1921.9,1660.6 L1926.9,1660.5 L1931.9,1660.5 L1936.9,1660.5 L1941.8,1660.6 L1946.8,1660.6 L1951.8,1660.6 L1956.8,1660.7 L1961.8,1660.7 L1966.8,1660.7 L1971.8,1660.6 L1976.8,1660.5 L1981.8,1660.5 L1986.8,1660.7 L1991.7,1660.7 L1996.7,1660.5 L2001.7,1660.6 L2006.7,1660.7 L2011.7,1660.5 L2016.7,1660.7 L2021.7,1660.7 L2026.7,1660.5 L2031.7,1660.5 L2036.7,1660.7 L2041.6,1660.5 L2046.6,1660.6 L2051.6,1660.6 L2056.6,1660.5 L2061.6,1660.7 L2066.6,1660.5 L2071.6,1660.5 L2076.6,1660.5 L2081.6,1660.6 L2086.6,1660.7 L2091.5,1660.5 L2096.5,1660.5 L2101.5,1660.7 L2106.5,1660.7 L2111.5,1660.7 L2116.5,1660.6 L2121.5,1660.7 L2126.5,1660.7 L2131.5,1660.5 L2136.5,1660.5 L2141.4,1660.6 L2146.4,1660.6 L2151.4,1660.5 L2156.4,1660.6 L2161.4,1660.7 L2166.4,1660.6 L2171.4,1660.6 L2176.4,1660.6 L2181.4,1660.5 L2186.4,1660.5 L2191.3,1660.5 L2196.3,1660.6 L2201.3,1660.5 L2206.3,1660.5 L2211.3,1660.7 L2216.3,1660.7 L2221.3,1660.6 L2226.3,1660.7 L2231.3,1660.5 L2236.2,1660.6 L2241.2,1660.6 L2246.2,1660.6 L2251.2,1660.6 L2256.2,1660.5" fill="none" stroke="#6a2a8a" stroke-width="4.5" stroke-linejoin="bevel" stroke-linecap="butt" /><path d="M1756.7,1664.0 L1762.2,1664.4 L1767.2,1663.5 L1772.2,1663.8 L1777.2,1664.1 L1782.2,1663.8 L1787.2,1664.6 L1792.1,1664.4 L1797.1,1663.9 L1802.1,1664.2 L1807.1,1663.9 L1812.1,1664.3 L1817.1,1664.0 L1822.1,1664.3 L1827.1,1664.0 L1832.1,1663.9 L1837.1,1664.2 L1842.0,1664.0 L1847.0,1664.4 L1852.0,1663.8 L1857.0,1664.2 L1862.0,1663.6 L1867.0,1664.3 L1872.0,1664.4 L1877.0,1664.4 L1882.0,1663.9 L1887.0,1664.3 L1891.9,1664.5 L1896.9,1664.3 L1901.9,1664.3 L1906.9,1664.1 L1911.9,1664.2 L1916.9,1664.4 L1921.9,1663.5 L1926.9,1664.4 L1931.9,1663.7 L1936.9,1664.4 L1941.8,1664.0 L1946.8,1663.4 L1951.8,1663.6 L1956.8,1664.0 L1961.8,1663.8 L1966.8,1663.7 L1971.8,1664.3 L1976.8,1663.9 L1981.8,1663.9 L1986.8,1664.1 L1991.7,1663.8 L1996.7,1664.5 L2001.7,1663.6 L2006.7,1664.0 L2011.7,1663.9 L2016.7,1664.1 L2021.7,1664.2 L2026.7,1664.2 L2031.7,1663.9 L2036.7,1663.5 L2041.6,1664.3 L2046.6,1664.6 L2051.6,1664.5 L2056.6,1663.6 L2061.6,1663.5 L2066.6,1664.4 L2071.6,1663.9 L2076.6,1663.8 L2081.6,1664.4 L2086.6,1663.7 L2091.5,1664.2 L2096.5,1663.8 L2101.5,1664.0 L2106.5,1663.7 L2111.5,1663.6 L2116.5,1664.2 L2121.5,1664.3 L2126.5,1663.9 L2131.5,1664.4 L2136.5,1664.4 L2141.4,1663.7 L2146.4,1664.2 L2151.4,1663.9 L2156.4,1663.9 L2161.4,1663.6 L2166.4,1664.5 L2171.4,1664.4 L2176.4,1664.3 L2181.4,1664.2 L2186.4,1664.3 L2191.3,1664.3 L2196.3,1663.8 L2201.3,1664.3 L2206.3,1664.1 L2211.3,1663.6 L2216.3,1664.2 L2221.3,1663.9 L2226.3,1663.5 L2231.3,1664.1 L2236.2,1664.4 L2241.2,1664.6 L2246.2,1663.7 L2251.2,1663.8 L2256.2,1663.5" fill="none" stroke="#85869a" stroke-width="4" stroke-linejoin="bevel" stroke-linecap="butt" /><path d="M1756.7,1667.9 L1762.2,1667.9 L1767.2,1668.0 L1772.2,1668.0 L1777.2,1668.0 L1782.2,1668.0 L1787.2,1667.8 L1792.1,1667.9 L1797.1,1668.1 L1802.1,1668.0 L1807.1,1667.8 L1812.1,1668.0 L1817.1,1668.0 L1822.1,1668.0 L1827.1,1667.9 L1832.1,1667.8 L1837.1,1668.0 L1842.0,1668.0 L1847.0,1668.0 L1852.0,1667.9 L1857.0,1668.0 L1862.0,1667.8 L1867.0,1668.1 L1872.0,1667.9 L1877.0,1667.8 L1882.0,1668.0 L1887.0,1667.9 L1891.9,1667.8 L1896.9,1667.9 L1901.9,1668.0 L1906.9,1667.9 L1911.9,1667.8 L1916.9,1667.9 L1921.9,1668.0 L1926.9,1667.9 L1931.9,1667.9 L1936.9,1667.9 L1941.8,1667.9 L1946.8,1667.9 L1951.8,1667.9 L1956.8,1668.0 L1961.8,1668.0 L1966.8,1667.9 L1971.8,1667.8 L1976.8,1667.9 L1981.8,1668.0 L1986.8,1668.0 L1991.7,1668.0 L1996.7,1668.1 L2001.7,1667.8 L2006.7,1667.8 L2011.7,1668.0 L2016.7,1667.9 L2021.7,1668.1 L2026.7,1667.8 L2031.7,1667.8 L2036.7,1667.9 L2041.6,1668.1 L2046.6,1667.9 L2051.6,1668.0 L2056.6,1668.0 L2061.6,1668.1 L2066.6,1668.0 L2071.6,1667.9 L2076.6,1667.9 L2081.6,1668.0 L2086.6,1668.0 L2091.5,1667.9 L2096.5,1668.0 L2101.5,1668.0 L2106.5,1668.0 L2111.5,1667.9 L2116.5,1668.0 L2121.5,1667.8 L2126.5,1667.8 L2131.5,1667.8 L2136.5,1667.9 L2141.4,1668.0 L2146.4,1667.8 L2151.4,1667.8 L2156.4,1667.9 L2161.4,1667.8 L2166.4,1668.0 L2171.4,1668.0 L2176.4,1667.9 L2181.4,1667.9 L2186.4,1668.0 L2191.3,1667.9 L2196.3,1668.0 L2201.3,1668.1 L2206.3,1668.1 L2211.3,1667.9 L2216.3,1668.0 L2221.3,1668.0 L2226.3,1668.0 L2231.3,1667.9 L2236.2,1667.9 L2241.2,1668.0 L2246.2,1668.0 L2251.2,1667.9 L2256.2,1668.0" fill="none" stroke="#8040c0" stroke-width="3.5" stroke-linejoin="bevel" stroke-linecap="butt" /><path d="M1756.7,1671.1 L1762.2,1671.1 L1767.2,1671.0 L1772.2,1670.9 L1777.2,1671.1 L1782.2,1671.0 L1787.2,1671.1 L1792.1,1671.0 L1797.1,1671.0 L1802.1,1671.2 L1807.1,1671.0 L1812.1,1671.2 L1817.1,1671.1 L1822.1,1671.2 L1827.1,1671.0 L1832.1,1671.0 L1837.1,1671.0 L1842.0,1671.2 L1847.0,1671.0 L1852.0,1671.2 L1857.0,1671.0 L1862.0,1671.1 L1867.0,1671.0 L1872.0,1671.2 L1877.0,1671.1 L1882.0,1671.0 L1887.0,1671.1 L1891.9,1671.0 L1896.9,1671.1 L1901.9,1671.0 L1906.9,1671.1 L1911.9,1671.1 L1916.9,1671.1 L1921.9,1671.2 L1926.9,1671.0 L1931.9,1671.1 L1936.9,1671.2 L1941.8,1671.1 L1946.8,1671.2 L1951.8,1671.0 L1956.8,1671.0 L1961.8,1671.2 L1966.8,1671.2 L1971.8,1671.1 L1976.8,1671.1 L1981.8,1671.2 L1986.8,1671.2 L1991.7,1671.2 L1996.7,1671.0 L2001.7,1671.2 L2006.7,1671.2 L2011.7,1671.0 L2016.7,1671.1 L2021.7,1671.1 L2026.7,1671.1 L2031.7,1671.2 L2036.7,1671.2 L2041.6,1671.2 L2046.6,1671.1 L2051.6,1671.0 L2056.6,1670.9 L2061.6,1671.1 L2066.6,1671.2 L2071.6,1671.0 L2076.6,1671.0 L2081.6,1671.0 L2086.6,1671.2 L2091.5,1671.2 L2096.5,1671.0 L2101.5,1671.0 L2106.5,1671.0 L2111.5,1671.0 L2116.5,1671.1 L2121.5,1671.2 L2126.5,1671.0 L2131.5,1671.1 L2136.5,1671.2 L2141.4,1671.0 L2146.4,1671.1 L2151.4,1671.1 L2156.4,1671.2 L2161.4,1671.0 L2166.4,1671.2 L2171.4,1671.2 L2176.4,1671.1 L2181.4,1671.0 L2186.4,1671.2 L2191.3,1671.0 L2196.3,1671.0 L2201.3,1671.1 L2206.3,1671.2 L2211.3,1671.2 L2216.3,1671.2 L2221.3,1671.2 L2226.3,1671.1 L2231.3,1671.2 L2236.2,1671.1 L2241.2,1671.1 L2246.2,1671.2 L2251.2,1671.2 L2256.2,1671.0" fill="none" stroke="#3a9ab8" stroke-width="4" stroke-linejoin="bevel" stroke-linecap="butt" /><path d="M1756.7,1674.5 L1762.2,1674.4 L1767.2,1674.6 L1772.2,1674.4 L1777.2,1674.5 L1782.2,1674.5 L1787.2,1674.5 L1792.1,1674.5 L1797.1,1674.5 L1802.1,1674.5 L1807.1,1674.5 L1812.1,1674.6 L1817.1,1674.5 L1822.1,1674.6 L1827.1,1674.5 L1832.1,1674.6 L1837.1,1674.4 L1842.0,1674.6 L1847.0,1674.4 L1852.0,1674.6 L1857.0,1674.5 L1862.0,1674.6 L1867.0,1674.5 L1872.0,1674.4 L1877.0,1674.5 L1882.0,1674.5 L1887.0,1674.4 L1891.9,1674.6 L1896.9,1674.5 L1901.9,1674.5 L1906.9,1674.6 L1911.9,1674.4 L1916.9,1674.6 L1921.9,1674.5 L1926.9,1674.4 L1931.9,1674.6 L1936.9,1674.4 L1941.8,1674.6 L1946.8,1674.5 L1951.8,1674.4 L1956.8,1674.5 L1961.8,1674.5 L1966.8,1674.4 L1971.8,1674.4 L1976.8,1674.6 L1981.8,1674.6 L1986.8,1674.6 L1991.7,1674.6 L1996.7,1674.4 L2001.7,1674.4 L2006.7,1674.6 L2011.7,1674.4 L2016.7,1674.5 L2021.7,1674.6 L2026.7,1674.5 L2031.7,1674.6 L2036.7,1674.5 L2041.6,1674.6 L2046.6,1674.4 L2051.6,1674.5 L2056.6,1674.6 L2061.6,1674.5 L2066.6,1674.5 L2071.6,1674.5 L2076.6,1674.5 L2081.6,1674.4 L2086.6,1674.6 L2091.5,1674.6 L2096.5,1674.5 L2101.5,1674.6 L2106.5,1674.6 L2111.5,1674.4 L2116.5,1674.5 L2121.5,1674.6 L2126.5,1674.6 L2131.5,1674.4 L2136.5,1674.6 L2141.4,1674.5 L2146.4,1674.4 L2151.4,1674.5 L2156.4,1674.4 L2161.4,1674.5 L2166.4,1674.5 L2171.4,1674.6 L2176.4,1674.4 L2181.4,1674.4 L2186.4,1674.6 L2191.3,1674.4 L2196.3,1674.5 L2201.3,1674.5 L2206.3,1674.4 L2211.3,1674.4 L2216.3,1674.5 L2221.3,1674.5 L2226.3,1674.4 L2231.3,1674.6 L2236.2,1674.6 L2241.2,1674.6 L2246.2,1674.4 L2251.2,1674.6 L2256.2,1674.4" fill="none" stroke="#dc4049" stroke-width="3.5" stroke-linejoin="bevel" stroke-linecap="butt" /><path d="M1756.7,1677.2 L1762.2,1677.1 L1767.2,1677.3 L1772.2,1677.2 L1777.2,1677.2 L1782.2,1677.1 L1787.2,1677.3 L1792.1,1677.3 L1797.1,1677.2 L1802.1,1677.3 L1807.1,1677.2 L1812.1,1677.2 L1817.1,1677.3 L1822.1,1677.1 L1827.1,1677.3 L1832.1,1677.2 L1837.1,1677.1 L1842.0,1677.1 L1847.0,1677.1 L1852.0,1677.1 L1857.0,1677.3 L1862.0,1677.1 L1867.0,1677.1 L1872.0,1677.2 L1877.0,1677.1 L1882.0,1677.2 L1887.0,1677.3 L1891.9,1677.1 L1896.9,1677.2 L1901.9,1677.3 L1906.9,1677.3 L1911.9,1677.1 L1916.9,1677.2 L1921.9,1677.1 L1926.9,1677.2 L1931.9,1677.1 L1936.9,1677.1 L1941.8,1677.3 L1946.8,1677.1 L1951.8,1677.2 L1956.8,1677.3 L1961.8,1677.1 L1966.8,1677.2 L1971.8,1677.2 L1976.8,1677.3 L1981.8,1677.2 L1986.8,1677.3 L1991.7,1677.2 L1996.7,1677.3 L2001.7,1677.3 L2006.7,1677.1 L2011.7,1677.2 L2016.7,1677.2 L2021.7,1677.2 L2026.7,1677.2 L2031.7,1677.3 L2036.7,1677.3 L2041.6,1677.2 L2046.6,1677.3 L2051.6,1677.3 L2056.6,1677.2 L2061.6,1677.3 L2066.6,1677.2 L2071.6,1677.3 L2076.6,1677.2 L2081.6,1677.1 L2086.6,1677.3 L2091.5,1677.3 L2096.5,1677.2 L2101.5,1677.2 L2106.5,1677.1 L2111.5,1677.3 L2116.5,1677.2 L2121.5,1677.1 L2126.5,1677.3 L2131.5,1677.3 L2136.5,1677.1 L2141.4,1677.2 L2146.4,1677.1 L2151.4,1677.3 L2156.4,1677.1 L2161.4,1677.2 L2166.4,1677.2 L2171.4,1677.2 L2176.4,1677.2 L2181.4,1677.3 L2186.4,1677.2 L2191.3,1677.0 L2196.3,1677.2 L2201.3,1677.0 L2206.3,1677.2 L2211.3,1677.3 L2216.3,1677.3 L2221.3,1677.1 L2226.3,1677.3 L2231.3,1677.2 L2236.2,1677.1 L2241.2,1677.1 L2246.2,1677.3 L2251.2,1677.3 L2256.2,1677.1" fill="none" stroke="#a84a1e" stroke-width="4" stroke-linejoin="bevel" stroke-linecap="butt" /><path d="M1756.7,1679.6 L1762.2,1679.5 L1767.2,1679.5 L1772.2,1679.5 L1777.2,1679.8 L1782.2,1679.6 L1787.2,1679.7 L1792.1,1679.6 L1797.1,1679.8 L1802.1,1679.7 L1807.1,1679.6 L1812.1,1679.7 L1817.1,1679.6 L1822.1,1679.7 L1827.1,1679.6 L1832.1,1679.6 L1837.1,1679.7 L1842.0,1679.6 L1847.0,1679.8 L1852.0,1679.6 L1857.0,1679.6 L1862.0,1679.8 L1867.0,1679.7 L1872.0,1679.7 L1877.0,1679.5 L1882.0,1679.6 L1887.0,1679.8 L1891.9,1679.6 L1896.9,1679.8 L1901.9,1679.7 L1906.9,1679.7 L1911.9,1679.5 L1916.9,1679.6 L1921.9,1679.5 L1926.9,1679.8 L1931.9,1679.5 L1936.9,1679.6 L1941.8,1679.7 L1946.8,1679.7 L1951.8,1679.5 L1956.8,1679.7 L1961.8,1679.7 L1966.8,1679.5 L1971.8,1679.6 L1976.8,1679.7 L1981.8,1679.6 L1986.8,1679.6 L1991.7,1679.5 L1996.7,1679.8 L2001.7,1679.7 L2006.7,1679.6 L2011.7,1679.7 L2016.7,1679.7 L2021.7,1679.7 L2026.7,1679.7 L2031.7,1679.7 L2036.7,1679.6 L2041.6,1679.7 L2046.6,1679.5 L2051.6,1679.6 L2056.6,1679.5 L2061.6,1679.6 L2066.6,1679.5 L2071.6,1679.5 L2076.6,1679.5 L2081.6,1679.8 L2086.6,1679.6 L2091.5,1679.7 L2096.5,1679.7 L2101.5,1679.5 L2106.5,1679.6 L2111.5,1679.8 L2116.5,1679.7 L2121.5,1679.5 L2126.5,1679.6 L2131.5,1679.6 L2136.5,1679.7 L2141.4,1679.7 L2146.4,1679.7 L2151.4,1679.5 L2156.4,1679.5 L2161.4,1679.7 L2166.4,1679.6 L2171.4,1679.7 L2176.4,1679.7 L2181.4,1679.6 L2186.4,1679.5 L2191.3,1679.5 L2196.3,1679.7 L2201.3,1679.6 L2206.3,1679.6 L2211.3,1679.7 L2216.3,1679.5 L2221.3,1679.5 L2226.3,1679.7 L2231.3,1679.5 L2236.2,1679.5 L2241.2,1679.7 L2246.2,1679.6 L2251.2,1679.5 L2256.2,1679.7" fill="none" stroke="#e8701e" stroke-width="2.8" stroke-linejoin="bevel" stroke-linecap="butt" /><path d="M1756.7,1681.1 L1762.2,1681.1 L1767.2,1681.0 L1772.2,1681.0 L1777.2,1681.0 L1782.2,1681.0 L1787.2,1681.1 L1792.1,1681.1 L1797.1,1681.1 L1802.1,1681.0 L1807.1,1681.0 L1812.1,1681.0 L1817.1,1681.2 L1822.1,1681.0 L1827.1,1681.2 L1832.1,1681.2 L1837.1,1681.0 L1842.0,1681.1 L1847.0,1681.2 L1852.0,1681.1 L1857.0,1681.2 L1862.0,1681.2 L1867.0,1681.0 L1872.0,1681.1 L1877.0,1681.0 L1882.0,1681.1 L1887.0,1681.1 L1891.9,1681.1 L1896.9,1681.0 L1901.9,1681.1 L1906.9,1681.0 L1911.9,1681.1 L1916.9,1681.2 L1921.9,1681.2 L1926.9,1681.2 L1931.9,1681.0 L1936.9,1681.2 L1941.8,1681.2 L1946.8,1681.1 L1951.8,1681.0 L1956.8,1681.0 L1961.8,1681.0 L1966.8,1681.2 L1971.8,1681.0 L1976.8,1681.0 L1981.8,1681.0 L1986.8,1681.1 L1991.7,1681.1 L1996.7,1681.1 L2001.7,1681.2 L2006.7,1681.1 L2011.7,1681.2 L2016.7,1681.0 L2021.7,1681.1 L2026.7,1681.2 L2031.7,1681.1 L2036.7,1681.0 L2041.6,1681.1 L2046.6,1681.1 L2051.6,1681.0 L2056.6,1681.0 L2061.6,1681.1 L2066.6,1681.1 L2071.6,1681.0 L2076.6,1681.2 L2081.6,1681.0 L2086.6,1681.1 L2091.5,1681.1 L2096.5,1681.0 L2101.5,1681.1 L2106.5,1681.1 L2111.5,1681.1 L2116.5,1681.2 L2121.5,1681.2 L2126.5,1681.1 L2131.5,1681.2 L2136.5,1681.0 L2141.4,1681.1 L2146.4,1681.1 L2151.4,1681.1 L2156.4,1681.2 L2161.4,1681.1 L2166.4,1681.2 L2171.4,1681.0 L2176.4,1681.1 L2181.4,1681.0 L2186.4,1681.2 L2191.3,1681.0 L2196.3,1681.0 L2201.3,1681.0 L2206.3,1681.2 L2211.3,1681.1 L2216.3,1681.1 L2221.3,1681.2 L2226.3,1681.1 L2231.3,1681.0 L2236.2,1681.2 L2241.2,1681.1 L2246.2,1681.2 L2251.2,1681.0 L2256.2,1681.0" fill="none" stroke="#6fd0b8" stroke-width="1.5" stroke-linejoin="bevel" stroke-linecap="butt" /><path d="M1756.7,1683.8 L1762.2,1683.7 L1767.2,1683.7 L1772.2,1683.9 L1777.2,1683.9 L1782.2,1683.8 L1787.2,1683.8 L1792.1,1683.8 L1797.1,1683.8 L1802.1,1683.7 L1807.1,1683.8 L1812.1,1683.6 L1817.1,1683.8 L1822.1,1683.8 L1827.1,1683.7 L1832.1,1683.7 L1837.1,1683.8 L1842.0,1683.7 L1847.0,1683.9 L1852.0,1683.7 L1857.0,1683.9 L1862.0,1683.7 L1867.0,1683.8 L1872.0,1683.8 L1877.0,1683.7 L1882.0,1683.8 L1887.0,1683.7 L1891.9,1683.9 L1896.9,1683.9 L1901.9,1683.9 L1906.9,1683.7 L1911.9,1683.9 L1916.9,1683.8 L1921.9,1683.7 L1926.9,1683.8 L1931.9,1683.9 L1936.9,1683.7 L1941.8,1683.9 L1946.8,1683.8 L1951.8,1683.8 L1956.8,1683.8 L1961.8,1683.9 L1966.8,1683.8 L1971.8,1683.9 L1976.8,1683.8 L1981.8,1683.7 L1986.8,1683.8 L1991.7,1683.7 L1996.7,1683.9 L2001.7,1683.9 L2006.7,1683.7 L2011.7,1683.9 L2016.7,1683.7 L2021.7,1683.7 L2026.7,1683.7 L2031.7,1683.8 L2036.7,1683.7 L2041.6,1683.9 L2046.6,1683.8 L2051.6,1683.9 L2056.6,1683.7 L2061.6,1683.7 L2066.6,1683.7 L2071.6,1683.8 L2076.6,1683.7 L2081.6,1683.9 L2086.6,1683.8 L2091.5,1683.8 L2096.5,1683.7 L2101.5,1683.9 L2106.5,1683.8 L2111.5,1683.8 L2116.5,1683.8 L2121.5,1683.9 L2126.5,1683.8 L2131.5,1683.8 L2136.5,1683.8 L2141.4,1683.9 L2146.4,1683.7 L2151.4,1683.8 L2156.4,1683.8 L2161.4,1683.8 L2166.4,1683.7 L2171.4,1683.7 L2176.4,1683.9 L2181.4,1683.7 L2186.4,1683.7 L2191.3,1683.6 L2196.3,1683.8 L2201.3,1683.7 L2206.3,1683.7 L2211.3,1683.6 L2216.3,1683.8 L2221.3,1683.7 L2226.3,1683.8 L2231.3,1683.8 L2236.2,1683.6 L2241.2,1683.8 L2246.2,1683.9 L2251.2,1683.8 L2256.2,1683.8" fill="none" stroke="#3f88aa" stroke-width="5" stroke-linejoin="bevel" stroke-linecap="butt" /><path d="M1756.7,1687.2 L1762.2,1687.2 L1767.2,1687.2 L1772.2,1687.3 L1777.2,1687.2 L1782.2,1687.1 L1787.2,1687.1 L1792.1,1687.3 L1797.1,1687.3 L1802.1,1687.2 L1807.1,1687.3 L1812.1,1687.1 L1817.1,1687.1 L1822.1,1687.0 L1827.1,1687.2 L1832.1,1687.2 L1837.1,1687.2 L1842.0,1687.2 L1847.0,1687.3 L1852.0,1687.3 L1857.0,1687.3 L1862.0,1687.1 L1867.0,1687.3 L1872.0,1687.2 L1877.0,1687.2 L1882.0,1687.3 L1887.0,1687.1 L1891.9,1687.2 L1896.9,1687.1 L1901.9,1687.2 L1906.9,1687.3 L1911.9,1687.3 L1916.9,1687.2 L1921.9,1687.2 L1926.9,1687.1 L1931.9,1687.1 L1936.9,1687.1 L1941.8,1687.2 L1946.8,1687.2 L1951.8,1687.2 L1956.8,1687.1 L1961.8,1687.2 L1966.8,1687.2 L1971.8,1687.1 L1976.8,1687.2 L1981.8,1687.1 L1986.8,1687.1 L1991.7,1687.3 L1996.7,1687.1 L2001.7,1687.3 L2006.7,1687.2 L2011.7,1687.3 L2016.7,1687.1 L2021.7,1687.1 L2026.7,1687.1 L2031.7,1687.2 L2036.7,1687.1 L2041.6,1687.3 L2046.6,1687.3 L2051.6,1687.1 L2056.6,1687.2 L2061.6,1687.1 L2066.6,1687.2 L2071.6,1687.2 L2076.6,1687.2 L2081.6,1687.1 L2086.6,1687.1 L2091.5,1687.1 L2096.5,1687.3 L2101.5,1687.3 L2106.5,1687.2 L2111.5,1687.2 L2116.5,1687.3 L2121.5,1687.2 L2126.5,1687.1 L2131.5,1687.3 L2136.5,1687.3 L2141.4,1687.3 L2146.4,1687.1 L2151.4,1687.1 L2156.4,1687.1 L2161.4,1687.2 L2166.4,1687.3 L2171.4,1687.2 L2176.4,1687.2 L2181.4,1687.3 L2186.4,1687.1 L2191.3,1687.1 L2196.3,1687.2 L2201.3,1687.1 L2206.3,1687.3 L2211.3,1687.1 L2216.3,1687.1 L2221.3,1687.1 L2226.3,1687.1 L2231.3,1687.3 L2236.2,1687.1 L2241.2,1687.2 L2246.2,1687.1 L2251.2,1687.2 L2256.2,1687.3" fill="none" stroke="#c040d0" stroke-width="2.5" stroke-linejoin="bevel" stroke-linecap="butt" /><path d="M1756.7,1689.9 L1762.2,1689.8 L1767.2,1689.8 L1772.2,1689.9 L1777.2,1690.0 L1782.2,1689.9 L1787.2,1690.0 L1792.1,1689.9 L1797.1,1689.8 L1802.1,1689.9 L1807.1,1689.9 L1812.1,1689.9 L1817.1,1689.8 L1822.1,1689.9 L1827.1,1690.0 L1832.1,1689.9 L1837.1,1689.9 L1842.0,1689.9 L1847.0,1690.0 L1852.0,1690.0 L1857.0,1689.9 L1862.0,1690.0 L1867.0,1689.8 L1872.0,1689.9 L1877.0,1690.0 L1882.0,1689.9 L1887.0,1689.9 L1891.9,1690.0 L1896.9,1689.8 L1901.9,1689.9 L1906.9,1690.0 L1911.9,1690.0 L1916.9,1689.8 L1921.9,1689.9 L1926.9,1689.9 L1931.9,1690.0 L1936.9,1689.9 L1941.8,1689.8 L1946.8,1690.0 L1951.8,1690.0 L1956.8,1689.9 L1961.8,1690.0 L1966.8,1689.9 L1971.8,1689.9 L1976.8,1689.8 L1981.8,1689.8 L1986.8,1689.8 L1991.7,1689.9 L1996.7,1689.8 L2001.7,1689.8 L2006.7,1689.8 L2011.7,1689.9 L2016.7,1689.7 L2021.7,1689.8 L2026.7,1689.9 L2031.7,1690.0 L2036.7,1689.8 L2041.6,1689.8 L2046.6,1689.9 L2051.6,1689.9 L2056.6,1689.8 L2061.6,1689.8 L2066.6,1689.9 L2071.6,1690.0 L2076.6,1690.0 L2081.6,1689.8 L2086.6,1689.8 L2091.5,1689.8 L2096.5,1689.9 L2101.5,1689.8 L2106.5,1689.8 L2111.5,1689.8 L2116.5,1689.8 L2121.5,1689.9 L2126.5,1690.0 L2131.5,1689.9 L2136.5,1689.9 L2141.4,1689.9 L2146.4,1690.0 L2151.4,1689.8 L2156.4,1689.8 L2161.4,1690.0 L2166.4,1690.0 L2171.4,1689.8 L2176.4,1689.8 L2181.4,1689.9 L2186.4,1689.8 L2191.3,1689.8 L2196.3,1689.9 L2201.3,1689.9 L2206.3,1689.9 L2211.3,1689.8 L2216.3,1689.9 L2221.3,1689.7 L2226.3,1689.9 L2231.3,1689.9 L2236.2,1689.8 L2241.2,1689.9 L2246.2,1689.8 L2251.2,1689.9 L2256.2,1689.8" fill="none" stroke="#3a8a66" stroke-width="4" stroke-linejoin="bevel" stroke-linecap="butt" /><path d="M1756.7,1694.6 L1762.2,1694.6 L1767.2,1694.7 L1772.2,1694.6 L1777.2,1694.7 L1782.2,1694.5 L1787.2,1694.6 L1792.1,1694.6 L1797.1,1694.6 L1802.1,1694.6 L1807.1,1694.6 L1812.1,1694.5 L1817.1,1694.7 L1822.1,1694.5 L1827.1,1694.7 L1832.1,1694.7 L1837.1,1694.5 L1842.0,1694.5 L1847.0,1694.6 L1852.0,1694.6 L1857.0,1694.6 L1862.0,1694.7 L1867.0,1694.5 L1872.0,1694.5 L1877.0,1694.5 L1882.0,1694.6 L1887.0,1694.8 L1891.9,1694.7 L1896.9,1694.7 L1901.9,1694.6 L1906.9,1694.6 L1911.9,1694.6 L1916.9,1694.7 L1921.9,1694.6 L1926.9,1694.7 L1931.9,1694.6 L1936.9,1694.5 L1941.8,1694.7 L1946.8,1694.5 L1951.8,1694.6 L1956.8,1694.5 L1961.8,1694.7 L1966.8,1694.7 L1971.8,1694.8 L1976.8,1694.5 L1981.8,1694.6 L1986.8,1694.7 L1991.7,1694.7 L1996.7,1694.7 L2001.7,1694.6 L2006.7,1694.7 L2011.7,1694.6 L2016.7,1694.5 L2021.7,1694.7 L2026.7,1694.5 L2031.7,1694.5 L2036.7,1694.7 L2041.6,1694.6 L2046.6,1694.6 L2051.6,1694.7 L2056.6,1694.6 L2061.6,1694.6 L2066.6,1694.6 L2071.6,1694.6 L2076.6,1694.6 L2081.6,1694.7 L2086.6,1694.6 L2091.5,1694.5 L2096.5,1694.5 L2101.5,1694.7 L2106.5,1694.5 L2111.5,1694.6 L2116.5,1694.7 L2121.5,1694.7 L2126.5,1694.8 L2131.5,1694.5 L2136.5,1694.6 L2141.4,1694.6 L2146.4,1694.5 L2151.4,1694.7 L2156.4,1694.6 L2161.4,1694.6 L2166.4,1694.6 L2171.4,1694.5 L2176.4,1694.6 L2181.4,1694.6 L2186.4,1694.7 L2191.3,1694.6 L2196.3,1694.6 L2201.3,1694.6 L2206.3,1694.7 L2211.3,1694.7 L2216.3,1694.6 L2221.3,1694.6 L2226.3,1694.5 L2231.3,1694.7 L2236.2,1694.6 L2241.2,1694.6 L2246.2,1694.6 L2251.2,1694.7 L2256.2,1694.5" fill="none" stroke="#6a9e3a" stroke-width="4.5" stroke-linejoin="bevel" stroke-linecap="butt" /></g><rect x="1160" y="1160" width="2" height="539.8" fill="#bbbcdc"/><rect x="1160" y="1697.6" width="1098" height="2.2" fill="#bbbcdc"/><text x="1147.5" y="1608.2" font-size="23" fill="#b4b5ce" text-anchor="end" font-family="Liberation Sans, sans-serif">20</text><text x="1147.5" y="1510.6" font-size="23" fill="#b4b5ce" text-anchor="end" font-family="Liberation Sans, sans-serif">40</text><text x="1147.5" y="1413.0" font-size="23" fill="#b4b5ce" text-anchor="end" font-family="Liberation Sans, sans-serif">60</text><text x="1147.5" y="1315.4" font-size="23" fill="#b4b5ce" text-anchor="end" font-family="Liberation Sans, sans-serif">80</text><text x="1147.5" y="1226.6" font-size="23" fill="#b4b5ce" text-anchor="end" font-family="Liberation Sans, sans-serif">100</text><text x="1147.5" y="1698.1" font-size="23" fill="#b4b5ce" text-anchor="end" font-family="Liberation Sans, sans-serif">0</text><text x="1234.8" y="1727.2" font-size="23" fill="#b4b5ce" text-anchor="middle" font-family="Liberation Sans, sans-serif">14:00</text><text x="1534.2" y="1727.2" font-size="23" fill="#b4b5ce" text-anchor="middle" font-family="Liberation Sans, sans-serif">15:00</text><text x="1833.6" y="1727.2" font-size="23" fill="#b4b5ce" text-anchor="middle" font-family="Liberation Sans, sans-serif">16:00</text><text x="2133.0" y="1727.2" font-size="23" fill="#b4b5ce" text-anchor="middle" font-family="Liberation Sans, sans-serif">17:00</text><rect x="2294" y="1128" width="1514" height="628" rx="28" fill="#111224"/><rect x="2389" y="1584.6" width="1403" height="2" fill="#43445a"/><rect x="2389" y="1472.6" width="1403" height="2" fill="#43445a"/><rect x="2389" y="1360.6" width="1403" height="2" fill="#43445a"/><rect x="2389" y="1248.6" width="1403" height="2" fill="#43445a"/><rect x="2527.3" y="1160" width="2" height="538" fill="#43445a"/><rect x="2808.3" y="1160" width="2" height="538" fill="#43445a"/><rect x="3089.3" y="1160" width="2" height="538" fill="#43445a"/><rect x="3370.3" y="1160" width="2" height="538" fill="#43445a"/><rect x="3651.3" y="1160" width="2" height="538" fill="#43445a"/><clipPath id="c4"><rect x="2389" y="1156" width="1403" height="542"/></clipPath><g clip-path="url(#c4)"><path d="M3507.5,1288.4 L3516.0,1263.3 L3525.4,1241.3 L3534.8,1249.2 L3544.1,1245.8 L3553.5,1258.6 L3562.9,1270.7 L3572.2,1239.5 L3581.6,1231.0 L3591.0,1249.6 L3600.3,1250.7 L3609.7,1249.6 L3619.1,1240.9 L3628.4,1247.8 L3637.8,1246.9 L3647.2,1249.6 L3656.5,1253.9 L3665.9,1253.0 L3675.3,1244.7 L3684.6,1249.2 L3694.0,1245.6 L3703.4,1241.8 L3712.7,1247.8 L3722.1,1246.9 L3731.5,1253.0 L3740.8,1239.1 L3750.2,1246.9 L3759.6,1245.6 L3768.9,1248.3 L3778.3,1252.5 L3787.7,1246.9 L3787.7,1311.7 L3778.3,1312.6 L3768.9,1315.4 L3759.6,1315.4 L3750.2,1313.5 L3740.8,1308.9 L3731.5,1312.2 L3722.1,1314.5 L3712.7,1312.2 L3703.4,1312.6 L3694.0,1312.6 L3684.6,1313.0 L3675.3,1313.5 L3665.9,1312.6 L3656.5,1321.0 L3647.2,1313.0 L3637.8,1311.1 L3628.4,1314.5 L3619.1,1310.7 L3609.7,1313.5 L3600.3,1311.1 L3591.0,1310.4 L3581.6,1310.7 L3572.2,1314.1 L3562.9,1320.4 L3553.5,1316.3 L3544.1,1311.7 L3534.8,1311.7 L3525.4,1310.7 L3516.0,1314.5 L3507.5,1288.4 Z" fill="rgba(46,92,214,0.50)" stroke="rgba(70,110,220,0.55)" stroke-width="2" stroke-linejoin="round"/><path d="M2392.0,1291.7 L2401.4,1272.7 L2410.7,1238.6 L2420.1,1278.3 L2429.5,1299.1 L2438.8,1270.7 L2448.2,1283.6 L2457.6,1305.2 L2466.9,1301.8 L2476.3,1307.8 L2485.7,1309.4 L2495.0,1316.4 L2504.4,1245.6 L2513.8,1288.8 L2523.1,1307.2 L2532.5,1294.8 L2541.9,1256.3 L2551.2,1240.6 L2560.6,1294.8 L2570.0,1316.4 L2579.3,1288.4 L2588.7,1311.9 L2598.1,1282.3 L2607.4,1301.3 L2616.8,1307.8 L2626.2,1315.2 L2635.5,1278.7 L2644.9,1255.6 L2654.3,1256.3 L2663.6,1302.7 L2673.0,1287.2 L2682.4,1305.2 L2691.7,1300.7 L2701.1,1258.6 L2710.5,1299.8 L2719.8,1291.0 L2729.2,1311.9 L2738.6,1314.3 L2747.9,1272.7 L2757.3,1266.2 L2766.7,1298.9 L2776.0,1297.8 L2785.4,1325.3 L2794.8,1256.3 L2804.1,1306.5 L2813.5,1294.8 L2822.9,1267.1 L2832.2,1273.8 L2841.6,1303.1 L2851.0,1278.7 L2860.3,1237.5 L2869.7,1244.2 L2879.1,1276.3 L2888.5,1268.2 L2897.8,1283.6 L2907.2,1262.1 L2916.6,1263.0 L2925.9,1271.1 L2935.3,1290.8 L2944.7,1300.7 L2954.0,1233.5 L2963.4,1256.5 L2972.8,1305.2 L2982.1,1301.1 L2991.5,1233.5 L3000.9,1284.8 L3010.2,1320.4 L3019.6,1294.4 L3029.0,1327.3 L3038.3,1312.8 L3047.7,1318.8 L3057.1,1257.7 L3066.4,1270.7 L3075.8,1298.4 L3085.2,1282.8 L3094.5,1255.6 L3103.9,1277.6 L3113.3,1307.8 L3122.6,1262.6 L3132.0,1265.7 L3141.4,1270.2 L3150.7,1283.2 L3160.1,1273.1 L3169.5,1268.2 L3178.8,1306.5 L3188.2,1248.7 L3197.6,1301.8 L3206.9,1293.1 L3216.3,1280.3 L3225.7,1300.7 L3235.0,1295.1 L3244.4,1284.3 L3253.8,1279.6 L3263.1,1236.2 L3272.5,1267.1 L3281.9,1243.6 L3291.2,1278.3 L3300.6,1311.9 L3310.0,1307.2 L3319.3,1295.7 L3328.7,1291.0 L3338.1,1299.1 L3347.4,1291.3 L3356.8,1306.9 L3366.2,1278.3 L3375.5,1213.3 L3384.9,1280.1 L3394.3,1301.3 L3403.6,1270.2 L3413.0,1306.9 L3422.4,1283.6 L3431.7,1269.8 L3441.1,1303.6 L3450.5,1299.6 L3459.8,1300.9 L3469.2,1260.4 L3478.6,1194.3 L3487.9,1297.3 L3497.3,1319.9 L3506.7,1288.4" fill="none" stroke="#ececf4" stroke-width="4" stroke-linejoin="bevel" stroke-linecap="butt" /><path d="M3506.7,1287.5 L3516.0,1286.6 L3525.4,1277.6 L3534.8,1282.3 L3544.1,1289.2 L3553.5,1294.4 L3562.9,1286.1 L3572.2,1281.0 L3581.6,1276.3 L3591.0,1285.0 L3600.3,1286.6 L3609.7,1286.6 L3619.1,1281.0 L3628.4,1282.8 L3637.8,1278.9 L3647.2,1284.5 L3656.5,1289.0 L3665.9,1283.6 L3675.3,1281.0 L3684.6,1289.2 L3694.0,1284.5 L3703.4,1281.9 L3712.7,1285.0 L3722.1,1284.3 L3731.5,1281.0 L3740.8,1283.6 L3750.2,1286.6 L3759.6,1285.0 L3768.9,1285.7 L3778.3,1283.2 L3787.7,1282.8" fill="none" stroke="#3a8a66" stroke-width="4" stroke-linejoin="bevel" stroke-linecap="butt" /><circle cx="3506.7" cy="1287.5" r="6.0" fill="#3a8a66"/><circle cx="3516.0" cy="1286.6" r="6.0" fill="#3a8a66"/><circle cx="3525.4" cy="1277.6" r="6.0" fill="#3a8a66"/><circle cx="3534.8" cy="1282.3" r="6.0" fill="#3a8a66"/><circle cx="3544.1" cy="1289.2" r="6.0" fill="#3a8a66"/><circle cx="3553.5" cy="1294.4" r="6.0" fill="#3a8a66"/><circle cx="3562.9" cy="1286.1" r="6.0" fill="#3a8a66"/><circle cx="3572.2" cy="1281.0" r="6.0" fill="#3a8a66"/><circle cx="3581.6" cy="1276.3" r="6.0" fill="#3a8a66"/><circle cx="3591.0" cy="1285.0" r="6.0" fill="#3a8a66"/><circle cx="3600.3" cy="1286.6" r="6.0" fill="#3a8a66"/><circle cx="3609.7" cy="1286.6" r="6.0" fill="#3a8a66"/><circle cx="3619.1" cy="1281.0" r="6.0" fill="#3a8a66"/><circle cx="3628.4" cy="1282.8" r="6.0" fill="#3a8a66"/><circle cx="3637.8" cy="1278.9" r="6.0" fill="#3a8a66"/><circle cx="3647.2" cy="1284.5" r="6.0" fill="#3a8a66"/><circle cx="3656.5" cy="1289.0" r="6.0" fill="#3a8a66"/><circle cx="3665.9" cy="1283.6" r="6.0" fill="#3a8a66"/><circle cx="3675.3" cy="1281.0" r="6.0" fill="#3a8a66"/><circle cx="3684.6" cy="1289.2" r="6.0" fill="#3a8a66"/><circle cx="3694.0" cy="1284.5" r="6.0" fill="#3a8a66"/><circle cx="3703.4" cy="1281.9" r="6.0" fill="#3a8a66"/><circle cx="3712.7" cy="1285.0" r="6.0" fill="#3a8a66"/><circle cx="3722.1" cy="1284.3" r="6.0" fill="#3a8a66"/><circle cx="3731.5" cy="1281.0" r="6.0" fill="#3a8a66"/><circle cx="3740.8" cy="1283.6" r="6.0" fill="#3a8a66"/><circle cx="3750.2" cy="1286.6" r="6.0" fill="#3a8a66"/><circle cx="3759.6" cy="1285.0" r="6.0" fill="#3a8a66"/><circle cx="3768.9" cy="1285.7" r="6.0" fill="#3a8a66"/><circle cx="3778.3" cy="1283.2" r="6.0" fill="#3a8a66"/><circle cx="3787.7" cy="1282.8" r="6.0" fill="#3a8a66"/></g><rect x="2388" y="1160" width="2" height="539.8" fill="#bbbcdc"/><rect x="2388" y="1697.6" width="1404" height="2.2" fill="#bbbcdc"/><text x="2375.5" y="1594.2" font-size="23" fill="#b4b5ce" text-anchor="end" font-family="Liberation Sans, sans-serif">5</text><text x="2375.5" y="1482.2" font-size="23" fill="#b4b5ce" text-anchor="end" font-family="Liberation Sans, sans-serif">10</text><text x="2375.5" y="1370.2" font-size="23" fill="#b4b5ce" text-anchor="end" font-family="Liberation Sans, sans-serif">15</text><text x="2375.5" y="1267.2" font-size="23" fill="#b4b5ce" text-anchor="end" font-family="Liberation Sans, sans-serif">20</text><text x="2375.5" y="1698.1" font-size="23" fill="#b4b5ce" text-anchor="end" font-family="Liberation Sans, sans-serif">0</text><text x="2528.3" y="1727.2" font-size="23" fill="#b4b5ce" text-anchor="middle" font-family="Liberation Sans, sans-serif">14:00</text><text x="2809.3" y="1727.2" font-size="23" fill="#b4b5ce" text-anchor="middle" font-family="Liberation Sans, sans-serif">14:30</text><text x="3090.3" y="1727.2" font-size="23" fill="#b4b5ce" text-anchor="middle" font-family="Liberation Sans, sans-serif">15:00</text><text x="3371.3" y="1727.2" font-size="23" fill="#b4b5ce" text-anchor="middle" font-family="Liberation Sans, sans-serif">15:30</text><text x="3652.3" y="1727.2" font-size="23" fill="#b4b5ce" text-anchor="middle" font-family="Liberation Sans, sans-serif">16:00</text><path d="M3768,1742 L3794,1716 M3780,1743 L3795,1728" stroke="#f0f0f6" stroke-width="3" fill="none"/>
<g transform="translate(148.1,30.9) scale(1.0)">
<defs><linearGradient id="dg1148" x1="0" y1="0" x2="1" y2="1"><stop offset="0" stop-color="#23877c"/><stop offset="1" stop-color="#4fb0a2"/></linearGradient>
<linearGradient id="dg2148" x1="0" y1="0" x2="0" y2="1"><stop offset="0" stop-color="#6fd2c4"/><stop offset="1" stop-color="#4fb3a5"/></linearGradient>
<linearGradient id="dg3148" x1="0" y1="0" x2="0" y2="1"><stop offset="0" stop-color="#c8f4ee"/><stop offset="1" stop-color="#86dccf"/></linearGradient></defs>
<rect x="10.8" y="0" width="21.3" height="17" fill="url(#dg1148)"/>
<rect x="17.3" y="15.5" width="18.6" height="18.6" fill="#3f9f91"/>
<rect x="0" y="5.1" width="23.4" height="23.4" fill="url(#dg2148)"/>
<rect x="3" y="11.8" width="3.8" height="14.4" fill="url(#dg3148)"/><rect x="9.5" y="18" width="4.6" height="8.2" fill="url(#dg3148)"/><rect x="16.6" y="8" width="4.4" height="18.2" fill="url(#dg3148)"/>
<circle cx="27.9" cy="24.8" r="5.9" fill="#2f8e82"/><path d="M27.9,24.8 L27.9,18.2 A6.6,6.6 0 0 1 34.5,23.6 Z" fill="#b9efe7"/>
<path d="M-0.3,21.6 L11.1,8.4 L20.1,18 L32.4,4.6" fill="none" stroke="#fff" stroke-width="3.1"/>
</g><path d="M415.8,48 H441.8 M428.8,35 V61" stroke="#f0f0f6" stroke-width="3" fill="none"/><circle cx="3787.8" cy="48" r="14" fill="none" stroke="#f0f0f6" stroke-width="2.8"/><path d="M3783,43.6 a4.9,4.9 0 1 1 7.2,4.3 q-2.4,1.4 -2.4,3.7 v1.2" fill="none" stroke="#f0f0f6" stroke-width="2.8"/><circle cx="3787.8" cy="56.6" r="1.9" fill="#f0f0f6"/><rect x="169.5" y="147.4" width="25.2" height="25.2" rx="1.5" fill="none" stroke="#f0f0f6" stroke-width="3.1"/><rect x="175.8" y="147" width="3.1" height="3.4" fill="#f0f0f6"/><rect x="175.8" y="154.8" width="3.1" height="3.3" fill="#f0f0f6"/><rect x="175.8" y="162.2" width="3.1" height="3.4" fill="#f0f0f6"/><rect x="175.8" y="169.6" width="3.1" height="3.4" fill="#f0f0f6"/><path d="M183.9,155.3 L189.4,159.9 L183.9,164.8" fill="none" stroke="#f0f0f6" stroke-width="3"/><circle cx="787" cy="150" r="3.2" fill="#f0f0f6"/><circle cx="787" cy="160" r="3.2" fill="#f0f0f6"/><circle cx="787" cy="170" r="3.2" fill="#f0f0f6"/><path d="M860.6,169.1 H850 a6.8,6.8 0 0 1 -1.2,-13.5 a8.7,8.7 0 0 1 17.2,-0.6 q1.2,1.9 3.4,2.6" fill="none" stroke="#b3b4d6" stroke-width="2.8"/><path d="M861,163.6 L865,168.8 L874.6,158.8" fill="none" stroke="#b3b4d6" stroke-width="2.9"/><path d="M3327,160 H3353 M3340,147 V173" stroke="#f0f0f6" stroke-width="3" fill="none"/><path d="M3602.6,156.2 L3610.2,163.6 L3617.8,156.2" fill="none" stroke="#f0f0f6" stroke-width="3"/><path d="M3705.6,153 A11.3,11.3 0 1 0 3708.9,161.5" fill="none" stroke="#f0f0f6" stroke-width="2.9"/><path d="M3710.6,146.6 V155.4 H3701.8" fill="none" stroke="#f0f0f6" stroke-width="2.9"/><rect x="3734" y="128" width="2" height="64" fill="#1b1b2e"/><path d="M3760.4,155.4 L3772,166 L3783.6,155.4" fill="none" stroke="#f0f0f6" stroke-width="3"/><circle cx="279.3" cy="671" r="72.3" fill="none" stroke="#f0f0f6" stroke-width="15"/><path d="M246.2,675.4 L264.7,695.8 L316.2,642" fill="none" stroke="#f0f0f6" stroke-width="14.5"/><path d="M858.5,693 L898.5,642.5" stroke="#f0f0f6" stroke-width="9"/><path d="M439.5,1448 L475.5,1398.5" stroke="#f0f0f6" stroke-width="7.5"/><g transform="translate(180,1350) scale(0.110424)" fill="none" stroke="#f0f0f6" stroke-width="96" stroke-linejoin="round" stroke-linecap="round">
<path d="M445,690 L180,390 L935,175 L1195,465 L955,536 M445,690 L710,612"/>
<path d="M470,330 L706,612 L710,1150 M716,262 L951,538 L955,1080"/>
<path d="M374,610 L180,665 L445,965 L710,887 M955,815 L1195,740 L1006,522"/>
<path d="M374,885 L180,940 L445,1240 L1195,1015 L1006,797"/>
</g>
<path d="M0,515 H2 a5.5,5.5 0 0 1 5.5,5.5 V557 a5.5,5.5 0 0 1 -5.5,5.5 H0 Z" fill="#a9a5f0"/><rect x="24" y="378" width="64" height="2" fill="#45455b"/><rect x="24" y="938" width="64" height="2" fill="#45455b"/><rect x="0" y="1859" width="112" height="2" fill="#45455b"/><g fill="#f0f0f6">
<path d="M36.9,48.6 L50.2,36.1 Q50.6,35.8 51.2,35.9 L72.6,38.1 L62.5,47.9 Z"/>
<path d="M36.3,50.2 L48.0,49.9 L48.0,62.4 L37.4,70.5 Q36.3,60 36.3,50.2 Z"/>
<path d="M64.1,49.5 L75.0,40.3 Q76.4,52 75.9,62.6 L62.9,74.9 Q63.8,62 64.1,49.5 Z"/>
<path d="M49.6,63.9 L61.0,64.1 L60.8,75.2 L40.2,72.7 Z"/>
</g><circle cx="51.4" cy="130.9" r="13" fill="none" stroke="#f0f0f6" stroke-width="3.2"/><path d="M60.6,140.6 L71,151" stroke="#f0f0f6" stroke-width="3.8" stroke-linecap="round"/><g fill="none" stroke="#f0f0f6">
<circle cx="55.8" cy="214.6" r="16.9" stroke-width="4.4"/>
<path d="M59.60,207.45 A8.1,8.1 0 1 0 52.77,222.11" stroke-width="5.2"/>
</g>
<circle cx="56" cy="215" r="3.1" fill="#f0f0f6"/>
<path d="M62.2,216.8 v-3.2 a1.6,1.6 0 0 1 1.6,-1.6 h2.6 v4.8 Z" fill="#f0f0f6"/>
<path d="M58.6,205.4 L61.8,206.6 L59.2,209 Z" fill="#f0f0f6"/>
<path d="M66.8,233 L72.9,239 L72.9,233 Z" fill="#f0f0f6"/>
<rect x="57.7" y="219.8" width="16.6" height="13.4" rx="3.2" fill="#2e2e43" stroke="#f0f0f6" stroke-width="2.3"/><circle cx="42.5" cy="285" r="3.8" fill="#f0f0f6"/><circle cx="42.5" cy="298.2" r="3.8" fill="#f0f0f6"/><circle cx="42.5" cy="311.5" r="3.8" fill="#f0f0f6"/><circle cx="55.8" cy="285" r="3.8" fill="#f0f0f6"/><circle cx="55.8" cy="298.2" r="3.8" fill="#f0f0f6"/><circle cx="55.8" cy="311.5" r="3.8" fill="#f0f0f6"/><circle cx="69.1" cy="285" r="3.8" fill="#f0f0f6"/><circle cx="69.1" cy="298.2" r="3.8" fill="#f0f0f6"/><circle cx="69.1" cy="311.5" r="3.8" fill="#f0f0f6"/><g>
<path d="M36.85,447.5 L55.4,436.7 L60.4,440 L41.9,450.8 Z" fill="#7c6ff6"/><path d="M36.85,447.5 L41.9,450.8 L41.9,471.7 L36.85,468.2 Z" fill="#4035a6"/><path d="M41.9,450.8 L60.4,440 L60.9,440.6 L43,451 L43,471 L41.9,471.7 Z" fill="#c4c1f3"/>
<path d="M44.2,452.8 L62.4,442.1 L67.8,445.4 L49.6,456.2 Z" fill="#7c6ff6"/><path d="M44.2,452.8 L49.6,456.2 L49.6,476.2 L44.2,472.9 Z" fill="#4035a6"/><path d="M49.6,456.2 L67.8,445.4 L68.3,446 L50.8,456.4 L50.8,475.5 L49.6,476.2 Z" fill="#c4c1f3"/>
<path d="M51.9,457.6 L70.3,446.4 L75.5,449.5 L57.1,460.7 Z" fill="#7c6ff6"/><path d="M51.9,457.6 L57.1,460.7 L57.1,481.2 L51.9,477.9 Z" fill="#4035a6"/>
<path d="M57.1,460.7 L75.5,449.5 L75.5,470.2 L57.1,481.2 Z" fill="#c4c1f3"/>
<path d="M58.5,461.4 L74.2,451.9 L74.2,469.5 L58.5,478.9 Z" fill="#8a95b2"/>
<path d="M69.9,454.5 L74.2,451.9 L74.2,469.5 L69.9,467.3 Z" fill="#5b5f73"/>
<path d="M58.5,461.4 L69.9,454.5 L69.9,467.3 L58.5,474.1 Z" fill="#2e2e43"/>
</g><g transform="translate(34.8,519.0) scale(1.18)">
<defs><linearGradient id="dg134" x1="0" y1="0" x2="1" y2="1"><stop offset="0" stop-color="#23877c"/><stop offset="1" stop-color="#4fb0a2"/></linearGradient>
<linearGradient id="dg234" x1="0" y1="0" x2="0" y2="1"><stop offset="0" stop-color="#6fd2c4"/><stop offset="1" stop-color="#4fb3a5"/></linearGradient>
<linearGradient id="dg334" x1="0" y1="0" x2="0" y2="1"><stop offset="0" stop-color="#c8f4ee"/><stop offset="1" stop-color="#86dccf"/></linearGradient></defs>
<rect x="10.8" y="0" width="21.3" height="17" fill="url(#dg134)"/>
<rect x="17.3" y="15.5" width="18.6" height="18.6" fill="#3f9f91"/>
<rect x="0" y="5.1" width="23.4" height="23.4" fill="url(#dg234)"/>
<rect x="3" y="11.8" width="3.8" height="14.4" fill="url(#dg334)"/><rect x="9.5" y="18" width="4.6" height="8.2" fill="url(#dg334)"/><rect x="16.6" y="8" width="4.4" height="18.2" fill="url(#dg334)"/>
<circle cx="27.9" cy="24.8" r="5.9" fill="#2f8e82"/><path d="M27.9,24.8 L27.9,18.2 A6.6,6.6 0 0 1 34.5,23.6 Z" fill="#b9efe7"/>
<path d="M-0.3,21.6 L11.1,8.4 L20.1,18 L32.4,4.6" fill="none" stroke="#fff" stroke-width="3.1"/>
</g><g transform="translate(38,601)">
<rect x="0" y="0" width="36" height="36" rx="7" fill="#6f9df2"/><rect x="0.8" y="0.8" width="34.4" height="34.4" rx="6.4" fill="none" stroke="#a7c3fa" stroke-width="1.2"/>
<rect x="3.6" y="3.6" width="28.8" height="28.8" rx="4.5" fill="#3a54d2"/>
<path d="M14,12.2 H22 M23.4,16 V22 M14,23.8 H20" stroke="#e8a23c" stroke-width="2.2"/>
<path d="M9,8 L15.6,12.2 L9,16.4 Z" fill="#f2f3fa"/><rect x="20" y="8.3" width="7.8" height="7.8" rx="0.8" fill="#f2f3fa"/>
<path d="M14.8,19.6 L8.2,23.8 L14.8,28 Z" fill="#f2f3fa"/><circle cx="23.6" cy="24.2" r="4.4" fill="#f2f3fa"/>
</g><g transform="translate(36.3,678)">
<rect x="1" y="4.6" width="26" height="12" rx="6" transform="rotate(-25 14 10.6)" fill="#4a7be8" stroke="#7fa6f5" stroke-width="1.5"/>
<path d="M3.6,27.2 L21.5,18 L22.4,38.2 Z" fill="#6b7089" stroke="#6b7089" stroke-width="5" stroke-linejoin="round"/>
<path d="M3.6,27.2 L21.5,18 L22.4,38.2 Z" fill="none" stroke="#a0a5bd" stroke-width="1.6" stroke-linejoin="round" transform="translate(12.5,27.8) scale(1.28) translate(-12.5,-27.8)"/>
<path d="M35.6,11.8 L35.6,30.4 L16.8,21.3 Z" fill="#2f8f7c" stroke="#72d3b6" stroke-width="6.4" stroke-linejoin="round"/>
<path d="M35.6,11.8 L35.6,30.4 L16.8,21.3 Z" fill="#2f8f7c" stroke="#2f8f7c" stroke-width="2.4" stroke-linejoin="round"/>
<circle cx="19" cy="20.8" r="4.3" fill="#f4f5fb"/>
</g><g transform="translate(35.2,761)">
<path d="M17,30.5 H25 L26.8,34.6 H15.2 Z" fill="#8a90ac"/><ellipse cx="21" cy="35.7" rx="8.2" ry="1.9" fill="#a1a7c4"/>
<rect x="0.7" y="0.7" width="40.6" height="30" rx="3.4" fill="#3a3c4c" stroke="#a3a7c0" stroke-width="1.4"/>
<rect x="3.2" y="3.2" width="35.6" height="25" rx="1.6" fill="#23242e"/>
<circle cx="11.6" cy="17.6" r="5.8" fill="#8d92ac"/><path d="M11.6,17.6 V11.8 A5.8,5.8 0 0 1 17.4,17.6 A5.8,5.8 0 0 1 8.2,22.3 Z" fill="#bfc4d8"/>
<rect x="5.8" y="6" width="12" height="2.4" rx="1.2" fill="#a9aec6"/>
<rect x="21.4" y="6" width="2.8" height="17.6" rx="1.4" fill="#9499b3"/><rect x="27.2" y="14.6" width="2.8" height="9" rx="1.4" fill="#9499b3"/><rect x="33" y="9" width="2.8" height="14.6" rx="1.4" fill="#9499b3"/>
</g><g transform="translate(36.3,839.4)">
<path d="M11.6,0 H27.8 L39.4,11.6 V27.8 L27.8,39.4 H11.6 L0,27.8 V11.6 Z" fill="#ee7f96"/>
<path d="M13.2,4 H26.2 L35.4,13.2 V26.2 L26.2,35.4 H13.2 L4,26.2 V13.2 Z" fill="#cb4462"/>
<path d="M15.4,9.4 H24 L30,15.4 V24 L24,30 H15.4 L9.4,24 V15.4 Z" fill="#ab3856"/>
<path d="M17,7.4 H22.6 L21.5,23.6 H18.1 Z" fill="#fdf1f3"/><circle cx="19.8" cy="28.4" r="3.1" fill="#fdf1f3"/>
</g><g transform="translate(37.7,998)">
<path d="M18.2,0 L36.4,5.2 C36.4,22 32,34 18.2,42 C4.4,34 0,22 0,5.2 Z" fill="#5fd2c0"/>
<path d="M18.2,3 L33.4,7.4 C33.2,21.5 29.5,31.5 18.2,38.5 C6.9,31.5 3.2,21.5 3,7.4 Z" fill="#2b9c90"/>
<path d="M18.2,3 L33.4,7.4 C33.2,21.5 29.5,31.5 18.2,38.5 Z" fill="#228579"/>
<path d="M18.2,19.4 c-2.2,-3.6 -4.2,-4.6 -6.4,-4.6 a4.6,4.6 0 0 0 0,9.2 c2.2,0 4.2,-1 6.4,-4.6 c2.2,3.6 4.2,4.6 6.4,4.6 a4.6,4.6 0 0 0 0,-9.2 c-2.2,0 -4.2,1 -6.4,4.6 Z" fill="none" stroke="#f4fbfa" stroke-width="2.6"/>
</g><g transform="translate(33.7,1076)" fill="none" stroke-width="5.8">
<rect x="0" y="0" width="44.8" height="45.4" rx="5.5" fill="#fff" stroke="none"/>
<path d="M28.92,14.62 A10.1,10.1 0 0 1 31.3,20.2 A7.4,7.4 0 0 1 29.8,34.8 H22.2" stroke="#4285f4"/>
<path d="M22.3,34.8 H14.9 A7.4,7.4 0 0 1 10.05,32.98" stroke="#34a853"/>
<path d="M10.3,33.2 A7.4,7.4 0 0 1 19.9,21.9" stroke="#fbbc05"/>
<path d="M11.54,18.64 A10.1,10.1 0 0 1 28.92,14.62" stroke="#ea4335"/>
</g><g transform="translate(35.9,1159)">
<rect x="0" y="0" width="40.2" height="39.8" rx="8" fill="#fff"/>
<g transform="translate(0,1.7)"><path d="M20.1,4.4 L31.6,9.9 L34.4,22.3 L26.5,32.3 H13.7 L5.8,22.3 L8.6,9.9 Z" fill="#2f64e2" stroke="#2f64e2" stroke-width="2.4" stroke-linejoin="round"/>
<circle cx="20.1" cy="19.2" r="7.2" fill="none" stroke="#fff" stroke-width="2"/>
<path d="M20.1,8.2 V19.2 M20.1,19.2 L28.7,12.4 M20.1,19.2 L30.8,21.6 M20.1,19.2 L24.9,29.1 M20.1,19.2 L15.3,29.1 M20.1,19.2 L9.4,21.6 M20.1,19.2 L11.5,12.4" stroke="#fff" stroke-width="1.5"/>
<circle cx="20.1" cy="19.2" r="2.2" fill="#2f64e2" stroke="#fff" stroke-width="1.2"/></g>
</g><rect x="53.1" y="1189.8" width="27" height="13.2" rx="2.4" fill="#4869f1"/><text x="66.6" y="1199.7" font-size="9.6" font-weight="bold" fill="#fff" text-anchor="middle" font-family="Liberation Sans, sans-serif" textLength="21.5" lengthAdjust="spacingAndGlyphs">NEW</text><g transform="translate(38.1,1241.2)">
<rect x="0" y="0" width="36" height="35.8" rx="7" fill="#62cdbb"/><rect x="0.8" y="0.8" width="34.4" height="34.2" rx="6.3" fill="none" stroke="#8fe2d3" stroke-width="1.1"/>
<rect x="3.4" y="3.4" width="29.2" height="29" rx="4.2" fill="#2b8b7c"/>
<path d="M18,8.4 L27.2,13 L18,17.6 L8.8,13 Z" fill="none" stroke="#f2fbf9" stroke-width="1.7" stroke-linejoin="round"/>
<path d="M8.8,17.6 L18,22.2 L27.2,17.6 M8.8,22.2 L18,26.8 L27.2,22.2" fill="none" stroke="#f2fbf9" stroke-width="1.7" stroke-linejoin="round"/>
</g><g transform="translate(55.8,1338.7)"><rect x="-3" y="-20.6" width="6" height="5" rx="1.4" transform="rotate(0)" fill="#8e96b6"/><rect x="-3" y="-20.6" width="6" height="5" rx="1.4" transform="rotate(45)" fill="#8e96b6"/><rect x="-3" y="-20.6" width="6" height="5" rx="1.4" transform="rotate(90)" fill="#8e96b6"/><rect x="-3" y="-20.6" width="6" height="5" rx="1.4" transform="rotate(135)" fill="#8e96b6"/><rect x="-3" y="-20.6" width="6" height="5" rx="1.4" transform="rotate(180)" fill="#8e96b6"/><rect x="-3" y="-20.6" width="6" height="5" rx="1.4" transform="rotate(225)" fill="#8e96b6"/><rect x="-3" y="-20.6" width="6" height="5" rx="1.4" transform="rotate(270)" fill="#8e96b6"/><rect x="-3" y="-20.6" width="6" height="5" rx="1.4" transform="rotate(315)" fill="#8e96b6"/><circle r="14.4" fill="#596384"/><circle r="16" fill="none" stroke="#aeb6d6" stroke-width="3.6"/><rect x="-10.4" y="-7.6" width="21" height="6.4" rx="0.8" fill="#e6e9f5"/><rect x="-10.4" y="1.5" width="21" height="6.6" rx="0.8" fill="#e6e9f5"/><circle cx="-7.2" cy="-4.4" r="1" fill="#8790b2"/><rect x="-3.6" y="-5" width="11.6" height="1.3" fill="#8790b2"/><circle cx="-7.2" cy="4.8" r="1" fill="#8790b2"/><rect x="-3.6" y="4.2" width="11.6" height="1.3" fill="#8790b2"/></g><rect x="53.1" y="1349.8" width="27" height="13.2" rx="2.4" fill="#4869f1"/><text x="66.6" y="1359.7" font-size="9.6" font-weight="bold" fill="#fff" text-anchor="middle" font-family="Liberation Sans, sans-serif" textLength="21.5" lengthAdjust="spacingAndGlyphs">NEW</text><path d="M46.4,1889.6 L57.6,1901 L46.4,1912.6 M57,1889.6 L68.2,1901 L57,1912.6" fill="none" stroke="#f0f0f6" stroke-width="3"/><circle cx="55.9" cy="1966" r="14.6" fill="none" stroke="#f0f0f6" stroke-width="3"/><circle cx="55.9" cy="1966" r="6.6" fill="none" stroke="#f0f0f6" stroke-width="3"/><path d="M45.5,1955.6 L51.2,1961.3 M66.3,1955.6 L60.6,1961.3 M45.5,1976.4 L51.2,1970.7 M66.3,1976.4 L60.6,1970.7" stroke="#f0f0f6" stroke-width="3"/><path d="M43.6,2017 V2043.4 H70" fill="none" stroke="#f0f0f6" stroke-width="3.2"/><rect x="48.2" y="2029" width="4" height="10.4" fill="#f0f0f6"/><rect x="55.8" y="2032.6" width="4" height="6.8" fill="#f0f0f6"/><rect x="63.4" y="2026.4" width="4" height="13" fill="#f0f0f6"/><path d="M45,2024.6 L49.4,2020.2 L56.6,2025.6 L67.6,2018.4" fill="none" stroke="#f0f0f6" stroke-width="2.6"/><circle cx="55.9" cy="2103.8" r="18.6" fill="#3f3f58"/><circle cx="55.9" cy="2103.8" r="17.6" fill="#b1b2d2"/><text x="55.9" y="2112.2" font-size="24" fill="#1b1b2e" text-anchor="middle" font-family="Liberation Sans, sans-serif">K</text>
</svg>
</body></html>
